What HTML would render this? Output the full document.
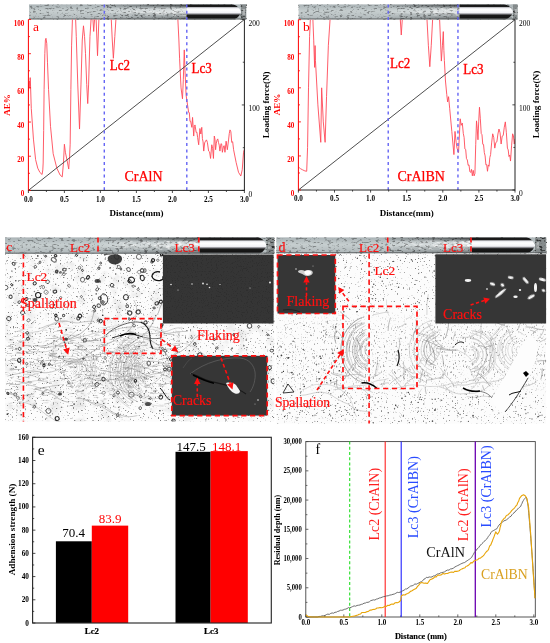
<!DOCTYPE html>
<html><head><meta charset="utf-8"><title>Scratch test figure</title>
<style>html,body{margin:0;padding:0;background:#fff;}svg{display:block;}</style></head>
<body>
<svg width="550" height="643" viewBox="0 0 550 643">
<rect width="550" height="643" fill="#fff"/>
<defs>
<clipPath id="clip_a"><rect x="28" y="19.5" width="217" height="172"/></clipPath>
<clipPath id="clip_b"><rect x="298" y="19.7" width="217" height="172"/></clipPath>
<filter id="speck" x="0" y="0" width="100%" height="100%" color-interpolation-filters="sRGB">
<feTurbulence type="fractalNoise" baseFrequency="0.3 0.6" numOctaves="2" seed="4"/>
<feColorMatrix type="matrix" values="0 0 0 0 0  0 0 0 0 0  0 0 0 0 0  -5 0 0 0 2.3"/>
<feGaussianBlur stdDeviation="0.35"/>
</filter>
<filter id="speck2" x="0" y="0" width="100%" height="100%" color-interpolation-filters="sRGB">
<feTurbulence type="fractalNoise" baseFrequency="0.45" numOctaves="2" seed="11"/>
<feColorMatrix type="matrix" values="0 0 0 0 0  0 0 0 0 0  0 0 0 0 0  -6 0 0 0 2.7"/>
</filter>
<linearGradient id="trackv" x1="0" y1="0" x2="0" y2="1">
<stop offset="0" stop-color="#151515"/><stop offset="0.15" stop-color="#1c1c1c"/><stop offset="0.22" stop-color="#e6e7ec"/>
<stop offset="0.35" stop-color="#ffffff"/><stop offset="0.56" stop-color="#f2f2f6"/><stop offset="0.64" stop-color="#8a8a90"/><stop offset="0.72" stop-color="#1a1a1a"/><stop offset="0.9" stop-color="#141414"/><stop offset="1" stop-color="#555"/>
</linearGradient>
<linearGradient id="partv" x1="0" y1="0" x2="0" y2="1">
<stop offset="0" stop-color="#000" stop-opacity="0.75"/><stop offset="0.14" stop-color="#000" stop-opacity="0.4"/><stop offset="0.3" stop-color="#fff" stop-opacity="0.35"/>
<stop offset="0.55" stop-color="#fff" stop-opacity="0.55"/><stop offset="0.75" stop-color="#000" stop-opacity="0.12"/><stop offset="1" stop-color="#000" stop-opacity="0.45"/>
</linearGradient>
<linearGradient id="fadehg" x1="0" y1="0" x2="1" y2="0">
<stop offset="0" stop-color="#fff" stop-opacity="0.15"/><stop offset="0.5" stop-color="#fff" stop-opacity="0.55"/><stop offset="1" stop-color="#fff" stop-opacity="1"/>
</linearGradient>
<mask id="fadeh" maskContentUnits="objectBoundingBox"><rect width="1" height="1" fill="url(#fadehg)"/></mask>
<filter id="wmottle" x="0" y="0" width="100%" height="100%" color-interpolation-filters="sRGB">
<feTurbulence type="fractalNoise" baseFrequency="0.18 0.45" numOctaves="2" seed="8"/>
<feColorMatrix type="matrix" values="0 0 0 0 1  0 0 0 0 1  0 0 0 0 1  6 0 0 0 -3.1"/>
</filter>
<linearGradient id="grayv" x1="0" y1="0" x2="0" y2="1">
<stop offset="0" stop-color="#aab3b6"/><stop offset="0.45" stop-color="#c6cecf"/><stop offset="1" stop-color="#b0b8ba"/>
</linearGradient>
<g id="strip_a">
<rect x="29" y="4.4" width="217.2" height="15" fill="url(#grayv)"/>
<rect x="29" y="4.4" width="217.2" height="15" fill="#000" filter="url(#speck)" opacity="0.32"/>
<rect x="0" y="0" width="1" height="1" fill="url(#partv)" mask="url(#fadeh)" transform="translate(105,4.4) scale(81.5,15) translate(0,0)"/>
<rect x="105" y="7.4" width="81.5" height="8.25" fill="#fff" filter="url(#wmottle)" opacity="0.45" mask="url(#fadeh)"/>
<rect x="105" y="4.4" width="81.5" height="15" fill="#000" filter="url(#speck)" opacity="0.15"/>
<path d="M186.5,4.4 H232 C237,4.4 240,8.9 241,11.9 C240,14.9 237,19.4 232,19.4 H186.5 Z" fill="url(#trackv)"/>
<rect x="241" y="4.4" width="5.2" height="15" fill="#858b8c"/>
<rect x="241" y="4.4" width="5.2" height="15" fill="#000" filter="url(#speck)" opacity="0.7"/>
<rect x="242.5" y="8.9" width="2.5" height="6" fill="#fff" opacity="0.35" filter="url(#blur05)"/>
<rect x="29" y="18.5" width="217.2" height="0.9" fill="#5a5f60"/>
</g>
<g id="strip_b">
<rect x="298.6" y="4.4" width="218.9" height="15" fill="url(#grayv)"/>
<rect x="298.6" y="4.4" width="218.9" height="15" fill="#000" filter="url(#speck)" opacity="0.32"/>
<rect x="0" y="0" width="1" height="1" fill="url(#partv)" mask="url(#fadeh)" transform="translate(389,4.4) scale(70.5,15) translate(0,0)"/>
<rect x="389" y="7.4" width="70.5" height="8.25" fill="#fff" filter="url(#wmottle)" opacity="0.45" mask="url(#fadeh)"/>
<rect x="389" y="4.4" width="70.5" height="15" fill="#000" filter="url(#speck)" opacity="0.15"/>
<path d="M459.5,4.4 H504 C509,4.4 512,8.9 513,11.9 C512,14.9 509,19.4 504,19.4 H459.5 Z" fill="url(#trackv)"/>
<rect x="513" y="4.4" width="4.5" height="15" fill="#858b8c"/>
<rect x="513" y="4.4" width="4.5" height="15" fill="#000" filter="url(#speck)" opacity="0.7"/>
<rect x="514.5" y="8.9" width="2.5" height="6" fill="#fff" opacity="0.35" filter="url(#blur05)"/>
<rect x="298.6" y="18.5" width="218.9" height="0.9" fill="#5a5f60"/>
</g>
</defs>
<use href="#strip_a"/>
<polyline points="28.4,91.28 28.98,84.44 29.48,81.02 29.84,87.86 30.2,77.61 30.56,86.15 31.28,108.37 33.44,139.13 35.6,159.64 37.76,168.18 39.92,172.46 42.08,174.51 42.8,169.89 43.16,163.06 43.66,130.59 44.1,89.57 44.82,53.68 45.39,40.01 45.97,38.3 46.76,43.43 47.48,62.22 48.56,89.57 50.5,126.31 53.17,153.66 56.84,168.18 60.08,175.02 62.24,176.9 63.46,163.06 64.4,144.26 65.48,152.8 66.78,158.95 68.72,169.04 69.58,156.22 70.16,144.26 70.88,89.57 71.6,45.13 72.46,17.79 75.56,17.79 76.28,36.59 77.79,84.95 79.52,129.05 80.96,84.95 82.26,40.01 83.48,25.82 84.56,36.59 85.5,53.68 86.72,84.44 87.73,103.58 88.59,84.95 89.96,36.59 91.18,17.79 92.84,17.79 93.7,31.46 94.64,17.79 96.08,17.79 97.52,55.73 98.96,17.79 111.2,17.79 112.28,40.01 113.36,58.29 114.8,36.59 116.02,17.79 177.8,17.79 178.88,40.01 179.6,58.81 181.04,87.86 182.48,98.8 183.34,79.31 184.28,49.92 185,70.77 186.08,95.04 186.8,99.99 188.67,112.47 189.32,112.63 189.97,121.35 190.62,121.19 191.84,127.34 192.56,117.43 193.71,136.05 194.36,126.29 195.01,124.95 196.16,132.46 196.88,132.16 197.6,137.42 198.68,144.77 199.9,128.53 200.84,134 201.78,127.34 202.42,138.62 203.07,141.94 203.72,151.09 204.62,142.98 205.52,141.18 206.46,139.87 207.39,142.38 208.62,151.09 209.59,151.84 210.56,158.44 211.78,144.77 212.61,148.31 213.44,158.44 214.3,136.05 214.95,139.09 215.6,149.73 216.32,143.23 217.04,139.98 217.76,138.9 218.48,142.38 219.2,145.12 219.92,151.09 221,143.57 221.68,144.08 222.37,152.29 223.52,146.14 224.24,145.72 224.96,152.29 226.11,141.18 227.34,149.73 228.56,139.98 229.28,133.48 230,129.9 230.86,131.75 231.73,142.38 232.66,141.72 233.6,149.73 236.12,162.37 238.5,172.28 240.8,176.04 242.24,169.72 243.54,152.29 244.4,149.38" fill="none" stroke="#ff4a58" stroke-width="0.9" stroke-linejoin="round" clip-path="url(#clip_a)"/>
<line x1="28.4" y1="190.4" x2="244.4" y2="19.5" stroke="#444" stroke-width="0.95" />
<line x1="104.29" y1="4.5" x2="104.29" y2="190.4" stroke="#6464f4" stroke-width="1.4" stroke-dasharray="3,3.3"/>
<line x1="186.8" y1="4.5" x2="186.8" y2="190.4" stroke="#6464f4" stroke-width="1.4" stroke-dasharray="3,3.3"/>
<line x1="28.4" y1="19.5" x2="28.4" y2="190.8" stroke="#ff0000" stroke-width="1" />
<line x1="28.4" y1="190.4" x2="244.4" y2="190.4" stroke="#222" stroke-width="1" />
<line x1="244.4" y1="19.5" x2="244.4" y2="190.8" stroke="#222" stroke-width="1" />
<line x1="28.4" y1="190.4" x2="31" y2="190.4" stroke="#ff0000" stroke-width="0.8" />
<g transform="translate(24.4,196.4) scale(1,1.1)"><text x="0" y="0" font-size="7.1" fill="#ff0000" font-weight="bold" text-anchor="end" font-family="'Liberation Serif', serif" >0</text></g>
<line x1="28.4" y1="173.31" x2="30" y2="173.31" stroke="#ff0000" stroke-width="0.8" />
<line x1="28.4" y1="156.22" x2="31" y2="156.22" stroke="#ff0000" stroke-width="0.8" />
<g transform="translate(24.4,162.22) scale(1,1.1)"><text x="0" y="0" font-size="7.1" fill="#ff0000" font-weight="bold" text-anchor="end" font-family="'Liberation Serif', serif" >20</text></g>
<line x1="28.4" y1="139.13" x2="30" y2="139.13" stroke="#ff0000" stroke-width="0.8" />
<line x1="28.4" y1="122.04" x2="31" y2="122.04" stroke="#ff0000" stroke-width="0.8" />
<g transform="translate(24.4,128.04) scale(1,1.1)"><text x="0" y="0" font-size="7.1" fill="#ff0000" font-weight="bold" text-anchor="end" font-family="'Liberation Serif', serif" >40</text></g>
<line x1="28.4" y1="104.95" x2="30" y2="104.95" stroke="#ff0000" stroke-width="0.8" />
<line x1="28.4" y1="87.86" x2="31" y2="87.86" stroke="#ff0000" stroke-width="0.8" />
<g transform="translate(24.4,93.86) scale(1,1.1)"><text x="0" y="0" font-size="7.1" fill="#ff0000" font-weight="bold" text-anchor="end" font-family="'Liberation Serif', serif" >60</text></g>
<line x1="28.4" y1="70.77" x2="30" y2="70.77" stroke="#ff0000" stroke-width="0.8" />
<line x1="28.4" y1="53.68" x2="31" y2="53.68" stroke="#ff0000" stroke-width="0.8" />
<g transform="translate(24.4,59.68) scale(1,1.1)"><text x="0" y="0" font-size="7.1" fill="#ff0000" font-weight="bold" text-anchor="end" font-family="'Liberation Serif', serif" >80</text></g>
<line x1="28.4" y1="36.59" x2="30" y2="36.59" stroke="#ff0000" stroke-width="0.8" />
<line x1="28.4" y1="19.5" x2="31" y2="19.5" stroke="#ff0000" stroke-width="0.8" />
<g transform="translate(24.4,25.5) scale(1,1.1)"><text x="0" y="0" font-size="7.1" fill="#ff0000" font-weight="bold" text-anchor="end" font-family="'Liberation Serif', serif" >100</text></g>
<line x1="244.4" y1="190.4" x2="241.8" y2="190.4" stroke="#222" stroke-width="0.8" />
<g transform="translate(248.4,196.5) scale(1,1.1)"><text x="0" y="0" font-size="7.5" fill="#000" font-weight="normal" text-anchor="start" font-family="'Liberation Serif', serif" >0</text></g>
<line x1="244.4" y1="147.68" x2="242.8" y2="147.68" stroke="#222" stroke-width="0.8" />
<line x1="244.4" y1="104.95" x2="241.8" y2="104.95" stroke="#222" stroke-width="0.8" />
<g transform="translate(248.4,111.05) scale(1,1.1)"><text x="0" y="0" font-size="7.5" fill="#000" font-weight="normal" text-anchor="start" font-family="'Liberation Serif', serif" >100</text></g>
<line x1="244.4" y1="62.22" x2="242.8" y2="62.22" stroke="#222" stroke-width="0.8" />
<line x1="244.4" y1="19.5" x2="241.8" y2="19.5" stroke="#222" stroke-width="0.8" />
<g transform="translate(248.4,25.6) scale(1,1.1)"><text x="0" y="0" font-size="7.5" fill="#000" font-weight="normal" text-anchor="start" font-family="'Liberation Serif', serif" >200</text></g>
<line x1="28.4" y1="190.4" x2="28.4" y2="193" stroke="#222" stroke-width="0.8" />
<g transform="translate(28.4,201.6) scale(1,1.12)"><text x="0" y="0" font-size="7.2" fill="#000" font-weight="bold" text-anchor="middle" font-family="'Liberation Serif', serif" >0.0</text></g>
<line x1="46.4" y1="190.4" x2="46.4" y2="192" stroke="#222" stroke-width="0.8" />
<line x1="64.4" y1="190.4" x2="64.4" y2="193" stroke="#222" stroke-width="0.8" />
<g transform="translate(64.4,201.6) scale(1,1.12)"><text x="0" y="0" font-size="7.2" fill="#000" font-weight="bold" text-anchor="middle" font-family="'Liberation Serif', serif" >0.5</text></g>
<line x1="82.4" y1="190.4" x2="82.4" y2="192" stroke="#222" stroke-width="0.8" />
<line x1="100.4" y1="190.4" x2="100.4" y2="193" stroke="#222" stroke-width="0.8" />
<g transform="translate(100.4,201.6) scale(1,1.12)"><text x="0" y="0" font-size="7.2" fill="#000" font-weight="bold" text-anchor="middle" font-family="'Liberation Serif', serif" >1.0</text></g>
<line x1="118.4" y1="190.4" x2="118.4" y2="192" stroke="#222" stroke-width="0.8" />
<line x1="136.4" y1="190.4" x2="136.4" y2="193" stroke="#222" stroke-width="0.8" />
<g transform="translate(136.4,201.6) scale(1,1.12)"><text x="0" y="0" font-size="7.2" fill="#000" font-weight="bold" text-anchor="middle" font-family="'Liberation Serif', serif" >1.5</text></g>
<line x1="154.4" y1="190.4" x2="154.4" y2="192" stroke="#222" stroke-width="0.8" />
<line x1="172.4" y1="190.4" x2="172.4" y2="193" stroke="#222" stroke-width="0.8" />
<g transform="translate(172.4,201.6) scale(1,1.12)"><text x="0" y="0" font-size="7.2" fill="#000" font-weight="bold" text-anchor="middle" font-family="'Liberation Serif', serif" >2.0</text></g>
<line x1="190.4" y1="190.4" x2="190.4" y2="192" stroke="#222" stroke-width="0.8" />
<line x1="208.4" y1="190.4" x2="208.4" y2="193" stroke="#222" stroke-width="0.8" />
<g transform="translate(208.4,201.6) scale(1,1.12)"><text x="0" y="0" font-size="7.2" fill="#000" font-weight="bold" text-anchor="middle" font-family="'Liberation Serif', serif" >2.5</text></g>
<line x1="226.4" y1="190.4" x2="226.4" y2="192" stroke="#222" stroke-width="0.8" />
<line x1="244.4" y1="190.4" x2="244.4" y2="193" stroke="#222" stroke-width="0.8" />
<g transform="translate(244.4,201.6) scale(1,1.12)"><text x="0" y="0" font-size="7.2" fill="#000" font-weight="bold" text-anchor="middle" font-family="'Liberation Serif', serif" >3.0</text></g>
<text x="33" y="31.4" font-size="13.5" fill="#ff0000" font-weight="normal" text-anchor="start" font-family="'Liberation Serif', serif" >a</text>
<g transform="translate(109.8,69.6) scale(1,1.08)"><text x="0" y="0" font-size="13" fill="#ff0000" font-weight="normal" text-anchor="start" font-family="'Liberation Serif', serif" stroke="#ff0000" stroke-width="0.3">Lc2</text></g>
<g transform="translate(191.6,73.2) scale(1,1.08)"><text x="0" y="0" font-size="13" fill="#ff0000" font-weight="normal" text-anchor="start" font-family="'Liberation Serif', serif" stroke="#ff0000" stroke-width="0.3">Lc3</text></g>
<text x="124.4" y="180.7" font-size="14" fill="#ff0000" font-weight="normal" text-anchor="start" font-family="'Liberation Serif', serif" stroke="#ff0000" stroke-width="0.25">CrAlN</text>
<text x="136.4" y="216.3" font-size="9" fill="#000" font-weight="bold" text-anchor="middle" font-family="'Liberation Serif', serif" >Distance(mm)</text>
<use href="#strip_b"/>
<polyline points="298.4,167.01 300.57,168.71 302.73,169.9 304.9,170.93 306.7,171.27 307.57,147.43 308.51,87.82 309.59,36.73 310.39,18 312.84,18 313.71,40.14 314.64,67.38 315.08,45.59 315.44,60.57 315.87,68.07 317.89,104.85 320.78,142.32 321.65,87.82 323.31,121.88 325.11,142.32 326.56,96.33 328.36,45.25 330.17,18 400.2,18 401.28,35.03 402.37,18 426.92,18 428.36,45.25 429.8,66.7 431.25,45.25 432.69,18 439.55,18 441.36,61.08 442.44,45.25 443.31,31.62 443.88,50.35 444.39,60.57 445.47,81.01 446.77,94.63 447.64,101.95 448.58,96.68 449.66,108.26 451.82,131.42 453.92,154.58 455,131.42 456.16,142.32 457.02,148.11 458.54,152.53 460.2,118.81 461.21,125.29 462.29,123.07 463.3,133.46 464.1,137.39 464.89,148.91 465.69,149.49 466.48,158.66 467.32,159.93 468.16,165.33 468.99,164.83 469.83,171.54 470.67,172.46 471.52,169.41 472.37,175.8 473.23,170.37 474.08,175.86 474.93,173.48 475.72,144.31 476.52,120.86 477.24,128.8 477.96,139.76 478.72,121.22 479.48,107.23 480.34,118.8 481.21,133.46 481.99,134.73 482.76,144.28 483.54,144.49 484.31,152.53 485.11,155.9 485.9,164.83 486.7,164.58 487.49,171.27 488.27,164.91 489.04,166.26 489.82,157.58 490.6,154.58 491.64,142.91 492.69,133.8 493.74,137.43 494.78,148.11 495.83,142.5 496.88,141.81 497.92,134.06 498.97,129.03 500.05,132.81 501.14,144.02 502.18,136.15 503.23,135.5 504.28,127.27 505.33,121.88 506.37,132.76 507.42,148.11 508.2,149.86 508.97,156.52 509.75,155.06 510.52,161.05 511.57,145.87 512.62,133.8 513.45,135.96 514.28,144.02 515,138.91" fill="none" stroke="#ff4a58" stroke-width="0.9" stroke-linejoin="round" clip-path="url(#clip_b)"/>
<line x1="298.4" y1="190" x2="515" y2="19.7" stroke="#444" stroke-width="0.95" />
<line x1="388.22" y1="4.5" x2="388.22" y2="190" stroke="#6464f4" stroke-width="1.4" stroke-dasharray="3,3.3"/>
<line x1="457.96" y1="4.5" x2="457.96" y2="190" stroke="#6464f4" stroke-width="1.4" stroke-dasharray="3,3.3"/>
<line x1="298.4" y1="19.7" x2="298.4" y2="190.4" stroke="#ff0000" stroke-width="1" />
<line x1="298.4" y1="190" x2="515" y2="190" stroke="#222" stroke-width="1" />
<line x1="515" y1="19.7" x2="515" y2="190.4" stroke="#222" stroke-width="1" />
<line x1="298.4" y1="190" x2="301" y2="190" stroke="#ff0000" stroke-width="0.8" />
<g transform="translate(294.4,196) scale(1,1.1)"><text x="0" y="0" font-size="7.1" fill="#ff0000" font-weight="bold" text-anchor="end" font-family="'Liberation Serif', serif" >0</text></g>
<line x1="298.4" y1="172.97" x2="300" y2="172.97" stroke="#ff0000" stroke-width="0.8" />
<line x1="298.4" y1="155.94" x2="301" y2="155.94" stroke="#ff0000" stroke-width="0.8" />
<g transform="translate(294.4,161.94) scale(1,1.1)"><text x="0" y="0" font-size="7.1" fill="#ff0000" font-weight="bold" text-anchor="end" font-family="'Liberation Serif', serif" >20</text></g>
<line x1="298.4" y1="138.91" x2="300" y2="138.91" stroke="#ff0000" stroke-width="0.8" />
<line x1="298.4" y1="121.88" x2="301" y2="121.88" stroke="#ff0000" stroke-width="0.8" />
<g transform="translate(294.4,127.88) scale(1,1.1)"><text x="0" y="0" font-size="7.1" fill="#ff0000" font-weight="bold" text-anchor="end" font-family="'Liberation Serif', serif" >40</text></g>
<line x1="298.4" y1="104.85" x2="300" y2="104.85" stroke="#ff0000" stroke-width="0.8" />
<line x1="298.4" y1="87.82" x2="301" y2="87.82" stroke="#ff0000" stroke-width="0.8" />
<g transform="translate(294.4,93.82) scale(1,1.1)"><text x="0" y="0" font-size="7.1" fill="#ff0000" font-weight="bold" text-anchor="end" font-family="'Liberation Serif', serif" >60</text></g>
<line x1="298.4" y1="70.79" x2="300" y2="70.79" stroke="#ff0000" stroke-width="0.8" />
<line x1="298.4" y1="53.76" x2="301" y2="53.76" stroke="#ff0000" stroke-width="0.8" />
<g transform="translate(294.4,59.76) scale(1,1.1)"><text x="0" y="0" font-size="7.1" fill="#ff0000" font-weight="bold" text-anchor="end" font-family="'Liberation Serif', serif" >80</text></g>
<line x1="298.4" y1="36.73" x2="300" y2="36.73" stroke="#ff0000" stroke-width="0.8" />
<line x1="298.4" y1="19.7" x2="301" y2="19.7" stroke="#ff0000" stroke-width="0.8" />
<g transform="translate(294.4,25.7) scale(1,1.1)"><text x="0" y="0" font-size="7.1" fill="#ff0000" font-weight="bold" text-anchor="end" font-family="'Liberation Serif', serif" >100</text></g>
<line x1="515" y1="190" x2="512.4" y2="190" stroke="#222" stroke-width="0.8" />
<g transform="translate(519,196.1) scale(1,1.1)"><text x="0" y="0" font-size="7.5" fill="#000" font-weight="normal" text-anchor="start" font-family="'Liberation Serif', serif" >0</text></g>
<line x1="515" y1="147.43" x2="513.4" y2="147.43" stroke="#222" stroke-width="0.8" />
<line x1="515" y1="104.85" x2="512.4" y2="104.85" stroke="#222" stroke-width="0.8" />
<g transform="translate(519,110.95) scale(1,1.1)"><text x="0" y="0" font-size="7.5" fill="#000" font-weight="normal" text-anchor="start" font-family="'Liberation Serif', serif" >100</text></g>
<line x1="515" y1="62.27" x2="513.4" y2="62.27" stroke="#222" stroke-width="0.8" />
<line x1="515" y1="19.7" x2="512.4" y2="19.7" stroke="#222" stroke-width="0.8" />
<g transform="translate(519,25.8) scale(1,1.1)"><text x="0" y="0" font-size="7.5" fill="#000" font-weight="normal" text-anchor="start" font-family="'Liberation Serif', serif" >200</text></g>
<line x1="298.4" y1="190" x2="298.4" y2="192.6" stroke="#222" stroke-width="0.8" />
<g transform="translate(298.4,201.2) scale(1,1.12)"><text x="0" y="0" font-size="7.2" fill="#000" font-weight="bold" text-anchor="middle" font-family="'Liberation Serif', serif" >0.0</text></g>
<line x1="316.45" y1="190" x2="316.45" y2="191.6" stroke="#222" stroke-width="0.8" />
<line x1="334.5" y1="190" x2="334.5" y2="192.6" stroke="#222" stroke-width="0.8" />
<g transform="translate(334.5,201.2) scale(1,1.12)"><text x="0" y="0" font-size="7.2" fill="#000" font-weight="bold" text-anchor="middle" font-family="'Liberation Serif', serif" >0.5</text></g>
<line x1="352.55" y1="190" x2="352.55" y2="191.6" stroke="#222" stroke-width="0.8" />
<line x1="370.6" y1="190" x2="370.6" y2="192.6" stroke="#222" stroke-width="0.8" />
<g transform="translate(370.6,201.2) scale(1,1.12)"><text x="0" y="0" font-size="7.2" fill="#000" font-weight="bold" text-anchor="middle" font-family="'Liberation Serif', serif" >1.0</text></g>
<line x1="388.65" y1="190" x2="388.65" y2="191.6" stroke="#222" stroke-width="0.8" />
<line x1="406.7" y1="190" x2="406.7" y2="192.6" stroke="#222" stroke-width="0.8" />
<g transform="translate(406.7,201.2) scale(1,1.12)"><text x="0" y="0" font-size="7.2" fill="#000" font-weight="bold" text-anchor="middle" font-family="'Liberation Serif', serif" >1.5</text></g>
<line x1="424.75" y1="190" x2="424.75" y2="191.6" stroke="#222" stroke-width="0.8" />
<line x1="442.8" y1="190" x2="442.8" y2="192.6" stroke="#222" stroke-width="0.8" />
<g transform="translate(442.8,201.2) scale(1,1.12)"><text x="0" y="0" font-size="7.2" fill="#000" font-weight="bold" text-anchor="middle" font-family="'Liberation Serif', serif" >2.0</text></g>
<line x1="460.85" y1="190" x2="460.85" y2="191.6" stroke="#222" stroke-width="0.8" />
<line x1="478.9" y1="190" x2="478.9" y2="192.6" stroke="#222" stroke-width="0.8" />
<g transform="translate(478.9,201.2) scale(1,1.12)"><text x="0" y="0" font-size="7.2" fill="#000" font-weight="bold" text-anchor="middle" font-family="'Liberation Serif', serif" >2.5</text></g>
<line x1="496.95" y1="190" x2="496.95" y2="191.6" stroke="#222" stroke-width="0.8" />
<line x1="515" y1="190" x2="515" y2="192.6" stroke="#222" stroke-width="0.8" />
<g transform="translate(515,201.2) scale(1,1.12)"><text x="0" y="0" font-size="7.2" fill="#000" font-weight="bold" text-anchor="middle" font-family="'Liberation Serif', serif" >3.0</text></g>
<text x="303" y="31.4" font-size="13.5" fill="#ff0000" font-weight="normal" text-anchor="start" font-family="'Liberation Serif', serif" >b</text>
<g transform="translate(390,68) scale(1,1.08)"><text x="0" y="0" font-size="13" fill="#ff0000" font-weight="normal" text-anchor="start" font-family="'Liberation Serif', serif" stroke="#ff0000" stroke-width="0.3">Lc2</text></g>
<g transform="translate(463.3,73.6) scale(1,1.08)"><text x="0" y="0" font-size="13" fill="#ff0000" font-weight="normal" text-anchor="start" font-family="'Liberation Serif', serif" stroke="#ff0000" stroke-width="0.3">Lc3</text></g>
<text x="397.4" y="181.4" font-size="14" fill="#ff0000" font-weight="normal" text-anchor="start" font-family="'Liberation Serif', serif" stroke="#ff0000" stroke-width="0.25">CrAlBN</text>
<text x="406.7" y="216.3" font-size="9" fill="#000" font-weight="bold" text-anchor="middle" font-family="'Liberation Serif', serif" >Distance(mm)</text>
<text x="6.6" y="105" font-size="9" fill="#ff0000" font-weight="bold" text-anchor="middle" font-family="'Liberation Serif', serif" transform="rotate(-90 6.6 105)" dy="3">AE%</text>
<text x="266" y="104.8" font-size="9.1" fill="#000" font-weight="bold" text-anchor="middle" font-family="'Liberation Serif', serif" transform="rotate(-90 266 104.8)" dy="3">Loading force(N)</text>
<text x="277.1" y="104.5" font-size="9" fill="#ff0000" font-weight="bold" text-anchor="middle" font-family="'Liberation Serif', serif" transform="rotate(-90 277.1 104.5)" dy="3">AE%</text>
<text x="535.8" y="104.5" font-size="9.2" fill="#000" font-weight="bold" text-anchor="middle" font-family="'Liberation Serif', serif" transform="rotate(-90 535.8 104.5)" dy="3">Loading force(N)</text>
<defs>
<filter id="speck3" x="0" y="0" width="100%" height="100%" color-interpolation-filters="sRGB">
<feTurbulence type="fractalNoise" baseFrequency="0.25 0.5" numOctaves="2" seed="21"/>
<feColorMatrix type="matrix" values="0 0 0 0 0  0 0 0 0 0  0 0 0 0 0  -5 0 0 0 2.3"/>
<feGaussianBlur stdDeviation="0.35"/>
</filter>
<filter id="speckW" x="0" y="0" width="100%" height="100%" color-interpolation-filters="sRGB">
<feTurbulence type="fractalNoise" baseFrequency="0.6" numOctaves="2" seed="5"/>
<feColorMatrix type="matrix" values="0 0 0 0 0  0 0 0 0 0  0 0 0 0 0  -7 0 0 0 2.45"/>
<feGaussianBlur stdDeviation="0.3"/>
</filter>
<filter id="speckW2" x="0" y="0" width="100%" height="100%" color-interpolation-filters="sRGB">
<feTurbulence type="fractalNoise" baseFrequency="0.65" numOctaves="2" seed="13"/>
<feColorMatrix type="matrix" values="0 0 0 0 0  0 0 0 0 0  0 0 0 0 0  -8 0 0 0 2.75"/>
<feGaussianBlur stdDeviation="0.3"/>
</filter>
<filter id="haze" x="0" y="0" width="100%" height="100%" color-interpolation-filters="sRGB">
<feTurbulence type="fractalNoise" baseFrequency="0.08" numOctaves="3" seed="3"/>
<feColorMatrix type="matrix" values="0 0 0 0 0  0 0 0 0 0  0 0 0 0 0  -3 0 0 0 1.45"/>
</filter>
<filter id="speckD" x="0" y="0" width="100%" height="100%" color-interpolation-filters="sRGB">
<feTurbulence type="fractalNoise" baseFrequency="0.8" numOctaves="2" seed="9"/>
<feColorMatrix type="matrix" values="0 0 0 0 0  0 0 0 0 0  0 0 0 0 0  -6 0 0 0 2.6"/>
</filter>
<filter id="striae" x="0" y="0" width="100%" height="100%" color-interpolation-filters="sRGB">
<feTurbulence type="fractalNoise" baseFrequency="0.12 0.55" numOctaves="3" seed="17"/>
<feColorMatrix type="matrix" values="0 0 0 0 0  0 0 0 0 0  0 0 0 0 0  -7 0 0 0 2.95"/>
<feGaussianBlur stdDeviation="0.25"/>
</filter>
<filter id="hatch" x="0" y="0" width="100%" height="100%" color-interpolation-filters="sRGB">
<feTurbulence type="fractalNoise" baseFrequency="0.9 0.35" numOctaves="2" seed="23"/>
<feColorMatrix type="matrix" values="0 0 0 0 0  0 0 0 0 0  0 0 0 0 0  -8 0 0 0 2.9"/>
<feGaussianBlur stdDeviation="0.2"/>
</filter>
<linearGradient id="bandfade" x1="0" y1="0" x2="0" y2="1">
<stop offset="0" stop-color="#fff" stop-opacity="0"/><stop offset="0.2" stop-color="#fff" stop-opacity="1"/><stop offset="0.8" stop-color="#fff" stop-opacity="1"/><stop offset="1" stop-color="#fff" stop-opacity="0"/>
</linearGradient>
<mask id="bandmask" maskContentUnits="objectBoundingBox"><rect width="1" height="1" fill="url(#bandfade)"/></mask>
<filter id="blur1"><feGaussianBlur stdDeviation="0.8"/></filter>
<filter id="blur05"><feGaussianBlur stdDeviation="0.45"/></filter>
<clipPath id="clip_c"><rect x="5" y="253.6" width="269.3" height="168"/></clipPath>
<clipPath id="clip_d"><rect x="276.3" y="253.2" width="269.9" height="170.3"/></clipPath>
</defs>
<rect x="5" y="253.6" width="269.3" height="168" fill="#fcfcfc"/>
<g clip-path="url(#clip_c)">
<rect x="5" y="253.6" width="269.3" height="168" fill="#000" filter="url(#speckW)" opacity="0.5"/>
<rect x="5" y="253.6" width="269.3" height="168" fill="#888" filter="url(#haze)" opacity="0.08"/>
<rect x="5" y="322" width="175" height="88" fill="#000" filter="url(#striae)" opacity="0.22" mask="url(#bandmask)"/>
<rect x="60" y="345" width="115" height="48" fill="#000" filter="url(#hatch)" opacity="0.3" mask="url(#bandmask)"/>
<path d="M60.05,339.62 C60.92,339.54 63.55,339.4 65.29,339.19 C67.03,338.98 68.81,338.85 70.48,338.34 C72.14,337.84 73.66,336.89 75.26,336.17 C76.85,335.45 78.58,334.94 80.05,334.01 C81.52,333.09 82.75,331.78 84.07,330.63 C85.39,329.47 86.83,328.41 87.95,327.09 C89.07,325.76 90.04,324.24 90.8,322.67 C91.56,321.11 91.96,319.37 92.49,317.7 C93.02,316.03 93.31,314.27 93.95,312.65 C94.6,311.03 95.97,308.76 96.37,307.98" fill="none" stroke="#878787" stroke-width="0.59" stroke-linejoin="round" />
<path d="M112.21,372.89 C113.14,372.65 115.99,372.09 117.8,371.46 C119.61,370.84 121.31,369.87 123.08,369.13 C124.85,368.38 126.75,367.87 128.43,366.97 C130.12,366.06 132.4,364.24 133.19,363.69" fill="none" stroke="#adadad" stroke-width="0.43" stroke-linejoin="round" />
<path d="M25.02,351.75 C25.87,351.73 28.4,351.59 30.09,351.61 C31.78,351.64 33.46,351.87 35.15,351.89 C36.84,351.92 38.53,351.8 40.22,351.79 C41.9,351.78 43.62,352.03 45.28,351.83 C46.94,351.62 48.64,351.18 50.19,350.55 C51.74,349.92 53.2,349 54.59,348.04 C55.97,347.08 57.13,345.8 58.48,344.79 C59.83,343.79 61.31,342.95 62.7,341.99 C64.08,341.02 65.49,340.07 66.79,339 C68.09,337.93 69.25,336.69 70.53,335.58 C71.8,334.47 73.14,333.44 74.43,332.35 C75.72,331.25 77.61,329.57 78.25,329.01" fill="none" stroke="#9e9e9e" stroke-width="0.45" stroke-linejoin="round" />
<path d="M35.56,388.05 C36.56,388 39.58,387.94 41.58,387.74 C43.57,387.54 45.55,387.19 47.54,386.87 C49.52,386.55 51.48,386.11 53.47,385.82 C55.45,385.53 58.46,385.27 59.45,385.16" fill="none" stroke="#818181" stroke-width="0.42" stroke-linejoin="round" />
<path d="M76.08,386.3 C76.97,386.05 79.6,385.2 81.39,384.78 C83.18,384.36 84.99,383.98 86.82,383.8 C88.64,383.62 90.5,383.69 92.34,383.69 C94.18,383.7 96.05,383.58 97.86,383.83 C99.67,384.08 102.31,384.96 103.21,385.19" fill="none" stroke="#a0a0a0" stroke-width="0.47" stroke-linejoin="round" />
<path d="M64.53,366.24 C65.38,365.94 67.99,365.12 69.65,364.39 C71.3,363.66 72.81,362.6 74.46,361.85 C76.11,361.11 77.96,360.76 79.54,359.9 C81.12,359.04 82.4,357.66 83.94,356.7 C85.47,355.74 87.19,355.09 88.74,354.15 C90.29,353.21 91.7,352.05 93.22,351.06 C94.73,350.06 96.25,349.05 97.84,348.18 C99.42,347.31 101.12,346.64 102.74,345.82 C104.36,345.01 105.91,344.04 107.56,343.31 C109.22,342.58 110.92,341.86 112.67,341.44 C114.42,341.02 117.17,340.9 118.07,340.8" fill="none" stroke="#a4a4a4" stroke-width="0.4" stroke-linejoin="round" />
<path d="M83.49,340.94 C84.35,340.99 86.94,341.32 88.65,341.22 C90.36,341.13 92.08,340.78 93.75,340.36 C95.42,339.95 97.04,339.34 98.66,338.74 C100.28,338.15 101.8,337.27 103.45,336.8 C105.1,336.34 107.71,336.11 108.56,335.97" fill="none" stroke="#828282" stroke-width="0.43" stroke-linejoin="round" />
<path d="M73.28,349.39 C74.17,349.41 76.87,349.33 78.65,349.47 C80.43,349.6 82.27,349.71 83.97,350.2 C85.67,350.7 87.27,351.6 88.85,352.43 C90.43,353.27 91.89,354.33 93.46,355.19 C95.03,356.05 97.45,357.2 98.25,357.61" fill="none" stroke="#959595" stroke-width="0.43" stroke-linejoin="round" />
<path d="M34.96,345.86 C35.84,345.9 38.47,346.16 40.23,346.12 C41.98,346.09 43.79,346.05 45.48,345.64 C47.17,345.22 48.76,344.34 50.36,343.63 C51.97,342.92 53.58,342.2 55.14,341.39 C56.7,340.58 58.18,339.62 59.73,338.78 C61.28,337.94 63.64,336.76 64.42,336.35" fill="none" stroke="#888888" stroke-width="0.54" stroke-linejoin="round" />
<path d="M92.63,375.55 C93.52,375.67 96.22,375.88 97.97,376.27 C99.71,376.65 101.47,377.14 103.11,377.86 C104.74,378.58 106.3,379.53 107.76,380.56 C109.22,381.59 110.46,382.93 111.86,384.04 C113.27,385.16 114.71,386.23 116.18,387.25 C117.65,388.28 119.09,389.41 120.69,390.2 C122.28,390.99 124.09,391.33 125.76,392 C127.42,392.66 128.96,393.69 130.67,394.2 C132.37,394.71 134.2,395 135.98,395.05 C137.76,395.1 140.44,394.6 141.33,394.51" fill="none" stroke="#929292" stroke-width="0.49" stroke-linejoin="round" />
<path d="M23.69,374.26 C24.52,374.29 27.07,374.16 28.71,374.45 C30.34,374.73 31.92,375.41 33.5,375.97 C35.07,376.53 36.56,377.4 38.17,377.81 C39.78,378.22 41.49,378.35 43.16,378.4 C44.83,378.45 47.34,378.16 48.17,378.11" fill="none" stroke="#a8a8a8" stroke-width="0.43" stroke-linejoin="round" />
<path d="M47.88,354.75 C48.79,354.86 51.57,354.92 53.3,355.4 C55.04,355.87 56.63,356.88 58.3,357.6 C59.97,358.31 61.66,359 63.34,359.69 C65.02,360.38 66.65,361.28 68.4,361.74 C70.14,362.2 72,362.45 73.81,362.48 C75.61,362.51 77.44,362.19 79.24,361.92 C81.03,361.65 83.7,361.03 84.59,360.85" fill="none" stroke="#999999" stroke-width="0.5" stroke-linejoin="round" />
<path d="M122.65,367.76 C123.49,367.78 126.02,367.75 127.69,367.89 C129.36,368.02 131.08,368.15 132.69,368.59 C134.3,369.02 135.86,369.74 137.35,370.5 C138.85,371.25 140.19,372.32 141.67,373.1 C143.16,373.88 144.77,374.41 146.27,375.17 C147.78,375.92 149.95,377.21 150.68,377.62" fill="none" stroke="#838383" stroke-width="0.54" stroke-linejoin="round" />
<path d="M49.39,356.24 C50.33,356.32 53.18,356.4 55.04,356.72 C56.9,357.03 58.68,357.75 60.53,358.13 C62.38,358.51 64.26,358.85 66.14,358.98 C68.02,359.11 69.93,358.74 71.81,358.89 C73.68,359.03 76.46,359.69 77.39,359.85" fill="none" stroke="#909090" stroke-width="0.56" stroke-linejoin="round" />
<path d="M144.12,384.97 C144.98,384.9 147.64,384.92 149.32,384.54 C151,384.16 152.69,383.51 154.2,382.68 C155.71,381.84 157.05,380.66 158.36,379.52 C159.68,378.38 160.93,377.15 162.07,375.85 C163.22,374.54 164.09,373 165.22,371.68 C166.34,370.35 168.22,368.52 168.82,367.89" fill="none" stroke="#a4a4a4" stroke-width="0.49" stroke-linejoin="round" />
<path d="M164.29,404.08 C165.14,403.91 167.74,403.52 169.4,403.04 C171.06,402.56 172.72,401.95 174.27,401.19 C175.82,400.43 177.33,399.51 178.72,398.48 C180.12,397.45 181.29,396.13 182.63,395.03 C183.97,393.93 185.29,392.75 186.78,391.88 C188.27,391.01 189.92,390.33 191.56,389.81 C193.21,389.29 194.97,389.11 196.67,388.75 C198.37,388.39 200.05,387.92 201.76,387.63 C203.47,387.33 205.2,387.04 206.93,386.98 C208.66,386.92 210.41,387.38 212.13,387.26 C213.85,387.14 215.53,386.51 217.24,386.26 C218.96,386 220.71,385.7 222.43,385.75 C224.15,385.79 226.73,386.38 227.59,386.51" fill="none" stroke="#919191" stroke-width="0.5" stroke-linejoin="round" />
<path d="M35.35,388.76 C36.17,389.07 38.6,390.03 40.25,390.58 C41.91,391.14 43.58,391.64 45.26,392.09 C46.95,392.55 48.74,392.68 50.35,393.3 C51.97,393.92 53.48,394.88 54.94,395.82 C56.41,396.76 57.66,398.04 59.15,398.93 C60.64,399.82 62.25,400.59 63.89,401.15 C65.53,401.71 68.15,402.08 69,402.27" fill="none" stroke="#8b8b8b" stroke-width="0.52" stroke-linejoin="round" />
<path d="M84.11,378.5 C84.95,378.51 87.51,378.31 89.17,378.54 C90.82,378.77 92.39,379.61 94.04,379.89 C95.7,380.17 97.41,380.08 99.09,380.21 C100.77,380.34 102.46,380.76 104.13,380.68 C105.79,380.59 107.42,379.88 109.09,379.7 C110.76,379.53 112.47,379.54 114.15,379.63 C115.83,379.71 117.49,380.23 119.17,380.24 C120.84,380.24 122.51,379.71 124.19,379.64 C125.87,379.57 127.57,379.93 129.25,379.81 C130.92,379.68 133.39,379.03 134.22,378.88" fill="none" stroke="#909090" stroke-width="0.57" stroke-linejoin="round" />
<path d="M40.88,347.39 C41.84,347.38 44.74,347.49 46.65,347.33 C48.56,347.17 50.46,346.78 52.36,346.44 C54.25,346.1 56.19,345.87 58.01,345.27 C59.83,344.68 61.45,343.46 63.27,342.89 C65.1,342.33 67.08,342.29 68.96,341.87 C70.83,341.44 73.6,340.6 74.53,340.35" fill="none" stroke="#b2b2b2" stroke-width="0.53" stroke-linejoin="round" />
<path d="M143.56,367.79 C144.4,367.68 146.98,367.52 148.63,367.12 C150.28,366.73 151.84,365.98 153.45,365.42 C155.06,364.86 156.63,364.12 158.28,363.75 C159.93,363.38 161.66,363.23 163.36,363.19 C165.06,363.14 166.77,363.32 168.47,363.47 C170.16,363.63 171.88,363.75 173.54,364.09 C175.21,364.44 176.78,365.23 178.45,365.54 C180.11,365.85 181.85,365.99 183.54,365.93 C185.24,365.88 186.91,365.4 188.61,365.23 C190.3,365.06 192.04,365.19 193.71,364.89 C195.38,364.58 197.07,364.1 198.6,363.4 C200.14,362.71 202.22,361.15 202.94,360.7" fill="none" stroke="#bababa" stroke-width="0.51" stroke-linejoin="round" />
<path d="M87.02,387.79 C87.88,387.53 90.54,386.99 92.14,386.25 C93.75,385.52 95.29,384.51 96.66,383.38 C98.02,382.26 99.14,380.83 100.35,379.52 C101.57,378.22 102.95,377.02 103.94,375.55 C104.92,374.09 105.31,372.23 106.27,370.74 C107.22,369.25 108.73,368.11 109.66,366.61 C110.59,365.11 111.22,363.4 111.87,361.74 C112.52,360.08 112.77,358.24 113.56,356.67 C114.34,355.09 115.54,353.7 116.6,352.27 C117.66,350.84 118.94,349.56 119.91,348.07 C120.88,346.59 121.69,344.97 122.42,343.35 C123.15,341.73 123.97,339.17 124.28,338.34" fill="none" stroke="#b9b9b9" stroke-width="0.51" stroke-linejoin="round" />
<path d="M86.27,400.5 C87.12,400.81 89.66,401.9 91.42,402.41 C93.17,402.92 95.01,403.15 96.79,403.56 C98.58,403.98 100.43,404.23 102.12,404.91 C103.81,405.58 105.42,406.55 106.91,407.61 C108.4,408.66 109.56,410.18 111.05,411.22 C112.55,412.26 114.19,413.16 115.88,413.85 C117.56,414.53 119.4,414.87 121.17,415.33 C122.94,415.79 124.71,416.42 126.51,416.62 C128.32,416.82 130.19,416.69 132.01,416.52 C133.83,416.34 136.52,415.72 137.42,415.56" fill="none" stroke="#818181" stroke-width="0.44" stroke-linejoin="round" />
<path d="M56.47,337.42 C57.35,337.59 59.96,338.17 61.72,338.44 C63.49,338.71 65.26,338.97 67.04,339.03 C68.82,339.1 70.63,339.09 72.39,338.84 C74.14,338.58 75.84,337.95 77.56,337.49 C79.29,337.02 80.97,336.4 82.71,336.04 C84.46,335.69 86.31,335.8 88.02,335.37 C89.74,334.94 91.3,333.88 93.01,333.44 C94.73,332.99 96.59,333.12 98.31,332.7 C100.03,332.28 101.65,331.42 103.35,330.91 C105.06,330.4 106.86,330.21 108.55,329.64 C110.23,329.08 112.64,327.88 113.46,327.53" fill="none" stroke="#afafaf" stroke-width="0.6" stroke-linejoin="round" />
<path d="M73.65,360.44 C74.53,360.28 77.21,359.88 78.97,359.48 C80.72,359.07 82.44,358.52 84.17,358.01 C85.89,357.5 87.58,356.84 89.33,356.41 C91.08,355.98 92.89,355.83 94.65,355.45 C96.41,355.07 98.14,354.56 99.89,354.13 C101.64,353.69 103.42,353.38 105.14,352.86 C106.86,352.33 109.36,351.27 110.2,350.95" fill="none" stroke="#808080" stroke-width="0.42" stroke-linejoin="round" />
<path d="M161.15,345.6 C162.01,345.39 164.58,344.55 166.32,344.35 C168.07,344.15 169.88,344.54 171.64,344.39 C173.4,344.23 175.11,343.6 176.87,343.41 C178.63,343.22 180.42,343.14 182.19,343.25 C183.95,343.37 185.73,343.64 187.43,344.1 C189.14,344.57 190.78,345.3 192.39,346.03 C194.01,346.76 195.68,347.46 197.12,348.47 C198.56,349.48 199.69,350.91 201.03,352.07 C202.37,353.24 203.78,354.31 205.14,355.45 C206.5,356.59 207.83,357.75 209.17,358.91 C210.51,360.07 211.84,361.25 213.18,362.41 C214.51,363.58 216.52,365.32 217.19,365.9" fill="none" stroke="#a1a1a1" stroke-width="0.42" stroke-linejoin="round" />
<path d="M14.78,380.99 C15.63,381.13 18.19,381.47 19.87,381.82 C21.56,382.16 23.26,382.49 24.88,383.05 C26.5,383.6 27.96,384.66 29.59,385.16 C31.22,385.66 33.02,385.57 34.67,386.04 C36.31,386.52 37.8,387.55 39.45,387.99 C41.1,388.42 42.9,388.24 44.56,388.63 C46.23,389.03 47.79,389.82 49.42,390.37 C51.05,390.93 53.51,391.71 54.32,391.97" fill="none" stroke="#a3a3a3" stroke-width="0.6" stroke-linejoin="round" />
<path d="M76.02,398.49 C76.87,398.5 79.46,398.32 81.13,398.57 C82.8,398.82 84.5,399.29 86.04,399.98 C87.58,400.66 88.87,401.89 90.37,402.69 C91.86,403.49 93.43,404.23 95.03,404.76 C96.64,405.3 98.43,405.32 100.01,405.91 C101.6,406.5 103.06,407.44 104.53,408.3 C106,409.15 107.42,410.1 108.85,411.02 C110.28,411.94 111.63,413.02 113.12,413.83 C114.61,414.63 116.24,415.2 117.81,415.84 C119.39,416.49 121.78,417.39 122.57,417.7" fill="none" stroke="#8e8e8e" stroke-width="0.45" stroke-linejoin="round" />
<path d="M141.63,404.58 C142.53,404.47 145.25,403.91 147.05,403.96 C148.85,404.02 150.64,404.59 152.43,404.91 C154.22,405.24 156,405.72 157.8,405.91 C159.61,406.1 162.35,406.05 163.26,406.08" fill="none" stroke="#b1b1b1" stroke-width="0.42" stroke-linejoin="round" />
<path d="M144.22,361.28 C145.15,361.29 147.95,361.33 149.81,361.37 C151.67,361.4 153.55,361.34 155.4,361.48 C157.26,361.62 159.17,361.72 160.95,362.22 C162.72,362.73 164.32,363.83 166.05,364.51 C167.78,365.2 169.66,365.55 171.34,366.32 C173.03,367.09 174.63,368.1 176.18,369.13 C177.73,370.16 179.19,371.33 180.63,372.52 C182.06,373.71 184.09,375.64 184.78,376.26" fill="none" stroke="#ababab" stroke-width="0.6" stroke-linejoin="round" />
<path d="M7.42,376.16 C8.28,375.91 10.82,375.08 12.54,374.67 C14.27,374.26 16.05,374.08 17.79,373.69 C19.52,373.3 21.22,372.79 22.95,372.34 C24.67,371.9 26.36,371.21 28.11,371.01 C29.86,370.82 31.67,371.07 33.44,371.17 C35.21,371.28 37,371.39 38.75,371.65 C40.51,371.91 42.21,372.62 43.97,372.74 C45.73,372.86 47.55,372.66 49.29,372.38 C51.04,372.09 52.77,371.59 54.45,371.03 C56.13,370.46 57.87,369.88 59.37,368.97 C60.88,368.07 62.16,366.76 63.48,365.57 C64.8,364.38 66.65,362.46 67.29,361.84" fill="none" stroke="#a2a2a2" stroke-width="0.59" stroke-linejoin="round" />
<path d="M98,346.82 C98.87,346.71 101.55,346.61 103.21,346.13 C104.87,345.65 106.42,344.72 107.98,343.94 C109.54,343.15 111.06,342.26 112.59,341.41 C114.11,340.55 115.63,339.68 117.15,338.81 C118.67,337.95 120.29,337.21 121.72,336.22 C123.15,335.23 124.41,333.98 125.75,332.86 C127.1,331.74 128.64,330.79 129.8,329.5 C130.95,328.21 131.83,326.64 132.68,325.12 C133.54,323.59 134.38,322.01 134.92,320.36 C135.46,318.71 135.65,316.94 135.93,315.21 C136.22,313.48 136.64,311.74 136.63,310 C136.62,308.27 136.38,306.47 135.89,304.8 C135.4,303.14 134.07,300.82 133.71,300.02" fill="none" stroke="#9e9e9e" stroke-width="0.53" stroke-linejoin="round" />
<path d="M19.36,401.74 C20.22,401.87 22.84,402.12 24.52,402.53 C26.21,402.94 27.84,403.59 29.47,404.19 C31.11,404.79 32.77,405.36 34.32,406.14 C35.88,406.91 37.37,407.83 38.8,408.82 C40.23,409.81 41.52,410.99 42.89,412.07 C44.25,413.15 45.55,414.32 46.98,415.31 C48.41,416.3 50,417.05 51.46,417.99 C52.92,418.94 54.23,420.15 55.74,420.99 C57.26,421.82 59.03,422.18 60.56,423.01 C62.08,423.83 63.51,424.86 64.89,425.92 C66.26,426.98 67.51,428.22 68.81,429.37 C70.11,430.52 72.06,432.27 72.7,432.85" fill="none" stroke="#aeaeae" stroke-width="0.55" stroke-linejoin="round" />
<path d="M143.08,338.73 C143.92,338.9 146.47,339.26 148.1,339.76 C149.74,340.25 151.35,340.89 152.86,341.68 C154.37,342.47 155.75,343.52 157.15,344.5 C158.56,345.47 160.05,346.37 161.3,347.53 C162.54,348.68 163.59,350.08 164.62,351.44 C165.65,352.8 166.62,354.22 167.49,355.69 C168.36,357.16 168.95,358.8 169.85,360.25 C170.76,361.69 171.73,363.16 172.92,364.36 C174.11,365.56 176.33,366.95 177.01,367.46" fill="none" stroke="#898989" stroke-width="0.53" stroke-linejoin="round" />
<path d="M168.12,357 C168.94,356.66 171.38,355.61 173.03,354.94 C174.67,354.28 176.38,353.76 177.97,352.98 C179.56,352.21 181.1,351.29 182.56,350.29 C184.02,349.29 185.35,348.1 186.72,346.97 C188.1,345.85 189.61,344.85 190.8,343.55 C191.99,342.26 192.67,340.5 193.87,339.2 C195.06,337.91 196.47,336.75 197.95,335.79 C199.42,334.83 201.92,333.83 202.72,333.43" fill="none" stroke="#838383" stroke-width="0.53" stroke-linejoin="round" />
<path d="M16.23,384.73 C17.11,384.51 19.72,383.74 21.5,383.43 C23.28,383.11 25.14,383.2 26.91,382.86 C28.68,382.51 30.36,381.72 32.13,381.34 C33.9,380.97 35.72,380.59 37.51,380.59 C39.31,380.6 41.1,381.13 42.89,381.39 C44.68,381.65 47.37,382.04 48.27,382.17" fill="none" stroke="#a8a8a8" stroke-width="0.42" stroke-linejoin="round" />
<path d="M159.78,350.12 C160.7,349.99 163.45,349.52 165.3,349.29 C167.15,349.07 169.02,349.05 170.86,348.8 C172.7,348.54 174.51,348.01 176.35,347.74 C178.19,347.47 180.98,347.28 181.9,347.19" fill="none" stroke="#9e9e9e" stroke-width="0.52" stroke-linejoin="round" />
<path d="M27.68,365.15 C28.6,365.03 31.38,364.83 33.18,364.45 C34.97,364.06 36.71,363.37 38.47,362.83 C40.24,362.29 41.97,361.62 43.76,361.18 C45.55,360.74 47.42,360.64 49.21,360.2 C50.99,359.76 52.73,359.11 54.49,358.54 C56.24,357.96 57.95,357.21 59.73,356.76 C61.51,356.31 63.36,355.88 65.19,355.85 C67.01,355.81 69.76,356.45 70.68,356.57" fill="none" stroke="#bebebe" stroke-width="0.44" stroke-linejoin="round" />
<path d="M171.28,400.09 C172.14,400.25 174.78,400.49 176.41,401.04 C178.05,401.58 179.52,402.61 181.08,403.37 C182.65,404.12 184.2,404.94 185.82,405.56 C187.44,406.17 189.98,406.81 190.82,407.07" fill="none" stroke="#929292" stroke-width="0.58" stroke-linejoin="round" />
<path d="M163.19,333.75 C164.21,333.66 167.27,333.49 169.3,333.23 C171.32,332.98 173.32,332.49 175.34,332.21 C177.36,331.93 179.4,331.7 181.44,331.56 C183.47,331.43 186.54,331.43 187.56,331.4" fill="none" stroke="#9b9b9b" stroke-width="0.58" stroke-linejoin="round" />
<path d="M124.57,345.82 C125.43,345.56 128.14,345.03 129.75,344.28 C131.37,343.52 132.76,342.29 134.26,341.29 C135.75,340.29 137.26,339.3 138.74,338.27 C140.23,337.25 141.74,336.26 143.14,335.13 C144.54,334 145.95,332.83 147.14,331.48 C148.32,330.14 149.29,328.59 150.26,327.07 C151.23,325.55 152.15,323.99 152.96,322.38 C153.77,320.77 154.24,318.99 155.12,317.43 C156,315.86 157.44,314.6 158.24,313.01 C159.04,311.42 159.24,309.54 159.93,307.87 C160.61,306.21 161.4,304.56 162.36,303.05 C163.33,301.54 165.16,299.52 165.72,298.81" fill="none" stroke="#878787" stroke-width="0.59" stroke-linejoin="round" />
<path d="M38.28,328.9 C39.1,328.63 41.57,327.87 43.19,327.27 C44.81,326.67 46.34,325.79 47.99,325.32 C49.65,324.85 51.46,324.97 53.11,324.47 C54.75,323.98 56.2,322.86 57.84,322.37 C59.48,321.88 61.24,321.68 62.95,321.53 C64.67,321.38 66.42,321.31 68.13,321.48 C69.84,321.64 71.5,322.29 73.21,322.52 C74.92,322.76 76.67,323 78.38,322.89 C80.09,322.78 81.75,322.13 83.46,321.87 C85.16,321.62 86.89,321.46 88.61,321.35 C90.34,321.25 92.93,321.27 93.79,321.25" fill="none" stroke="#8b8b8b" stroke-width="0.45" stroke-linejoin="round" />
<path d="M50.17,367.34 C51.13,367.58 54.07,368.08 55.9,368.77 C57.73,369.45 59.5,370.4 61.15,371.46 C62.8,372.51 64.3,373.81 65.8,375.08 C67.31,376.34 68.89,377.57 70.16,379.05 C71.43,380.54 72.87,383.16 73.41,383.98" fill="none" stroke="#bebebe" stroke-width="0.51" stroke-linejoin="round" />
<path d="M127.33,331.81 C128.18,331.93 130.74,332.21 132.42,332.53 C134.11,332.84 135.75,333.41 137.44,333.68 C139.13,333.96 140.86,334.25 142.56,334.19 C144.26,334.12 145.93,333.38 147.63,333.3 C149.33,333.23 151.06,333.78 152.76,333.73 C154.47,333.69 156.16,333.27 157.86,333.02 C159.56,332.76 161.26,332.56 162.94,332.21 C164.62,331.87 166.3,331.46 167.93,330.94 C169.56,330.41 171.09,329.57 172.72,329.07 C174.36,328.56 176.05,328.05 177.74,327.9 C179.43,327.76 182.02,328.15 182.88,328.2" fill="none" stroke="#999999" stroke-width="0.48" stroke-linejoin="round" />
<path d="M45.57,365.21 C46.46,365.2 49.17,365.41 50.92,365.18 C52.67,364.94 54.36,364.26 56.08,363.8 C57.8,363.34 59.5,362.72 61.25,362.43 C63,362.13 64.8,362.14 66.58,362.04 C68.36,361.94 70.14,361.91 71.92,361.81 C73.69,361.71 75.48,361.65 77.25,361.43 C79.01,361.22 80.75,360.69 82.51,360.52 C84.28,360.36 86.08,360.51 87.86,360.44 C89.64,360.38 91.41,360.21 93.19,360.13 C94.97,360.05 97.64,359.99 98.53,359.96" fill="none" stroke="#979797" stroke-width="0.42" stroke-linejoin="round" />
<path d="M63.13,335.01 C64.02,335 66.7,334.75 68.46,334.93 C70.21,335.1 71.96,335.56 73.66,336.07 C75.36,336.58 76.96,337.38 78.63,337.98 C80.31,338.57 82,339.12 83.7,339.62 C85.4,340.12 87.13,340.53 88.84,341 C90.56,341.47 93.11,342.21 93.97,342.45" fill="none" stroke="#a8a8a8" stroke-width="0.45" stroke-linejoin="round" />
<path d="M132.86,366.36 C133.76,366.43 136.46,366.62 138.25,366.78 C140.05,366.94 141.88,366.97 143.64,367.3 C145.41,367.63 147.19,368.09 148.86,368.75 C150.53,369.4 151.98,370.62 153.66,371.24 C155.34,371.87 157.25,371.88 158.93,372.5 C160.61,373.12 162.11,374.2 163.74,374.97 C165.38,375.73 167.1,376.31 168.72,377.09 C170.35,377.87 171.89,378.83 173.49,379.65 C175.1,380.47 177.55,381.61 178.37,382" fill="none" stroke="#9f9f9f" stroke-width="0.57" stroke-linejoin="round" />
<path d="M153.39,329.68 C154.25,329.93 156.84,330.72 158.57,331.21 C160.3,331.71 162.06,332.13 163.78,332.66 C165.5,333.19 167.15,334.07 168.9,334.38 C170.65,334.69 173.4,334.49 174.3,334.51" fill="none" stroke="#aaaaaa" stroke-width="0.59" stroke-linejoin="round" />
<path d="M162.79,368.65 C163.68,368.79 166.35,369.36 168.15,369.5 C169.94,369.63 171.78,369.65 173.57,369.45 C175.36,369.25 177.09,368.42 178.87,368.29 C180.66,368.15 182.49,368.74 184.28,368.64 C186.08,368.55 187.84,367.86 189.63,367.74 C191.43,367.61 193.26,367.72 195.06,367.88 C196.86,368.04 198.68,368.23 200.42,368.68 C202.17,369.13 204.66,370.25 205.51,370.57" fill="none" stroke="#b2b2b2" stroke-width="0.42" stroke-linejoin="round" />
<path d="M137.07,328.11 C137.91,327.88 140.43,327.09 142.15,326.75 C143.86,326.41 145.62,326.05 147.36,326.06 C149.09,326.07 150.84,326.5 152.56,326.82 C154.28,327.14 155.98,327.58 157.69,327.98 C159.39,328.38 161.94,329.01 162.79,329.22" fill="none" stroke="#afafaf" stroke-width="0.54" stroke-linejoin="round" />
<path d="M24.06,333.42 C24.92,333.38 27.5,333.4 29.19,333.17 C30.88,332.95 32.53,332.4 34.21,332.09 C35.89,331.78 37.67,331.81 39.29,331.31 C40.91,330.81 42.43,329.92 43.92,329.09 C45.42,328.26 46.82,327.27 48.26,326.34 C49.69,325.41 51,324.23 52.53,323.49 C54.05,322.75 55.77,322.36 57.41,321.9 C59.06,321.45 60.73,320.94 62.42,320.75 C64.11,320.56 66.7,320.77 67.55,320.77" fill="none" stroke="#b4b4b4" stroke-width="0.51" stroke-linejoin="round" />
<path d="M97.99,330.25 C98.81,330.06 101.33,329.63 102.93,329.09 C104.53,328.56 105.97,327.55 107.57,327.05 C109.18,326.56 110.89,326.36 112.56,326.12 C114.24,325.89 115.98,326.01 117.61,325.64 C119.25,325.27 120.85,324.62 122.39,323.92 C123.92,323.22 125.36,322.3 126.81,321.44 C128.27,320.58 129.73,319.71 131.13,318.77 C132.53,317.82 134.53,316.27 135.22,315.77" fill="none" stroke="#b7b7b7" stroke-width="0.41" stroke-linejoin="round" />
<path d="M62.47,360.38 C63.37,360.48 66.08,360.64 67.85,360.95 C69.62,361.27 71.35,361.84 73.1,362.29 C74.84,362.74 76.57,363.35 78.34,363.64 C80.11,363.93 81.99,363.66 83.74,364.05 C85.48,364.43 87.09,365.41 88.81,365.94 C90.53,366.47 92.37,366.65 94.06,367.25 C95.75,367.85 97.28,368.91 98.97,369.54 C100.65,370.16 102.41,370.66 104.17,371 C105.94,371.35 107.79,371.25 109.56,371.59 C111.32,371.92 113.91,372.76 114.78,373" fill="none" stroke="#9d9d9d" stroke-width="0.42" stroke-linejoin="round" />
<path d="M111.01,374.98 C111.89,375.19 114.48,376.08 116.26,376.28 C118.03,376.47 119.86,376.14 121.66,376.15 C123.46,376.16 125.29,376.04 127.05,376.33 C128.82,376.61 130.47,377.58 132.24,377.86 C134,378.13 135.87,378.18 137.64,377.96 C139.41,377.74 141.1,376.96 142.85,376.54 C144.6,376.11 146.38,375.83 148.13,375.41 C149.88,375 151.59,374.38 153.35,374.03 C155.12,373.68 156.96,373.71 158.71,373.31 C160.45,372.9 162.13,372.19 163.83,371.59 C165.53,370.99 167.18,370.23 168.9,369.72 C170.62,369.21 173.28,368.71 174.16,368.51" fill="none" stroke="#a0a0a0" stroke-width="0.55" stroke-linejoin="round" />
<path d="M148.12,377.41 A5.73,5.73 0 0 1 148.41,366.5" fill="none" stroke="#bbbbbb" stroke-width="0.45"/>
<path d="M146.96,379.77 A8.35,8.35 0 0 1 147.18,364.14" fill="none" stroke="#c1c1c1" stroke-width="0.45"/>
<path d="M146.08,381.85 A10.6,10.6 0 0 1 144.81,362.76" fill="none" stroke="#8c8c8c" stroke-width="0.45"/>
<path d="M146.26,383.95 A12.53,12.53 0 0 1 144.71,360.65" fill="none" stroke="#939393" stroke-width="0.45"/>
<path d="M142.38,385.72 A15.7,15.7 0 0 1 143.2,357.85" fill="none" stroke="#bdbdbd" stroke-width="0.45"/>
<path d="M140.71,388.01 A18.51,18.51 0 0 1 142.24,355.19" fill="none" stroke="#8f8f8f" stroke-width="0.45"/>
<path d="M143.13,391.56 A20.73,20.73 0 0 1 141.93,352.91" fill="none" stroke="#a8a8a8" stroke-width="0.45"/>
<path d="M141.55,392.65 A22.31,22.31 0 0 1 143.55,350.64" fill="none" stroke="#8d8d8d" stroke-width="0.45"/>
<path d="M141.2,395.84 A25.41,25.41 0 0 1 140.7,348.35" fill="none" stroke="#a5a5a5" stroke-width="0.45"/>
<path d="M142.33,397.75 A26.87,26.87 0 0 1 136.1,349.01" fill="none" stroke="#8f8f8f" stroke-width="0.45"/>
<path d="M135.72,397.94 A29.61,29.61 0 0 1 141.45,343.65" fill="none" stroke="#a1a1a1" stroke-width="0.45"/>
<path d="M138.07,401.89 A32.18,32.18 0 0 1 141.22,341.04" fill="none" stroke="#8e8e8e" stroke-width="0.45"/>
<path d="M133.67,402.3 A34.42,34.42 0 0 1 134.49,341.27" fill="none" stroke="#9d9d9d" stroke-width="0.45"/>
<path d="M132.46,404.44 A36.88,36.88 0 0 1 136.19,337.81" fill="none" stroke="#bfbfbf" stroke-width="0.45"/>
<path d="M128.78,405.69 A39.81,39.81 0 0 1 129.02,338.16" fill="none" stroke="#9a9a9a" stroke-width="0.45"/>
<path d="M130.39,408.43 A41.37,41.37 0 0 1 133.03,334.27" fill="none" stroke="#bdbdbd" stroke-width="0.45"/>
<path d="M113.41,361.39 A4.82,4.82 0 0 1 113.84,370.45" fill="none" stroke="#b5b5b5" stroke-width="0.45"/>
<path d="M114.5,359.55 A6.91,6.91 0 0 1 115.42,372" fill="none" stroke="#c5c5c5" stroke-width="0.45"/>
<path d="M116.02,357.19 A9.69,9.69 0 0 1 116.43,374.61" fill="none" stroke="#a5a5a5" stroke-width="0.45"/>
<path d="M115.81,354.38 A12.22,12.22 0 0 1 116.9,377.2" fill="none" stroke="#c8c8c8" stroke-width="0.45"/>
<path d="M117.54,351.9 A15.15,15.15 0 0 1 117.95,379.94" fill="none" stroke="#a0a0a0" stroke-width="0.45"/>
<path d="M116.07,349.4 A17.1,17.1 0 0 1 120.36,380.91" fill="none" stroke="#b9b9b9" stroke-width="0.45"/>
<path d="M117.33,346.65 A20.07,20.07 0 0 1 119.68,384.54" fill="none" stroke="#9c9c9c" stroke-width="0.45"/>
<path d="M118.89,343.76 A23.28,23.28 0 0 1 123.07,386.48" fill="none" stroke="#9c9c9c" stroke-width="0.45"/>
<path d="M124.3,344.38 A24.87,24.87 0 0 1 117.65,390.22" fill="none" stroke="#a1a1a1" stroke-width="0.45"/>
<path d="M121.18,340.53 A27.07,27.07 0 0 1 120.89,391.57" fill="none" stroke="#c1c1c1" stroke-width="0.45"/>
<path d="M123.04,338.56 A29.58,29.58 0 0 1 120.42,394.35" fill="none" stroke="#c6c6c6" stroke-width="0.45"/>
<path d="M71.6,363.91 A4.39,4.39 0 0 1 71.43,372.15" fill="none" stroke="#c4c4c4" stroke-width="0.45"/>
<path d="M71.42,360.89 A7.25,7.25 0 0 1 72.44,374.83" fill="none" stroke="#bcbcbc" stroke-width="0.45"/>
<path d="M71.9,358.34 A9.85,9.85 0 0 1 73.6,377.16" fill="none" stroke="#c5c5c5" stroke-width="0.45"/>
<path d="M71.73,355.75 A12.38,12.38 0 0 1 74.19,379.65" fill="none" stroke="#afafaf" stroke-width="0.45"/>
<path d="M72.93,352.77 A15.51,15.51 0 0 1 72.75,383.27" fill="none" stroke="#c9c9c9" stroke-width="0.45"/>
<path d="M72.38,350.09 A18.07,18.07 0 0 1 77.36,384.5" fill="none" stroke="#aeaeae" stroke-width="0.45"/>
<path d="M78.2,348.35 A21.29,21.29 0 0 1 78.46,387.54" fill="none" stroke="#b2b2b2" stroke-width="0.45"/>
<path d="M73.11,345.26 A22.95,22.95 0 0 1 75.47,390.29" fill="none" stroke="#c5c5c5" stroke-width="0.45"/>
<path d="M73.64,342.75 A25.51,25.51 0 0 1 76.73,392.61" fill="none" stroke="#ababab" stroke-width="0.45"/>
<ellipse cx="125.95" cy="297.27" rx="2.69" ry="2.57" fill="none" stroke="#212121" stroke-width="0.95" transform="rotate(89 125.95 297.27)"/>
<ellipse cx="63.61" cy="315.54" rx="1.19" ry="1.18" fill="none" stroke="#606060" stroke-width="1.06" transform="rotate(2 63.61 315.54)"/>
<ellipse cx="105.13" cy="357.93" rx="1.47" ry="1.07" fill="none" stroke="#515151" stroke-width="0.65" transform="rotate(101 105.13 357.93)"/>
<ellipse cx="148.81" cy="363.31" rx="2.04" ry="1.68" fill="none" stroke="#696969" stroke-width="1.08" transform="rotate(79 148.81 363.31)"/>
<ellipse cx="116.51" cy="256.66" rx="2.66" ry="2.07" fill="none" stroke="#666666" stroke-width="0.96" transform="rotate(52 116.51 256.66)"/>
<ellipse cx="258.68" cy="326.54" rx="1" ry="1.06" fill="none" stroke="#5d5d5d" stroke-width="0.83" transform="rotate(41 258.68 326.54)"/>
<ellipse cx="40" cy="262.28" rx="1.23" ry="0.9" fill="none" stroke="#464646" stroke-width="0.91" transform="rotate(94 40 262.28)"/>
<ellipse cx="98.7" cy="280.78" rx="1.34" ry="1.1" fill="none" stroke="#2d2d2d" stroke-width="1.02" transform="rotate(11 98.7 280.78)"/>
<ellipse cx="267.71" cy="334.7" rx="1.02" ry="0.75" fill="none" stroke="#454545" stroke-width="0.96" transform="rotate(176 267.71 334.7)"/>
<ellipse cx="113.93" cy="395.79" rx="1.15" ry="1.24" fill="none" stroke="#474747" stroke-width="0.68" transform="rotate(91 113.93 395.79)"/>
<ellipse cx="38.14" cy="295.11" rx="2.57" ry="2.7" fill="none" stroke="#191919" stroke-width="1.02" transform="rotate(172 38.14 295.11)"/>
<ellipse cx="15.27" cy="394.42" rx="1.53" ry="1.55" fill="none" stroke="#646464" stroke-width="0.92" transform="rotate(78 15.27 394.42)"/>
<ellipse cx="161.9" cy="325.12" rx="1.4" ry="0.98" fill="none" stroke="#161616" stroke-width="1.09" transform="rotate(119 161.9 325.12)"/>
<ellipse cx="68.35" cy="381.88" rx="1.11" ry="0.95" fill="none" stroke="#505050" stroke-width="0.63" transform="rotate(91 68.35 381.88)"/>
<ellipse cx="120.96" cy="269.01" rx="0.95" ry="0.71" fill="none" stroke="#656565" stroke-width="1.06" transform="rotate(80 120.96 269.01)"/>
<ellipse cx="214.42" cy="339.53" rx="1.33" ry="0.95" fill="none" stroke="#252525" stroke-width="0.63" transform="rotate(157 214.42 339.53)"/>
<ellipse cx="57.17" cy="418.53" rx="2.03" ry="1.98" fill="none" stroke="#292929" stroke-width="0.96" transform="rotate(56 57.17 418.53)"/>
<ellipse cx="22.64" cy="312.55" rx="1.93" ry="2.05" fill="none" stroke="#373737" stroke-width="0.83" transform="rotate(65 22.64 312.55)"/>
<ellipse cx="140.25" cy="408.14" rx="1.48" ry="1.26" fill="none" stroke="#3c3c3c" stroke-width="0.7" transform="rotate(103 140.25 408.14)"/>
<ellipse cx="48.42" cy="410.92" rx="2.46" ry="2.5" fill="none" stroke="#292929" stroke-width="0.73" transform="rotate(135 48.42 410.92)"/>
<ellipse cx="18.08" cy="397.79" rx="1.5" ry="1.58" fill="none" stroke="#6c6c6c" stroke-width="0.65" transform="rotate(137 18.08 397.79)"/>
<ellipse cx="271.74" cy="350.6" rx="1.73" ry="1.37" fill="none" stroke="#4c4c4c" stroke-width="0.91" transform="rotate(12 271.74 350.6)"/>
<ellipse cx="84.82" cy="340.31" rx="1.61" ry="1.73" fill="none" stroke="#5e5e5e" stroke-width="1.05" transform="rotate(0 84.82 340.31)"/>
<ellipse cx="83.36" cy="358.7" rx="0.95" ry="0.76" fill="none" stroke="#525252" stroke-width="0.93" transform="rotate(5 83.36 358.7)"/>
<ellipse cx="19.65" cy="348.88" rx="1.51" ry="1.41" fill="none" stroke="#484848" stroke-width="0.89" transform="rotate(52 19.65 348.88)"/>
<ellipse cx="103.63" cy="392.78" rx="1.82" ry="1.38" fill="none" stroke="#6e6e6e" stroke-width="0.65" transform="rotate(163 103.63 392.78)"/>
<ellipse cx="43.97" cy="365.4" rx="1.52" ry="1.1" fill="none" stroke="#151515" stroke-width="1.01" transform="rotate(89 43.97 365.4)"/>
<ellipse cx="165.16" cy="350.78" rx="1.47" ry="1.56" fill="none" stroke="#292929" stroke-width="0.62" transform="rotate(136 165.16 350.78)"/>
<ellipse cx="11.79" cy="284.79" rx="1.27" ry="0.89" fill="none" stroke="#212121" stroke-width="0.88" transform="rotate(50 11.79 284.79)"/>
<ellipse cx="43.31" cy="287.12" rx="1.64" ry="1.26" fill="none" stroke="#626262" stroke-width="0.75" transform="rotate(76 43.31 287.12)"/>
<ellipse cx="173.57" cy="420.6" rx="1.52" ry="1.58" fill="none" stroke="#444444" stroke-width="0.97" transform="rotate(119 173.57 420.6)"/>
<ellipse cx="26.67" cy="363.73" rx="1.3" ry="1.03" fill="none" stroke="#353535" stroke-width="0.62" transform="rotate(85 26.67 363.73)"/>
<ellipse cx="19.15" cy="360.43" rx="1.95" ry="1.6" fill="none" stroke="#353535" stroke-width="1.06" transform="rotate(55 19.15 360.43)"/>
<ellipse cx="28" cy="338.85" rx="1.29" ry="1.39" fill="none" stroke="#2d2d2d" stroke-width="0.97" transform="rotate(83 28 338.85)"/>
<ellipse cx="56.69" cy="318.9" rx="1.88" ry="2.05" fill="none" stroke="#6c6c6c" stroke-width="1.02" transform="rotate(137 56.69 318.9)"/>
<ellipse cx="131.43" cy="394.67" rx="2.5" ry="2.71" fill="none" stroke="#4b4b4b" stroke-width="0.72" transform="rotate(78 131.43 394.67)"/>
<ellipse cx="162.63" cy="348.55" rx="1.03" ry="1.1" fill="none" stroke="#636363" stroke-width="0.77" transform="rotate(36 162.63 348.55)"/>
<ellipse cx="42.27" cy="361.72" rx="0.95" ry="0.96" fill="none" stroke="#5f5f5f" stroke-width="0.7" transform="rotate(136 42.27 361.72)"/>
<ellipse cx="60.4" cy="272.41" rx="0.98" ry="0.72" fill="none" stroke="#656565" stroke-width="0.98" transform="rotate(161 60.4 272.41)"/>
<ellipse cx="82.39" cy="270.38" rx="1.13" ry="0.92" fill="none" stroke="#2e2e2e" stroke-width="0.77" transform="rotate(66 82.39 270.38)"/>
<ellipse cx="10.63" cy="296.73" rx="1.55" ry="1.65" fill="none" stroke="#434343" stroke-width="0.98" transform="rotate(154 10.63 296.73)"/>
<ellipse cx="140.66" cy="396.63" rx="1.37" ry="1.25" fill="none" stroke="#4b4b4b" stroke-width="0.65" transform="rotate(120 140.66 396.63)"/>
<ellipse cx="194.76" cy="343.96" rx="1.4" ry="1.3" fill="none" stroke="#1f1f1f" stroke-width="0.74" transform="rotate(111 194.76 343.96)"/>
<ellipse cx="5.35" cy="287.54" rx="2.65" ry="2.23" fill="none" stroke="#141414" stroke-width="0.65" transform="rotate(177 5.35 287.54)"/>
<ellipse cx="138.19" cy="311.93" rx="1.99" ry="2.04" fill="none" stroke="#383838" stroke-width="1.07" transform="rotate(59 138.19 311.93)"/>
<ellipse cx="139.2" cy="272.07" rx="1.81" ry="1.67" fill="none" stroke="#6d6d6d" stroke-width="0.65" transform="rotate(83 139.2 272.07)"/>
<ellipse cx="100.77" cy="321.01" rx="1.81" ry="1.57" fill="none" stroke="#1f1f1f" stroke-width="0.92" transform="rotate(95 100.77 321.01)"/>
<ellipse cx="60.51" cy="297.82" rx="1.34" ry="1.06" fill="none" stroke="#646464" stroke-width="0.83" transform="rotate(136 60.51 297.82)"/>
<ellipse cx="164.99" cy="369.39" rx="1.57" ry="1.2" fill="none" stroke="#565656" stroke-width="1.02" transform="rotate(169 164.99 369.39)"/>
<ellipse cx="154.12" cy="307.92" rx="1.2" ry="0.9" fill="none" stroke="#313131" stroke-width="0.83" transform="rotate(178 154.12 307.92)"/>
<ellipse cx="69.08" cy="285.78" rx="1.59" ry="1.21" fill="none" stroke="#636363" stroke-width="0.68" transform="rotate(63 69.08 285.78)"/>
<ellipse cx="199.75" cy="354.89" rx="2" ry="2.18" fill="none" stroke="#353535" stroke-width="0.96" transform="rotate(26 199.75 354.89)"/>
<ellipse cx="49.33" cy="364.13" rx="1.07" ry="1.06" fill="none" stroke="#3a3a3a" stroke-width="0.82" transform="rotate(50 49.33 364.13)"/>
<ellipse cx="34.43" cy="406.72" rx="1.55" ry="1.1" fill="none" stroke="#4f4f4f" stroke-width="0.8" transform="rotate(111 34.43 406.72)"/>
<ellipse cx="191.74" cy="337.68" rx="1.06" ry="1.06" fill="none" stroke="#616161" stroke-width="0.6" transform="rotate(62 191.74 337.68)"/>
<ellipse cx="249.53" cy="325.84" rx="2.22" ry="2.31" fill="none" stroke="#494949" stroke-width="0.93" transform="rotate(167 249.53 325.84)"/>
<ellipse cx="127.24" cy="306.19" rx="1.38" ry="1.36" fill="none" stroke="#474747" stroke-width="0.91" transform="rotate(64 127.24 306.19)"/>
<ellipse cx="233.75" cy="334.7" rx="0.95" ry="0.92" fill="none" stroke="#565656" stroke-width="1.07" transform="rotate(46 233.75 334.7)"/>
<ellipse cx="7.86" cy="393.35" rx="1.19" ry="0.91" fill="none" stroke="#2f2f2f" stroke-width="0.99" transform="rotate(51 7.86 393.35)"/>
<ellipse cx="144.83" cy="270.58" rx="1.72" ry="1.22" fill="none" stroke="#555555" stroke-width="1" transform="rotate(94 144.83 270.58)"/>
<ellipse cx="145.49" cy="322.54" rx="1.69" ry="1.53" fill="none" stroke="#464646" stroke-width="1.07" transform="rotate(157 145.49 322.54)"/>
<ellipse cx="100.73" cy="263.11" rx="0.92" ry="0.98" fill="none" stroke="#494949" stroke-width="0.91" transform="rotate(172 100.73 263.11)"/>
<ellipse cx="99.83" cy="298.15" rx="1.42" ry="1.54" fill="none" stroke="#575757" stroke-width="1.1" transform="rotate(100 99.83 298.15)"/>
<ellipse cx="129.45" cy="281.24" rx="1.82" ry="1.61" fill="none" stroke="#2c2c2c" stroke-width="0.88" transform="rotate(57 129.45 281.24)"/>
<ellipse cx="273.26" cy="381.26" rx="2.39" ry="2.02" fill="none" stroke="#505050" stroke-width="1.03" transform="rotate(68 273.26 381.26)"/>
<ellipse cx="269.69" cy="367.64" rx="2.01" ry="1.69" fill="none" stroke="#373737" stroke-width="0.93" transform="rotate(82 269.69 367.64)"/>
<ellipse cx="134.14" cy="325.59" rx="1.32" ry="1.37" fill="none" stroke="#3a3a3a" stroke-width="0.63" transform="rotate(144 134.14 325.59)"/>
<ellipse cx="42.81" cy="393.26" rx="0.91" ry="0.88" fill="none" stroke="#1d1d1d" stroke-width="0.73" transform="rotate(25 42.81 393.26)"/>
<ellipse cx="160.79" cy="397.1" rx="1.8" ry="1.91" fill="none" stroke="#2e2e2e" stroke-width="1" transform="rotate(42 160.79 397.1)"/>
<ellipse cx="169.14" cy="369.19" rx="1.94" ry="1.97" fill="none" stroke="#5a5a5a" stroke-width="1.02" transform="rotate(50 169.14 369.19)"/>
<ellipse cx="138.16" cy="289.4" rx="1.08" ry="1.14" fill="none" stroke="#696969" stroke-width="0.88" transform="rotate(67 138.16 289.4)"/>
<ellipse cx="117.85" cy="392.55" rx="1.46" ry="1.43" fill="none" stroke="#262626" stroke-width="0.72" transform="rotate(42 117.85 392.55)"/>
<ellipse cx="150.3" cy="398.56" rx="0.92" ry="0.9" fill="none" stroke="#4f4f4f" stroke-width="0.85" transform="rotate(75 150.3 398.56)"/>
<ellipse cx="117.79" cy="414.98" rx="1.63" ry="1.16" fill="none" stroke="#171717" stroke-width="0.62" transform="rotate(84 117.79 414.98)"/>
<ellipse cx="135.39" cy="380.8" rx="1.38" ry="1.15" fill="none" stroke="#242424" stroke-width="1.03" transform="rotate(93 135.39 380.8)"/>
<ellipse cx="96.92" cy="384.39" rx="2.17" ry="1.9" fill="none" stroke="#383838" stroke-width="0.81" transform="rotate(141 96.92 384.39)"/>
<ellipse cx="19.2" cy="302.18" rx="1.28" ry="1.35" fill="none" stroke="#363636" stroke-width="0.77" transform="rotate(52 19.2 302.18)"/>
<ellipse cx="94.11" cy="306.87" rx="1.63" ry="1.4" fill="none" stroke="#191919" stroke-width="0.88" transform="rotate(103 94.11 306.87)"/>
<ellipse cx="151.88" cy="261.95" rx="1.12" ry="1.06" fill="none" stroke="#505050" stroke-width="0.93" transform="rotate(128 151.88 261.95)"/>
<ellipse cx="171.08" cy="358.9" rx="1.68" ry="1.2" fill="none" stroke="#2f2f2f" stroke-width="0.92" transform="rotate(160 171.08 358.9)"/>
<ellipse cx="53.82" cy="259.81" rx="2.68" ry="1.89" fill="none" stroke="#676767" stroke-width="1.04" transform="rotate(35 53.82 259.81)"/>
<ellipse cx="216.82" cy="348.03" rx="1.39" ry="0.98" fill="none" stroke="#3c3c3c" stroke-width="0.88" transform="rotate(148 216.82 348.03)"/>
<ellipse cx="157.83" cy="260.22" rx="1.17" ry="1.15" fill="none" stroke="#5d5d5d" stroke-width="0.8" transform="rotate(17 157.83 260.22)"/>
<ellipse cx="8.81" cy="318.64" rx="2.26" ry="2.01" fill="none" stroke="#272727" stroke-width="0.81" transform="rotate(26 8.81 318.64)"/>
<ellipse cx="27.33" cy="332.93" rx="1.39" ry="1.35" fill="none" stroke="#151515" stroke-width="0.66" transform="rotate(22 27.33 332.93)"/>
<ellipse cx="63.77" cy="273.99" rx="1.55" ry="1.54" fill="none" stroke="#4d4d4d" stroke-width="0.69" transform="rotate(12 63.77 273.99)"/>
<ellipse cx="103.53" cy="379.14" rx="1.77" ry="1.69" fill="none" stroke="#393939" stroke-width="0.95" transform="rotate(117 103.53 379.14)"/>
<ellipse cx="13.61" cy="263.77" rx="1.61" ry="1.33" fill="none" stroke="#454545" stroke-width="0.96" transform="rotate(42 13.61 263.77)"/>
<ellipse cx="156.8" cy="303.38" rx="1.87" ry="1.58" fill="none" stroke="#2c2c2c" stroke-width="1.02" transform="rotate(161 156.8 303.38)"/>
<ellipse cx="133.3" cy="286.22" rx="1.24" ry="1.04" fill="none" stroke="#666666" stroke-width="0.84" transform="rotate(159 133.3 286.22)"/>
<ellipse cx="160.83" cy="301.7" rx="1.55" ry="1.6" fill="none" stroke="#1f1f1f" stroke-width="1" transform="rotate(79 160.83 301.7)"/>
<ellipse cx="98.55" cy="320.38" rx="1.34" ry="1.37" fill="none" stroke="#3b3b3b" stroke-width="0.84" transform="rotate(0 98.55 320.38)"/>
<ellipse cx="56.44" cy="271.93" rx="1.28" ry="1.05" fill="none" stroke="#232323" stroke-width="0.77" transform="rotate(146 56.44 271.93)"/>
<ellipse cx="28.52" cy="320.32" rx="1.7" ry="1.43" fill="none" stroke="#5d5d5d" stroke-width="0.74" transform="rotate(141 28.52 320.32)"/>
<ellipse cx="82.56" cy="279.71" rx="2.42" ry="1.99" fill="none" stroke="#3b3b3b" stroke-width="0.73" transform="rotate(101 82.56 279.71)"/>
<ellipse cx="79.45" cy="267.73" rx="1.46" ry="1.29" fill="none" stroke="#4f4f4f" stroke-width="0.74" transform="rotate(90 79.45 267.73)"/>
<ellipse cx="128.55" cy="269.53" rx="2.04" ry="1.69" fill="none" stroke="#606060" stroke-width="0.95" transform="rotate(51 128.55 269.53)"/>
<ellipse cx="35.26" cy="266.75" rx="1.33" ry="1.23" fill="none" stroke="#4c4c4c" stroke-width="0.88" transform="rotate(132 35.26 266.75)"/>
<ellipse cx="142.11" cy="270.45" rx="1.78" ry="1.7" fill="none" stroke="#4d4d4d" stroke-width="1.09" transform="rotate(39 142.11 270.45)"/>
<ellipse cx="55.53" cy="255.68" rx="1.08" ry="1.19" fill="none" stroke="#383838" stroke-width="1.13" transform="rotate(124 55.53 255.68)"/>
<ellipse cx="98.87" cy="268.21" rx="1.09" ry="1.09" fill="none" stroke="#575757" stroke-width="1.11" transform="rotate(33 98.87 268.21)"/>
<ellipse cx="45.64" cy="256.19" rx="1.08" ry="0.77" fill="none" stroke="#242424" stroke-width="0.88" transform="rotate(180 45.64 256.19)"/>
<ellipse cx="78.32" cy="318.39" rx="1.54" ry="1.64" fill="none" stroke="#505050" stroke-width="1.05" transform="rotate(23 78.32 318.39)"/>
<ellipse cx="46.15" cy="292.21" rx="2.15" ry="1.94" fill="none" stroke="#737373" stroke-width="0.79" transform="rotate(40 46.15 292.21)"/>
<ellipse cx="64.35" cy="269.68" rx="1.85" ry="1.34" fill="none" stroke="#4b4b4b" stroke-width="0.98" transform="rotate(7 64.35 269.68)"/>
<ellipse cx="138.95" cy="256.82" rx="2.42" ry="2.43" fill="none" stroke="#707070" stroke-width="0.94" transform="rotate(25 138.95 256.82)"/>
<ellipse cx="28.17" cy="305.24" rx="1.27" ry="1.11" fill="none" stroke="#696969" stroke-width="1.03" transform="rotate(120 28.17 305.24)"/>
<ellipse cx="56.83" cy="271.18" rx="1.15" ry="1.18" fill="none" stroke="#3c3c3c" stroke-width="1.16" transform="rotate(3 56.83 271.18)"/>
<ellipse cx="79.86" cy="316.02" rx="1.75" ry="1.88" fill="none" stroke="#272727" stroke-width="1.13" transform="rotate(35 79.86 316.02)"/>
<ellipse cx="129.53" cy="319.12" rx="1.02" ry="0.9" fill="none" stroke="#272727" stroke-width="0.87" transform="rotate(59 129.53 319.12)"/>
<ellipse cx="81.41" cy="296.57" rx="1.05" ry="0.97" fill="none" stroke="#575757" stroke-width="0.77" transform="rotate(38 81.41 296.57)"/>
<ellipse cx="47.62" cy="281.77" rx="1.76" ry="1.79" fill="none" stroke="#484848" stroke-width="0.83" transform="rotate(27 47.62 281.77)"/>
<ellipse cx="55.89" cy="315.38" rx="1.21" ry="1.15" fill="none" stroke="#252525" stroke-width="1.09" transform="rotate(54 55.89 315.38)"/>
<ellipse cx="94.59" cy="310.73" rx="1.21" ry="1.06" fill="none" stroke="#4c4c4c" stroke-width="0.83" transform="rotate(61 94.59 310.73)"/>
<ellipse cx="153.01" cy="260.27" rx="1.52" ry="1.57" fill="none" stroke="#252525" stroke-width="1.19" transform="rotate(36 153.01 260.27)"/>
<ellipse cx="161.58" cy="254.7" rx="1.13" ry="1.14" fill="none" stroke="#1e1e1e" stroke-width="1.17" transform="rotate(73 161.58 254.7)"/>
<ellipse cx="34.73" cy="283.37" rx="1.51" ry="1.57" fill="none" stroke="#2f2f2f" stroke-width="0.96" transform="rotate(58 34.73 283.37)"/>
<ellipse cx="118.86" cy="267.06" rx="1.55" ry="1.55" fill="none" stroke="#5d5d5d" stroke-width="0.79" transform="rotate(35 118.86 267.06)"/>
<ellipse cx="102.99" cy="302.01" rx="1.18" ry="1.15" fill="none" stroke="#262626" stroke-width="0.96" transform="rotate(14 102.99 302.01)"/>
<ellipse cx="87.95" cy="277.38" rx="1.85" ry="1.31" fill="none" stroke="#292929" stroke-width="1.16" transform="rotate(122 87.95 277.38)"/>
<ellipse cx="26.33" cy="299.12" rx="1.89" ry="1.44" fill="none" stroke="#222222" stroke-width="0.89" transform="rotate(152 26.33 299.12)"/>
<ellipse cx="142.29" cy="277.96" rx="2.68" ry="2" fill="none" stroke="#272727" stroke-width="1.06" transform="rotate(82 142.29 277.96)"/>
<ellipse cx="129.66" cy="312.98" rx="2.04" ry="2.14" fill="none" stroke="#434343" stroke-width="1.18" transform="rotate(126 129.66 312.98)"/>
<ellipse cx="76.43" cy="255.35" rx="1.22" ry="0.96" fill="none" stroke="#292929" stroke-width="0.79" transform="rotate(26 76.43 255.35)"/>
<ellipse cx="54.91" cy="291.59" rx="1.83" ry="1.48" fill="none" stroke="#363636" stroke-width="1.12" transform="rotate(163 54.91 291.59)"/>
<ellipse cx="97.24" cy="289.37" rx="1.78" ry="1.28" fill="none" stroke="#343434" stroke-width="0.76" transform="rotate(126 97.24 289.37)"/>
<ellipse cx="98.74" cy="305.69" rx="1.8" ry="1.68" fill="none" stroke="#636363" stroke-width="1.13" transform="rotate(37 98.74 305.69)"/>
<ellipse cx="112" cy="285.2" rx="1.71" ry="1.84" fill="none" stroke="#202020" stroke-width="0.89" transform="rotate(107 112 285.2)"/>
<circle cx="165.78" cy="354.87" r="0.57" fill="#2c2c2c"/>
<circle cx="96.17" cy="293.98" r="0.74" fill="#525252"/>
<circle cx="232.03" cy="348.42" r="0.8" fill="#515151"/>
<circle cx="144.33" cy="414.52" r="0.49" fill="#555555"/>
<circle cx="118.68" cy="359.89" r="0.41" fill="#565656"/>
<circle cx="55.49" cy="308.09" r="0.63" fill="#414141"/>
<circle cx="10.61" cy="277.02" r="0.78" fill="#5a5a5a"/>
<circle cx="151.03" cy="408.9" r="0.41" fill="#777777"/>
<circle cx="37.77" cy="255.9" r="0.87" fill="#464646"/>
<circle cx="82.43" cy="304.91" r="0.44" fill="#7a7a7a"/>
<circle cx="21.25" cy="414.73" r="0.85" fill="#696969"/>
<circle cx="27.75" cy="352.76" r="0.59" fill="#3a3a3a"/>
<circle cx="142.78" cy="402.31" r="0.67" fill="#5c5c5c"/>
<circle cx="78.82" cy="377.24" r="0.65" fill="#868686"/>
<circle cx="158.55" cy="362.86" r="0.65" fill="#414141"/>
<circle cx="103.78" cy="403.42" r="0.69" fill="#4e4e4e"/>
<circle cx="131.29" cy="305.76" r="0.53" fill="#474747"/>
<circle cx="55.84" cy="345.31" r="0.57" fill="#727272"/>
<circle cx="92.65" cy="298.95" r="0.51" fill="#434343"/>
<circle cx="22.99" cy="399.97" r="0.71" fill="#606060"/>
<circle cx="144.23" cy="393.77" r="0.75" fill="#555555"/>
<circle cx="34.42" cy="291.43" r="0.76" fill="#7e7e7e"/>
<circle cx="46.61" cy="310.22" r="0.43" fill="#555555"/>
<circle cx="59.53" cy="356.21" r="0.8" fill="#4b4b4b"/>
<circle cx="144.44" cy="377.71" r="0.86" fill="#878787"/>
<circle cx="32.83" cy="322.55" r="0.67" fill="#6e6e6e"/>
<circle cx="139.08" cy="415.34" r="0.43" fill="#717171"/>
<circle cx="82.58" cy="312.84" r="0.56" fill="#555555"/>
<circle cx="154.56" cy="318.2" r="0.35" fill="#515151"/>
<circle cx="205.84" cy="419.87" r="0.59" fill="#585858"/>
<circle cx="54.61" cy="304.68" r="0.59" fill="#3a3a3a"/>
<circle cx="106.53" cy="292.57" r="0.53" fill="#525252"/>
<circle cx="119.84" cy="406.58" r="0.36" fill="#292929"/>
<circle cx="74.09" cy="404.11" r="0.86" fill="#4e4e4e"/>
<circle cx="213.3" cy="344.07" r="0.63" fill="#5f5f5f"/>
<circle cx="144.3" cy="368.72" r="0.61" fill="#595959"/>
<circle cx="15.96" cy="367.21" r="0.87" fill="#616161"/>
<circle cx="187.18" cy="341.84" r="0.58" fill="#343434"/>
<circle cx="139.89" cy="362.55" r="0.43" fill="#717171"/>
<circle cx="55.69" cy="324.37" r="0.59" fill="#5b5b5b"/>
<circle cx="173.21" cy="420.95" r="0.73" fill="#535353"/>
<circle cx="102.68" cy="315.2" r="0.8" fill="#313131"/>
<circle cx="143.04" cy="272.17" r="0.73" fill="#4d4d4d"/>
<circle cx="225.98" cy="419.96" r="0.7" fill="#5d5d5d"/>
<circle cx="146.13" cy="390.72" r="0.63" fill="#424242"/>
<circle cx="55.66" cy="284.24" r="0.66" fill="#787878"/>
<circle cx="33.71" cy="349.34" r="0.7" fill="#787878"/>
<circle cx="16.4" cy="322.72" r="0.35" fill="#8c8c8c"/>
<circle cx="196.37" cy="346.49" r="0.57" fill="#4e4e4e"/>
<circle cx="31.53" cy="256.19" r="0.46" fill="#2b2b2b"/>
<circle cx="139.07" cy="346.55" r="0.83" fill="#4a4a4a"/>
<circle cx="246.18" cy="340.01" r="0.67" fill="#3a3a3a"/>
<circle cx="115.71" cy="274.01" r="0.64" fill="#3c3c3c"/>
<circle cx="142.21" cy="258.48" r="0.44" fill="#313131"/>
<circle cx="145.71" cy="391.89" r="0.59" fill="#767676"/>
<circle cx="189.35" cy="350.85" r="0.74" fill="#3a3a3a"/>
<circle cx="100.29" cy="282.06" r="0.7" fill="#4a4a4a"/>
<circle cx="21.97" cy="285.8" r="0.56" fill="#777777"/>
<circle cx="19.73" cy="403.21" r="0.77" fill="#727272"/>
<circle cx="16.83" cy="262.77" r="0.49" fill="#464646"/>
<circle cx="16.84" cy="409.98" r="0.52" fill="#3e3e3e"/>
<circle cx="86.78" cy="354.83" r="0.89" fill="#676767"/>
<circle cx="23.18" cy="367.38" r="0.75" fill="#7e7e7e"/>
<circle cx="64.62" cy="305.54" r="0.62" fill="#838383"/>
<circle cx="51.71" cy="313.81" r="0.35" fill="#3f3f3f"/>
<circle cx="102.74" cy="309.88" r="0.53" fill="#595959"/>
<circle cx="118.72" cy="406.98" r="0.48" fill="#6e6e6e"/>
<circle cx="56.49" cy="301.24" r="0.59" fill="#464646"/>
<circle cx="80.17" cy="257.85" r="0.48" fill="#3b3b3b"/>
<circle cx="39.97" cy="286.58" r="0.81" fill="#6d6d6d"/>
<circle cx="39.42" cy="328.08" r="0.44" fill="#464646"/>
<circle cx="100.04" cy="374.97" r="0.7" fill="#585858"/>
<circle cx="161.39" cy="303.54" r="0.63" fill="#646464"/>
<circle cx="66.2" cy="329.65" r="0.87" fill="#383838"/>
<circle cx="273.74" cy="353.72" r="0.67" fill="#606060"/>
<circle cx="104.1" cy="294.97" r="0.63" fill="#757575"/>
<circle cx="38.8" cy="379.71" r="0.63" fill="#7e7e7e"/>
<circle cx="151.12" cy="299.03" r="0.77" fill="#8a8a8a"/>
<circle cx="12.73" cy="374.26" r="0.52" fill="#3a3a3a"/>
<circle cx="110.01" cy="268.05" r="0.78" fill="#3e3e3e"/>
<circle cx="67.36" cy="285.24" r="0.39" fill="#353535"/>
<circle cx="82.71" cy="390.83" r="0.51" fill="#5b5b5b"/>
<circle cx="113.63" cy="406.3" r="0.7" fill="#8b8b8b"/>
<circle cx="103.72" cy="387.9" r="0.54" fill="#808080"/>
<circle cx="116.11" cy="364.32" r="0.6" fill="#818181"/>
<circle cx="274.28" cy="320.89" r="0.4" fill="#787878"/>
<circle cx="83.49" cy="299.11" r="0.75" fill="#757575"/>
<circle cx="15.77" cy="280.82" r="0.77" fill="#414141"/>
<circle cx="47.06" cy="377.64" r="0.52" fill="#6e6e6e"/>
<circle cx="231.07" cy="349.39" r="0.64" fill="#838383"/>
<circle cx="159.92" cy="410.79" r="0.81" fill="#363636"/>
<circle cx="16.57" cy="397.1" r="0.73" fill="#757575"/>
<circle cx="267.33" cy="368.02" r="0.79" fill="#2c2c2c"/>
<circle cx="61.59" cy="407.23" r="0.85" fill="#878787"/>
<circle cx="117.36" cy="378.58" r="0.69" fill="#878787"/>
<circle cx="64.46" cy="342.19" r="0.87" fill="#545454"/>
<circle cx="119.18" cy="409.88" r="0.63" fill="#808080"/>
<circle cx="173.57" cy="339.05" r="0.73" fill="#7e7e7e"/>
<circle cx="120.35" cy="339.6" r="0.42" fill="#8b8b8b"/>
<circle cx="75.34" cy="345.4" r="0.7" fill="#8b8b8b"/>
<circle cx="151.48" cy="295.55" r="0.44" fill="#2f2f2f"/>
<circle cx="98.51" cy="269.15" r="0.52" fill="#797979"/>
<circle cx="41.77" cy="372.37" r="0.62" fill="#7d7d7d"/>
<circle cx="40.92" cy="372.5" r="0.66" fill="#737373"/>
<circle cx="94.83" cy="390.59" r="0.58" fill="#6e6e6e"/>
<circle cx="46.69" cy="418.12" r="0.57" fill="#8a8a8a"/>
<circle cx="60.56" cy="369.54" r="0.55" fill="#292929"/>
<circle cx="60.59" cy="263.74" r="0.52" fill="#4b4b4b"/>
<circle cx="34.78" cy="305.5" r="0.44" fill="#363636"/>
<circle cx="124.86" cy="349.22" r="0.44" fill="#4d4d4d"/>
<circle cx="24.34" cy="255.42" r="0.62" fill="#888888"/>
<circle cx="136.51" cy="385.29" r="0.35" fill="#515151"/>
<circle cx="71.24" cy="276.89" r="0.36" fill="#2b2b2b"/>
<circle cx="111.45" cy="277.98" r="0.45" fill="#575757"/>
<circle cx="54.7" cy="392.25" r="0.48" fill="#505050"/>
<circle cx="41.72" cy="408.11" r="0.48" fill="#484848"/>
<circle cx="16.11" cy="348.83" r="0.86" fill="#787878"/>
<circle cx="274.27" cy="321.34" r="0.87" fill="#2e2e2e"/>
<circle cx="138.14" cy="337.52" r="0.9" fill="#3c3c3c"/>
<circle cx="167.29" cy="358.85" r="0.73" fill="#3a3a3a"/>
<circle cx="49.07" cy="328.06" r="0.4" fill="#5b5b5b"/>
<circle cx="15.76" cy="327.44" r="0.47" fill="#404040"/>
<circle cx="105.31" cy="258.98" r="0.82" fill="#767676"/>
<circle cx="216.92" cy="325.07" r="0.39" fill="#4c4c4c"/>
<circle cx="19.89" cy="373.01" r="0.38" fill="#535353"/>
<circle cx="7.37" cy="414.21" r="0.85" fill="#3e3e3e"/>
<circle cx="49.29" cy="303.28" r="0.79" fill="#606060"/>
<circle cx="186.85" cy="348.94" r="0.4" fill="#646464"/>
<circle cx="92.17" cy="330.96" r="0.85" fill="#6c6c6c"/>
<circle cx="238.06" cy="417.29" r="0.69" fill="#757575"/>
<circle cx="84.99" cy="349.55" r="0.61" fill="#575757"/>
<circle cx="97.48" cy="402.3" r="0.82" fill="#2b2b2b"/>
<circle cx="64.91" cy="377.87" r="0.4" fill="#808080"/>
<circle cx="161.4" cy="323.55" r="0.48" fill="#6b6b6b"/>
<circle cx="123.86" cy="297.46" r="0.45" fill="#454545"/>
<circle cx="244.68" cy="345.68" r="0.47" fill="#363636"/>
<circle cx="55.5" cy="366.2" r="0.62" fill="#828282"/>
<circle cx="154.2" cy="291.66" r="0.73" fill="#717171"/>
<circle cx="157.66" cy="396.66" r="0.39" fill="#7e7e7e"/>
<circle cx="123.36" cy="398.66" r="0.63" fill="#6e6e6e"/>
<path d="M108,257 C110,254.5 115,254 119,255 C122,256 123,259 121,261.5 C119,264 115,265 112,264 C109,263 107,260 108,257 Z" fill="#2a2a2a" opacity="0.9" filter="url(#blur05)"/>
<path d="M104,255 C108,253 112,254 116,254" fill="none" stroke="#555" stroke-width="1.5" filter="url(#blur05)"/>
<path d="M160,272 C156,271 152,273 152,276 C152,279 156,281 160,280.5 C163,280 164,278 162.5,276.5" fill="none" stroke="#111" stroke-width="1.3"/>
<path d="M129,278 C131,276.5 134,277 134.5,279.5 C135,282 132,283.5 130,282.5 C128.5,281.5 128.3,279.5 129,278 Z" fill="none" stroke="#222" stroke-width="1.1"/>
<path d="M101,300 C99,296 103,292 106,295 C109,298 108,304 104,305 C101,305 100,302 101,300 Z" fill="none" stroke="#333" stroke-width="1"/>
<ellipse cx="66" cy="339" rx="2" ry="1.5" fill="#333" opacity="0.85" filter="url(#blur05)"/>
<ellipse cx="97" cy="281" rx="2.5" ry="2" fill="#333" opacity="0.85" filter="url(#blur05)"/>
<ellipse cx="35" cy="300" rx="2.5" ry="2" fill="#333" opacity="0.85" filter="url(#blur05)"/>
<ellipse cx="60" cy="394" rx="2" ry="1.6" fill="#333" opacity="0.85" filter="url(#blur05)"/>
<ellipse cx="148" cy="404" rx="3" ry="2" fill="#333" opacity="0.85" filter="url(#blur05)"/>
<path d="M106,335 C110,331 116,327 122,325 C130,322 137,321 142,323" fill="none" stroke="#444" stroke-width="0.8"/>
<path d="M112,338 C118,336 124,334 130,334 C135,334 139,336 143,337" fill="none" stroke="#222" stroke-width="1.0"/>
<path d="M120,336 C125,333.5 131,333 136,334.5" fill="none" stroke="#000" stroke-width="1.5"/>
<path d="M141,322 C147,325 150,331 150,337 C150,342 151,346 153,349" fill="none" stroke="#1a1a1a" stroke-width="1.1"/>
<path d="M110,332 C116,329 124,327 132,327" fill="none" stroke="#999" stroke-width="0.5"/>
<path d="M143,337 C150,339 156,339 161,338" fill="none" stroke="#555" stroke-width="0.7"/>
<path d="M150,347 C153,349 157,350 160,349" fill="none" stroke="#666" stroke-width="0.6"/>
<path d="M160,388 C164,392 166,398 170,400" fill="none" stroke="#111" stroke-width="1"/>
</g>
<rect x="162.9" y="254.5" width="110.7" height="69" fill="#353535"/>
<rect x="162.9" y="254.5" width="110.7" height="69" fill="#000" filter="url(#speckD)" opacity="0.12"/>
<circle cx="171" cy="284.5" r="0.8" fill="#e8e8e8" filter="url(#blur05)"/>
<circle cx="192" cy="284" r="0.7" fill="#e8e8e8" filter="url(#blur05)"/>
<circle cx="203" cy="283.5" r="0.9" fill="#e8e8e8" filter="url(#blur05)"/>
<circle cx="207" cy="284.3" r="0.8" fill="#e8e8e8" filter="url(#blur05)"/>
<circle cx="209.5" cy="287.5" r="0.8" fill="#e8e8e8" filter="url(#blur05)"/>
<circle cx="220" cy="284.5" r="0.6" fill="#e8e8e8" filter="url(#blur05)"/>
<circle cx="270" cy="282.5" r="1.0" fill="#e8e8e8" filter="url(#blur05)"/>
<circle cx="178" cy="290" r="0.5" fill="#e8e8e8" filter="url(#blur05)"/>
<circle cx="250" cy="288" r="0.5" fill="#e8e8e8" filter="url(#blur05)"/>
<rect x="171.8" y="355.8" width="95.4" height="59.8" fill="#363636"/>
<path d="M190,374 C205,362 225,357 240,358 C250,359 254,366 255,372 C256,380 253,388 250,392" fill="none" stroke="#5e5e5e" stroke-width="0.8"/>
<path d="M183,368 C186,364 188,360 192,358" fill="none" stroke="#555" stroke-width="0.6"/>
<path d="M191,373.5 C196,375 200,377 205,379.5 C212,382 220,383.5 228,385.5 C236,388 242,391 246,394" fill="none" stroke="#1a1a1a" stroke-width="1.1"/>
<path d="M193,375 C199,378 206,381.5 214,383.2" fill="none" stroke="#000" stroke-width="1.5"/>
<path d="M226,383 C230,382 234,383 236,385 L240,391 C240,393 238,394.5 235,393.5 C231,392 228,388 226,383 Z" fill="#f4f4f4" filter="url(#blur05)"/>
<circle cx="258" cy="400" r="0.8" fill="#ddd"/><circle cx="255" cy="404" r="0.5" fill="#bbb"/>
<rect x="171.8" y="355.8" width="95.4" height="59.8" fill="none" stroke="#ff1010" stroke-width="1.7" stroke-dasharray="5.2,3.6"/>
<rect x="104.3" y="318.6" width="56.7" height="34.7" fill="none" stroke="#ff1010" stroke-width="1.7" stroke-dasharray="5.2,3.6"/>
<line x1="23.4" y1="253.6" x2="23.4" y2="421.6" stroke="#ff1010" stroke-width="1.6" stroke-dasharray="5.2,3.6"/>
<line x1="59" y1="322.9" x2="66.39" y2="348.46" stroke="#ff1010" stroke-width="1.6" stroke-dasharray="4.2,3"/><path d="M68.2,354.7 L63.13,349.4 L69.66,347.51 Z" fill="#ff1010"/>
<line x1="161.6" y1="339.3" x2="173.04" y2="348.05" stroke="#ff1010" stroke-width="1.6" stroke-dasharray="4.2,3"/><path d="M178.2,352 L170.97,350.75 L175.1,345.35 Z" fill="#ff1010"/>
<line x1="221" y1="358" x2="230.27" y2="383.39" stroke="#ff1010" stroke-width="1.6" stroke-dasharray="3.8,2.6"/><path d="M232.5,389.5 L227.08,384.56 L233.46,382.23 Z" fill="#ff1010"/>
<line x1="197.3" y1="397" x2="197.3" y2="383.9" stroke="#ff1010" stroke-width="1.6" stroke-dasharray="3.2,2.4"/><path d="M197.3,377.4 L200.5,383.9 L194.1,383.9 Z" fill="#ff1010"/>
<g>
<rect x="5" y="237.4" width="269.3" height="16.2" fill="url(#grayv)"/>
<rect x="5" y="237.4" width="269.3" height="16.2" fill="#000" filter="url(#speck3)" opacity="0.32"/>
<rect x="0" y="0" width="1" height="1" fill="url(#partv)" mask="url(#fadeh)" transform="translate(99,237.4) scale(100.5,16.2) translate(0,0)"/>
<rect x="99" y="240.64" width="100.5" height="8.91" fill="#fff" filter="url(#wmottle)" opacity="0.8" mask="url(#fadeh)"/>
<rect x="99" y="237.4" width="100.5" height="16.2" fill="#000" filter="url(#speck3)" opacity="0.15"/>
<path d="M199.5,237.4 H257.5 C262.5,237.4 265.5,242.26 266.5,245.5 C265.5,248.74 262.5,253.6 257.5,253.6 H199.5 Z" fill="url(#trackv)"/>
<rect x="266.5" y="237.4" width="7.8" height="16.2" fill="#858b8c"/>
<rect x="266.5" y="237.4" width="7.8" height="16.2" fill="#000" filter="url(#speck3)" opacity="0.7"/>
<rect x="268" y="242.26" width="2.5" height="6.48" fill="#fff" opacity="0.35" filter="url(#blur05)"/>
<rect x="5" y="252.7" width="269.3" height="0.9" fill="#5a5f60"/>
</g>
<line x1="98" y1="237.4" x2="98" y2="253.6" stroke="#ff1010" stroke-width="1.6" stroke-dasharray="5.2,3.6"/>
<line x1="198.8" y1="237.4" x2="198.8" y2="253.6" stroke="#ff1010" stroke-width="1.6" stroke-dasharray="5.2,3.6"/>
<text x="6.2" y="251.4" font-size="13.5" fill="#ff1010" font-weight="normal" text-anchor="start" font-family="'Liberation Serif', serif" stroke="#ff1010" stroke-width="0.2">c</text>
<text x="70" y="251.5" font-size="13" fill="#ff1010" font-weight="normal" text-anchor="start" font-family="'Liberation Serif', serif" stroke="#ff1010" stroke-width="0.2">Lc2</text>
<text x="174.6" y="251.5" font-size="13" fill="#ff1010" font-weight="normal" text-anchor="start" font-family="'Liberation Serif', serif" stroke="#ff1010" stroke-width="0.2">Lc3</text>
<text x="26.5" y="280.6" font-size="13.4" fill="#ff1010" font-weight="normal" text-anchor="start" font-family="'Liberation Serif', serif" stroke="#ff1010" stroke-width="0.2">Lc2</text>
<text x="20" y="307.8" font-size="14" fill="#ff1010" font-weight="normal" text-anchor="start" font-family="'Liberation Serif', serif" stroke="#ff1010" stroke-width="0.2">Spallation</text>
<text x="197" y="339.5" font-size="14" fill="#ff1010" font-weight="normal" text-anchor="start" font-family="'Liberation Serif', serif" stroke="#ff1010" stroke-width="0.2">Flaking</text>
<text x="172.7" y="404.8" font-size="14" fill="#ff1010" font-weight="normal" text-anchor="start" font-family="'Liberation Serif', serif" stroke="#ff1010" stroke-width="0.2">Cracks</text>
<rect x="276.3" y="253.2" width="269.9" height="170.3" fill="#fcfcfc"/>
<g clip-path="url(#clip_d)">
<rect x="276.3" y="253.2" width="269.9" height="58.8" fill="#000" filter="url(#speckW2)" opacity="0.5"/>
<rect x="276.3" y="392" width="269.9" height="31.5" fill="#000" filter="url(#speckW2)" opacity="0.45"/>
<rect x="276.3" y="312" width="269.9" height="80" fill="#000" filter="url(#speckW2)" opacity="0.12"/>
<circle cx="415.34" cy="280.25" r="0.5" fill="#7f7f7f"/>
<circle cx="428.26" cy="298.77" r="0.49" fill="#393939"/>
<circle cx="400.37" cy="260.29" r="0.51" fill="#393939"/>
<circle cx="368.44" cy="298.1" r="0.31" fill="#7f7f7f"/>
<circle cx="345.29" cy="267.27" r="0.67" fill="#696969"/>
<circle cx="345.02" cy="264.56" r="0.31" fill="#616161"/>
<circle cx="343.85" cy="311.84" r="0.77" fill="#4a4a4a"/>
<circle cx="382.25" cy="281.17" r="0.65" fill="#3c3c3c"/>
<circle cx="397.37" cy="266.68" r="0.56" fill="#767676"/>
<circle cx="373.72" cy="284.26" r="0.75" fill="#4f4f4f"/>
<circle cx="435.33" cy="255.77" r="0.71" fill="#3d3d3d"/>
<circle cx="402.72" cy="308.32" r="0.3" fill="#505050"/>
<circle cx="432.62" cy="272.83" r="0.42" fill="#2a2a2a"/>
<circle cx="372.61" cy="286.92" r="0.78" fill="#727272"/>
<circle cx="427.61" cy="298.53" r="0.69" fill="#414141"/>
<circle cx="374.25" cy="269.76" r="0.74" fill="#464646"/>
<circle cx="358.35" cy="298.08" r="0.55" fill="#565656"/>
<circle cx="424.94" cy="277.07" r="0.65" fill="#2f2f2f"/>
<circle cx="383.2" cy="298.61" r="0.59" fill="#3d3d3d"/>
<circle cx="344.35" cy="286.83" r="0.77" fill="#7c7c7c"/>
<circle cx="368.19" cy="307.37" r="0.76" fill="#727272"/>
<circle cx="434.17" cy="271.09" r="0.79" fill="#555555"/>
<circle cx="372.65" cy="298.74" r="0.66" fill="#5e5e5e"/>
<circle cx="362.47" cy="263.5" r="0.57" fill="#484848"/>
<circle cx="340.24" cy="254.38" r="0.5" fill="#2e2e2e"/>
<circle cx="421.22" cy="304.68" r="0.46" fill="#797979"/>
<circle cx="407.56" cy="289.06" r="0.39" fill="#535353"/>
<circle cx="384.14" cy="308.49" r="0.31" fill="#292929"/>
<circle cx="361.83" cy="291.66" r="0.33" fill="#505050"/>
<circle cx="365.14" cy="258.69" r="0.41" fill="#3b3b3b"/>
<circle cx="419.21" cy="302.63" r="0.71" fill="#555555"/>
<circle cx="390.53" cy="284.87" r="0.73" fill="#737373"/>
<circle cx="431.49" cy="266.72" r="0.43" fill="#777777"/>
<circle cx="398.61" cy="269.56" r="0.56" fill="#6a6a6a"/>
<circle cx="350.23" cy="268.07" r="0.54" fill="#6f6f6f"/>
<circle cx="374.14" cy="311.38" r="0.5" fill="#454545"/>
<circle cx="422.93" cy="265.25" r="0.43" fill="#3f3f3f"/>
<circle cx="418.94" cy="273.83" r="0.42" fill="#828282"/>
<circle cx="363.7" cy="306.33" r="0.63" fill="#353535"/>
<circle cx="370.95" cy="266.61" r="0.5" fill="#585858"/>
<circle cx="344.3" cy="268.62" r="0.42" fill="#5f5f5f"/>
<circle cx="371.93" cy="272.37" r="0.62" fill="#5e5e5e"/>
<circle cx="356.85" cy="311.67" r="0.79" fill="#434343"/>
<circle cx="357.29" cy="258.4" r="0.54" fill="#282828"/>
<circle cx="398.58" cy="287.26" r="0.73" fill="#424242"/>
<circle cx="393.65" cy="261.42" r="0.64" fill="#4e4e4e"/>
<circle cx="358" cy="282.75" r="0.35" fill="#555555"/>
<circle cx="338.82" cy="278.51" r="0.66" fill="#353535"/>
<circle cx="418.11" cy="253.35" r="0.64" fill="#444444"/>
<circle cx="411.45" cy="259.81" r="0.72" fill="#555555"/>
<circle cx="364.21" cy="255.63" r="0.57" fill="#626262"/>
<circle cx="424.42" cy="293.79" r="0.5" fill="#4a4a4a"/>
<circle cx="362.2" cy="277.85" r="0.49" fill="#3b3b3b"/>
<circle cx="380.32" cy="277.31" r="0.75" fill="#3a3a3a"/>
<circle cx="411.53" cy="311.33" r="0.61" fill="#808080"/>
<circle cx="378.04" cy="267.36" r="0.63" fill="#414141"/>
<circle cx="385.83" cy="286.04" r="0.62" fill="#7f7f7f"/>
<circle cx="424.46" cy="401.94" r="0.3" fill="#7b7b7b"/>
<circle cx="477.7" cy="418.88" r="0.47" fill="#737373"/>
<circle cx="423.71" cy="403.97" r="0.7" fill="#828282"/>
<circle cx="510.96" cy="403.19" r="0.5" fill="#3a3a3a"/>
<circle cx="418.34" cy="411.3" r="0.71" fill="#888888"/>
<circle cx="295.73" cy="417.12" r="0.41" fill="#878787"/>
<circle cx="441.62" cy="400.35" r="0.73" fill="#6e6e6e"/>
<circle cx="370.17" cy="410.57" r="0.41" fill="#7b7b7b"/>
<circle cx="314.65" cy="421.21" r="0.48" fill="#757575"/>
<circle cx="331.59" cy="397.33" r="0.42" fill="#606060"/>
<circle cx="322.82" cy="417.89" r="0.39" fill="#6c6c6c"/>
<circle cx="531.99" cy="418.96" r="0.73" fill="#858585"/>
<circle cx="287.98" cy="404.01" r="0.36" fill="#686868"/>
<circle cx="317.82" cy="399.92" r="0.48" fill="#3f3f3f"/>
<circle cx="455.24" cy="408.46" r="0.53" fill="#585858"/>
<circle cx="300.05" cy="404.46" r="0.65" fill="#6b6b6b"/>
<circle cx="397.57" cy="407.07" r="0.68" fill="#484848"/>
<circle cx="316.75" cy="413.43" r="0.54" fill="#606060"/>
<circle cx="454.51" cy="411.62" r="0.47" fill="#747474"/>
<circle cx="379.17" cy="392.56" r="0.3" fill="#4b4b4b"/>
<circle cx="346.38" cy="410.6" r="0.66" fill="#595959"/>
<circle cx="350.41" cy="402.21" r="0.43" fill="#505050"/>
<circle cx="394.53" cy="408.54" r="0.73" fill="#717171"/>
<circle cx="330.73" cy="405.33" r="0.61" fill="#575757"/>
<circle cx="376.6" cy="393.38" r="0.49" fill="#6a6a6a"/>
<circle cx="287.57" cy="415.72" r="0.52" fill="#666666"/>
<circle cx="440.25" cy="400.09" r="0.49" fill="#505050"/>
<circle cx="432.49" cy="421.13" r="0.79" fill="#4a4a4a"/>
<circle cx="506.18" cy="410.28" r="0.63" fill="#3a3a3a"/>
<circle cx="365.22" cy="394.23" r="0.49" fill="#6b6b6b"/>
<circle cx="418.22" cy="407.64" r="0.68" fill="#848484"/>
<circle cx="283.21" cy="410.67" r="0.77" fill="#6d6d6d"/>
<circle cx="465.49" cy="405.74" r="0.39" fill="#6e6e6e"/>
<circle cx="293.87" cy="404.52" r="0.56" fill="#434343"/>
<circle cx="498.88" cy="413.12" r="0.5" fill="#4b4b4b"/>
<circle cx="287.25" cy="413.42" r="0.47" fill="#787878"/>
<circle cx="380.88" cy="406.49" r="0.41" fill="#3d3d3d"/>
<circle cx="297.12" cy="417.75" r="0.55" fill="#3f3f3f"/>
<circle cx="505.22" cy="398.79" r="0.33" fill="#6c6c6c"/>
<circle cx="460.1" cy="414.4" r="0.73" fill="#6f6f6f"/>
<circle cx="424.85" cy="415.56" r="0.37" fill="#7c7c7c"/>
<circle cx="386.14" cy="393.58" r="0.37" fill="#828282"/>
<circle cx="366.54" cy="408.32" r="0.39" fill="#323232"/>
<circle cx="421.75" cy="408.38" r="0.46" fill="#3d3d3d"/>
<circle cx="345.13" cy="419.05" r="0.5" fill="#797979"/>
<circle cx="515.38" cy="413.45" r="0.45" fill="#595959"/>
<circle cx="510.24" cy="417.26" r="0.43" fill="#777777"/>
<circle cx="330.82" cy="393.64" r="0.63" fill="#767676"/>
<circle cx="527.97" cy="412.67" r="0.59" fill="#8c8c8c"/>
<circle cx="375.01" cy="417.25" r="0.53" fill="#4b4b4b"/>
<circle cx="467.1" cy="412.91" r="0.3" fill="#5a5a5a"/>
<circle cx="294.56" cy="421.97" r="0.32" fill="#5b5b5b"/>
<circle cx="335.59" cy="405.83" r="0.66" fill="#4b4b4b"/>
<circle cx="492.88" cy="410.65" r="0.5" fill="#6c6c6c"/>
<circle cx="472.74" cy="398.42" r="0.33" fill="#4c4c4c"/>
<circle cx="393.36" cy="412.14" r="0.37" fill="#383838"/>
<circle cx="513.79" cy="417.65" r="0.39" fill="#717171"/>
<circle cx="525.26" cy="409.67" r="0.55" fill="#474747"/>
<circle cx="458.17" cy="413.26" r="0.7" fill="#575757"/>
<circle cx="420.55" cy="397.01" r="0.56" fill="#4c4c4c"/>
<circle cx="401.98" cy="398.35" r="0.78" fill="#3d3d3d"/>
<circle cx="388.23" cy="412.75" r="0.65" fill="#525252"/>
<circle cx="395.71" cy="405.37" r="0.76" fill="#393939"/>
<circle cx="312.3" cy="397.04" r="0.45" fill="#6b6b6b"/>
<circle cx="339.1" cy="410.33" r="0.65" fill="#5a5a5a"/>
<circle cx="470.45" cy="401.75" r="0.46" fill="#535353"/>
<circle cx="503.37" cy="396.78" r="0.79" fill="#878787"/>
<circle cx="381.97" cy="393.04" r="0.38" fill="#626262"/>
<circle cx="354.86" cy="412.63" r="0.35" fill="#8a8a8a"/>
<circle cx="401.66" cy="414.94" r="0.47" fill="#696969"/>
<circle cx="384.63" cy="393.22" r="0.36" fill="#5f5f5f"/>
<circle cx="525.5" cy="423.38" r="0.56" fill="#757575"/>
<circle cx="354.78" cy="402.96" r="0.74" fill="#717171"/>
<circle cx="522.71" cy="398.32" r="0.73" fill="#555555"/>
<circle cx="437.64" cy="409.03" r="0.4" fill="#3d3d3d"/>
<circle cx="403.28" cy="416.18" r="0.59" fill="#4f4f4f"/>
<circle cx="357.23" cy="410.27" r="0.78" fill="#3e3e3e"/>
<circle cx="369.23" cy="421.75" r="0.45" fill="#868686"/>
<circle cx="322.72" cy="403.03" r="0.42" fill="#6f6f6f"/>
<circle cx="476.66" cy="397.63" r="0.7" fill="#585858"/>
<circle cx="471.62" cy="406.33" r="0.36" fill="#787878"/>
<circle cx="319.85" cy="404.39" r="0.32" fill="#363636"/>
<circle cx="414.86" cy="395.06" r="0.65" fill="#848484"/>
<circle cx="388.4" cy="418.37" r="0.49" fill="#3b3b3b"/>
<circle cx="455.28" cy="397.16" r="0.63" fill="#474747"/>
<circle cx="300.6" cy="392.16" r="0.74" fill="#848484"/>
<circle cx="405.92" cy="396.69" r="0.35" fill="#3e3e3e"/>
<circle cx="340.73" cy="396.82" r="0.57" fill="#545454"/>
<circle cx="308.04" cy="406.74" r="0.58" fill="#464646"/>
<circle cx="287.65" cy="400.07" r="0.44" fill="#4b4b4b"/>
<circle cx="426.17" cy="423.12" r="0.66" fill="#505050"/>
<circle cx="420.64" cy="399.55" r="0.31" fill="#3e3e3e"/>
<circle cx="530.9" cy="407.38" r="0.59" fill="#8b8b8b"/>
<circle cx="462.25" cy="399.22" r="0.38" fill="#474747"/>
<circle cx="347.6" cy="392.97" r="0.61" fill="#646464"/>
<circle cx="305.88" cy="409.95" r="0.34" fill="#414141"/>
<circle cx="432.44" cy="399.37" r="0.69" fill="#7e7e7e"/>
<circle cx="414.74" cy="417.8" r="0.34" fill="#515151"/>
<circle cx="367.34" cy="395.09" r="0.61" fill="#4d4d4d"/>
<circle cx="463.03" cy="417.66" r="0.34" fill="#5d5d5d"/>
<circle cx="481.2" cy="410.64" r="0.31" fill="#494949"/>
<circle cx="530.09" cy="404.98" r="0.32" fill="#666666"/>
<circle cx="489.15" cy="396.66" r="0.64" fill="#737373"/>
<circle cx="317.12" cy="402.85" r="0.4" fill="#434343"/>
<circle cx="525.93" cy="413.61" r="0.79" fill="#8c8c8c"/>
<circle cx="545.47" cy="416.94" r="0.32" fill="#6f6f6f"/>
<circle cx="418.15" cy="402.4" r="0.68" fill="#3a3a3a"/>
<circle cx="448.06" cy="398.27" r="0.33" fill="#828282"/>
<circle cx="374.98" cy="404.96" r="0.66" fill="#858585"/>
<circle cx="370.55" cy="397.11" r="0.64" fill="#717171"/>
<circle cx="477.53" cy="396.25" r="0.77" fill="#8a8a8a"/>
<circle cx="520.5" cy="415.47" r="0.6" fill="#898989"/>
<circle cx="393.79" cy="417.99" r="0.45" fill="#737373"/>
<circle cx="535.66" cy="408.75" r="0.36" fill="#828282"/>
<circle cx="537.69" cy="416.81" r="0.68" fill="#525252"/>
<circle cx="505.03" cy="399.56" r="0.53" fill="#7d7d7d"/>
<circle cx="340.17" cy="407.52" r="0.74" fill="#898989"/>
<circle cx="289.85" cy="412.9" r="0.7" fill="#646464"/>
<circle cx="460.6" cy="421.66" r="0.5" fill="#626262"/>
<circle cx="299.81" cy="412.55" r="0.63" fill="#5d5d5d"/>
<circle cx="520.33" cy="405.44" r="0.3" fill="#595959"/>
<circle cx="408.3" cy="392.52" r="0.74" fill="#404040"/>
<circle cx="404.61" cy="404.94" r="0.53" fill="#585858"/>
<circle cx="366.83" cy="398.73" r="0.5" fill="#5f5f5f"/>
<circle cx="402.06" cy="393.03" r="0.34" fill="#5c5c5c"/>
<circle cx="349.45" cy="414.09" r="0.5" fill="#6a6a6a"/>
<circle cx="421.55" cy="399.61" r="0.64" fill="#4d4d4d"/>
<circle cx="287.51" cy="417.92" r="0.49" fill="#494949"/>
<circle cx="366.09" cy="396.75" r="0.41" fill="#474747"/>
<circle cx="516.47" cy="411.22" r="0.45" fill="#646464"/>
<circle cx="362.26" cy="419.6" r="0.39" fill="#7f7f7f"/>
<circle cx="500.49" cy="397.11" r="0.3" fill="#757575"/>
<circle cx="506.66" cy="395.27" r="0.53" fill="#515151"/>
<circle cx="494.76" cy="399.9" r="0.64" fill="#5f5f5f"/>
<circle cx="542.02" cy="415.14" r="0.63" fill="#737373"/>
<circle cx="312.75" cy="415.73" r="0.63" fill="#525252"/>
<circle cx="296.79" cy="411.66" r="0.43" fill="#6a6a6a"/>
<circle cx="356.15" cy="401.62" r="0.62" fill="#8c8c8c"/>
<circle cx="377.75" cy="408.45" r="0.33" fill="#888888"/>
<circle cx="452.98" cy="407.54" r="0.79" fill="#8a8a8a"/>
<circle cx="291.68" cy="418.3" r="0.36" fill="#898989"/>
<circle cx="378.1" cy="401.8" r="0.75" fill="#737373"/>
<circle cx="473.02" cy="415.62" r="0.77" fill="#363636"/>
<circle cx="406.52" cy="392.22" r="0.37" fill="#545454"/>
<circle cx="434.88" cy="410.17" r="0.8" fill="#373737"/>
<circle cx="323.15" cy="410.57" r="0.61" fill="#555555"/>
<circle cx="341.55" cy="416.35" r="0.51" fill="#353535"/>
<circle cx="540.3" cy="412.44" r="0.62" fill="#888888"/>
<circle cx="409.36" cy="422.7" r="0.65" fill="#606060"/>
<circle cx="351.19" cy="397.1" r="0.55" fill="#7b7b7b"/>
<circle cx="289.34" cy="408.77" r="0.4" fill="#434343"/>
<circle cx="494.23" cy="393.94" r="0.67" fill="#595959"/>
<circle cx="322.37" cy="401.83" r="0.59" fill="#383838"/>
<circle cx="538.5" cy="416.48" r="0.78" fill="#606060"/>
<circle cx="326.81" cy="401.75" r="0.4" fill="#6e6e6e"/>
<circle cx="362.91" cy="405.81" r="0.64" fill="#3f3f3f"/>
<circle cx="373.95" cy="402.07" r="0.43" fill="#6e6e6e"/>
<circle cx="331.35" cy="420.63" r="0.55" fill="#6b6b6b"/>
<circle cx="386.49" cy="397.04" r="0.32" fill="#5a5a5a"/>
<circle cx="351.58" cy="408.87" r="0.58" fill="#868686"/>
<circle cx="457.3" cy="415.71" r="0.5" fill="#555555"/>
<circle cx="469.9" cy="404.46" r="0.73" fill="#565656"/>
<circle cx="308.98" cy="406.16" r="0.32" fill="#333333"/>
<circle cx="499.41" cy="409.84" r="0.6" fill="#5f5f5f"/>
<circle cx="373.41" cy="422.89" r="0.74" fill="#3a3a3a"/>
<circle cx="302.32" cy="410.99" r="0.72" fill="#666666"/>
<circle cx="468.41" cy="421.3" r="0.62" fill="#474747"/>
<circle cx="537.37" cy="411.97" r="0.36" fill="#8a8a8a"/>
<circle cx="385.29" cy="418.51" r="0.5" fill="#5d5d5d"/>
<circle cx="411.2" cy="402.61" r="0.66" fill="#494949"/>
<circle cx="315.01" cy="415.17" r="0.63" fill="#666666"/>
<circle cx="519.62" cy="396.21" r="0.64" fill="#5d5d5d"/>
<circle cx="525.84" cy="394.1" r="0.73" fill="#323232"/>
<circle cx="456.54" cy="410.2" r="0.41" fill="#656565"/>
<circle cx="472.99" cy="416.73" r="0.69" fill="#888888"/>
<circle cx="502.58" cy="396.76" r="0.72" fill="#878787"/>
<circle cx="340.73" cy="395.94" r="0.75" fill="#565656"/>
<circle cx="476.84" cy="417.86" r="0.49" fill="#858585"/>
<circle cx="353.89" cy="412.39" r="0.49" fill="#8c8c8c"/>
<circle cx="518.2" cy="414.43" r="0.6" fill="#7f7f7f"/>
<circle cx="413.7" cy="411.14" r="0.45" fill="#4e4e4e"/>
<circle cx="373.39" cy="409.92" r="0.48" fill="#3c3c3c"/>
<circle cx="465.08" cy="394.27" r="0.41" fill="#5b5b5b"/>
<circle cx="399.84" cy="416.07" r="0.44" fill="#6b6b6b"/>
<circle cx="292.25" cy="406.04" r="0.6" fill="#797979"/>
<circle cx="285.01" cy="408.94" r="0.36" fill="#6d6d6d"/>
<circle cx="336.88" cy="411.83" r="0.78" fill="#5d5d5d"/>
<circle cx="419.53" cy="399.25" r="0.7" fill="#797979"/>
<circle cx="332.7" cy="418.44" r="0.57" fill="#7b7b7b"/>
<circle cx="284.53" cy="416.51" r="0.71" fill="#353535"/>
<circle cx="348.65" cy="403.79" r="0.44" fill="#828282"/>
<circle cx="300.46" cy="395.54" r="0.56" fill="#636363"/>
<circle cx="435.2" cy="399.13" r="0.7" fill="#393939"/>
<circle cx="535.77" cy="402.38" r="0.34" fill="#525252"/>
<circle cx="405.28" cy="396.21" r="0.78" fill="#6c6c6c"/>
<circle cx="513.92" cy="411.46" r="0.47" fill="#4a4a4a"/>
<circle cx="327.56" cy="404.69" r="0.68" fill="#565656"/>
<circle cx="296.93" cy="420.27" r="0.52" fill="#343434"/>
<circle cx="329.66" cy="414.17" r="0.69" fill="#4b4b4b"/>
<circle cx="330.6" cy="415.8" r="0.67" fill="#575757"/>
<rect x="276" y="312" width="270" height="82" fill="#000" filter="url(#hatch)" opacity="0.32" mask="url(#bandmask)"/>
<path d="M368.89,356.99 A7.08,7.78 0 0 1 370.28,342.45" fill="none" stroke="#a6a6a6" stroke-width="0.45"/>
<path d="M370.08,357.22 A6.84,7.52 0 0 1 369.74,342.9" fill="none" stroke="#adadad" stroke-width="0.45"/>
<path d="M367.81,361.04 A10.87,11.96 0 0 1 369.07,338.48" fill="none" stroke="#888888" stroke-width="0.45"/>
<path d="M367.64,362.46 A12.14,13.35 0 0 1 368.5,337.22" fill="none" stroke="#8c8c8c" stroke-width="0.45"/>
<path d="M367.94,366.09 A15.18,16.7 0 0 1 365.41,334.96" fill="none" stroke="#838383" stroke-width="0.45"/>
<path d="M367.05,367.27 A16.46,18.11 0 0 1 364.79,333.73" fill="none" stroke="#a5a5a5" stroke-width="0.45"/>
<path d="M368.27,369.25 A17.89,19.68 0 0 1 364.54,332.11" fill="none" stroke="#818181" stroke-width="0.45"/>
<path d="M363.54,369.54 A19.67,21.64 0 0 1 365.88,329.43" fill="none" stroke="#7d7d7d" stroke-width="0.45"/>
<path d="M362.68,373.11 A22.99,25.29 0 0 1 364.78,325.99" fill="none" stroke="#acacac" stroke-width="0.45"/>
<path d="M361.42,375.09 A25.14,27.66 0 0 1 364.48,323.61" fill="none" stroke="#888888" stroke-width="0.45"/>
<path d="M365.76,377.79 A26.02,28.62 0 0 1 362.18,323.49" fill="none" stroke="#797979" stroke-width="0.45"/>
<path d="M365.18,381.06 A29.05,31.96 0 0 1 361.25,320.31" fill="none" stroke="#acacac" stroke-width="0.45"/>
<path d="M362.49,382.63 A31.15,34.27 0 0 1 364.51,316.74" fill="none" stroke="#909090" stroke-width="0.45"/>
<path d="M358.49,380.92 A31.19,34.3 0 0 1 361.85,317.56" fill="none" stroke="#808080" stroke-width="0.45"/>
<path d="M439.08,353.72 A3.83,3.83 0 0 1 438.92,346.33" fill="none" stroke="#a4a4a4" stroke-width="0.45"/>
<path d="M437.39,355.8 A6.37,6.37 0 0 1 438.92,343.73" fill="none" stroke="#919191" stroke-width="0.45"/>
<path d="M438.11,359.73 A9.91,9.91 0 0 1 438.07,340.28" fill="none" stroke="#aeaeae" stroke-width="0.45"/>
<path d="M434.29,362.23 A13.49,13.49 0 0 1 435.24,337.38" fill="none" stroke="#afafaf" stroke-width="0.45"/>
<path d="M434.92,365.09 A15.92,15.92 0 0 1 435.74,334.65" fill="none" stroke="#999999" stroke-width="0.45"/>
<path d="M436.11,365.85 A16.32,16.32 0 0 1 434.31,334.71" fill="none" stroke="#929292" stroke-width="0.45"/>
<path d="M431.85,367.2 A19.04,19.04 0 0 1 436.61,331.27" fill="none" stroke="#a8a8a8" stroke-width="0.45"/>
<path d="M432.22,371 A22.4,22.4 0 0 1 433.99,328.42" fill="none" stroke="#b9b9b9" stroke-width="0.45"/>
<path d="M429.69,373.86 A25.99,25.99 0 0 1 432.53,325.1" fill="none" stroke="#bababa" stroke-width="0.45"/>
<path d="M431.68,375.08 A26.43,26.43 0 0 1 431.13,325.1" fill="none" stroke="#b7b7b7" stroke-width="0.45"/>
<path d="M425.85,377.43 A30.87,30.87 0 0 1 432.44,320.07" fill="none" stroke="#aaaaaa" stroke-width="0.45"/>
<path d="M470.88,349.61 A5.46,5.46 0 0 1 471.5,360.25" fill="none" stroke="#ababab" stroke-width="0.45"/>
<path d="M470.31,347.14 A7.86,7.86 0 0 1 471.94,362.62" fill="none" stroke="#9a9a9a" stroke-width="0.45"/>
<path d="M471.72,346.1 A9.06,9.06 0 0 1 470.88,364.02" fill="none" stroke="#9a9a9a" stroke-width="0.45"/>
<path d="M473.18,342.19 A13.2,13.2 0 0 1 474.02,367.57" fill="none" stroke="#929292" stroke-width="0.45"/>
<path d="M471.33,338.57 A16.48,16.48 0 0 1 475.19,370.64" fill="none" stroke="#a9a9a9" stroke-width="0.45"/>
<path d="M471.58,338.03 A17.04,17.04 0 0 1 470.71,372.03" fill="none" stroke="#9a9a9a" stroke-width="0.45"/>
<path d="M470.73,333.6 A21.41,21.41 0 0 1 473.28,376.16" fill="none" stroke="#b0b0b0" stroke-width="0.45"/>
<path d="M472.43,330.74 A24.38,24.38 0 0 1 476.62,378.47" fill="none" stroke="#8d8d8d" stroke-width="0.45"/>
<path d="M477.86,330.27 A25.95,25.95 0 0 1 472.41,380.84" fill="none" stroke="#b9b9b9" stroke-width="0.45"/>
<path d="M519.51,354 A4.03,4.03 0 0 1 518.79,346.15" fill="none" stroke="#bdbdbd" stroke-width="0.45"/>
<path d="M519.1,358.1 A8.15,8.15 0 0 1 518.17,342.05" fill="none" stroke="#aeaeae" stroke-width="0.45"/>
<path d="M519.02,362.21 A12.25,12.25 0 0 1 517.48,338.01" fill="none" stroke="#b9b9b9" stroke-width="0.45"/>
<path d="M518.46,364.65 A14.73,14.73 0 0 1 515.73,335.9" fill="none" stroke="#bdbdbd" stroke-width="0.45"/>
<path d="M514.44,366.83 A17.73,17.73 0 0 1 512.46,333.95" fill="none" stroke="#999999" stroke-width="0.45"/>
<path d="M514.52,370.29 A21.01,21.01 0 0 1 513.29,330.09" fill="none" stroke="#c0c0c0" stroke-width="0.45"/>
<path d="M513.27,371.54 A22.57,22.57 0 0 1 510.08,329.73" fill="none" stroke="#b6b6b6" stroke-width="0.45"/>
<path d="M514.06,376.98 A27.62,27.62 0 0 1 508.59,324.84" fill="none" stroke="#bfbfbf" stroke-width="0.45"/>
<path d="M511.53,379.37 A30.57,30.57 0 0 1 514.91,319.86" fill="none" stroke="#bdbdbd" stroke-width="0.45"/>
<path d="M541.03,356.6 C540.33,355.93 538.07,354.05 536.82,352.58 C535.58,351.1 534.09,348.57 533.55,347.77" fill="none" stroke="#7a7a7a" stroke-width="0.42" stroke-linejoin="round" />
<path d="M397.4,352.54 C397.7,351.75 398.8,349.43 399.19,347.8 C399.59,346.17 399.79,344.43 399.75,342.76 C399.7,341.08 399.06,338.58 398.92,337.75" fill="none" stroke="#898989" stroke-width="0.5" stroke-linejoin="round" />
<path d="M431.14,345.78 C431.48,346.58 432.62,348.97 433.18,350.62 C433.75,352.28 434.24,353.98 434.54,355.7 C434.83,357.42 434.9,360.07 434.97,360.94" fill="none" stroke="#707070" stroke-width="0.57" stroke-linejoin="round" />
<path d="M478.66,380.3 C478.07,381.2 476.52,384.08 475.12,385.68 C473.73,387.29 471.1,389.24 470.29,389.95" fill="none" stroke="#a6a6a6" stroke-width="0.45" stroke-linejoin="round" />
<path d="M363.3,375.44 C362.23,375.28 359.02,374.59 356.86,374.49 C354.7,374.39 352.49,374.51 350.36,374.85 C348.22,375.19 345.11,376.24 344.06,376.51" fill="none" stroke="#aaaaaa" stroke-width="0.55" stroke-linejoin="round" />
<path d="M493.82,335.39 C494.38,334.77 496.17,333.01 497.19,331.7 C498.21,330.39 499.47,328.21 499.92,327.51" fill="none" stroke="#9b9b9b" stroke-width="0.58" stroke-linejoin="round" />
<path d="M404.36,374.09 C403.48,374.63 400.88,376.24 399.12,377.29 C397.37,378.34 395.45,379.16 393.83,380.38 C392.21,381.61 390.14,383.92 389.41,384.63" fill="none" stroke="#969696" stroke-width="0.49" stroke-linejoin="round" />
<path d="M406.1,319.01 C406.7,318.73 408.6,318.05 409.7,317.34 C410.81,316.64 412.24,315.21 412.74,314.78" fill="none" stroke="#b2b2b2" stroke-width="0.45" stroke-linejoin="round" />
<path d="M444.47,374.56 C445.13,375.16 447.2,376.9 448.41,378.2 C449.62,379.51 450.81,380.9 451.75,382.41 C452.68,383.92 453.65,386.46 454.03,387.27" fill="none" stroke="#8f8f8f" stroke-width="0.49" stroke-linejoin="round" />
<path d="M359.97,387.92 C360.73,388.34 363.17,389.44 364.56,390.48 C365.95,391.52 366.98,393.02 368.31,394.16 C369.63,395.31 371.8,396.81 372.5,397.33" fill="none" stroke="#a0a0a0" stroke-width="0.45" stroke-linejoin="round" />
<path d="M389.25,316.16 C388.91,315.28 387.61,312.7 387.16,310.87 C386.72,309.05 386.71,307.1 386.61,305.21 C386.51,303.32 386.55,300.47 386.54,299.53" fill="none" stroke="#b9b9b9" stroke-width="0.43" stroke-linejoin="round" />
<path d="M349.65,319.3 C348.84,318.67 346.41,316.8 344.81,315.53 C343.22,314.25 340.85,312.3 340.06,311.66" fill="none" stroke="#777777" stroke-width="0.47" stroke-linejoin="round" />
<path d="M365.01,322.8 C363.86,322.94 360.38,323.19 358.11,323.62 C355.84,324.05 352.5,325.08 351.38,325.37" fill="none" stroke="#a7a7a7" stroke-width="0.44" stroke-linejoin="round" />
<path d="M356.12,337.65 C356.55,338.6 357.99,341.4 358.73,343.35 C359.46,345.3 360.23,348.36 360.53,349.36" fill="none" stroke="#7a7a7a" stroke-width="0.57" stroke-linejoin="round" />
<path d="M432.19,339.17 C432.86,338.78 434.99,337.77 436.22,336.84 C437.45,335.92 439.03,334.18 439.59,333.64" fill="none" stroke="#888888" stroke-width="0.56" stroke-linejoin="round" />
<path d="M476.52,335.66 C476.47,335.15 476.4,333.59 476.19,332.6 C475.97,331.6 475.4,330.16 475.24,329.67" fill="none" stroke="#b9b9b9" stroke-width="0.46" stroke-linejoin="round" />
<path d="M390.5,317.56 C390.22,318.67 389.2,321.95 388.79,324.2 C388.39,326.44 388.2,329.87 388.08,331.01" fill="none" stroke="#797979" stroke-width="0.51" stroke-linejoin="round" />
<path d="M338.13,380.5 C337.49,380.73 335.62,381.51 334.33,381.89 C333.04,382.27 331.05,382.62 330.39,382.77" fill="none" stroke="#7f7f7f" stroke-width="0.47" stroke-linejoin="round" />
<path d="M490.54,342.9 C490.78,343.58 491.67,345.59 491.97,346.99 C492.27,348.39 492.3,350.58 492.36,351.3" fill="none" stroke="#838383" stroke-width="0.46" stroke-linejoin="round" />
<path d="M415.34,373.65 C414.96,372.95 413.87,370.81 413.06,369.44 C412.26,368.06 410.93,366.06 410.5,365.39" fill="none" stroke="#9c9c9c" stroke-width="0.45" stroke-linejoin="round" />
<path d="M523.4,334.51 C522.97,334.23 521.72,333.35 520.85,332.82 C519.97,332.29 518.62,331.58 518.17,331.33" fill="none" stroke="#929292" stroke-width="0.41" stroke-linejoin="round" />
<path d="M427.49,323.04 C428.03,324.01 429.43,327.08 430.71,328.89 C431.99,330.69 434.43,333.03 435.18,333.85" fill="none" stroke="#ababab" stroke-width="0.58" stroke-linejoin="round" />
<path d="M347.81,328.88 C348.56,328.47 350.85,327.3 352.3,326.4 C353.75,325.51 355.83,323.99 356.53,323.5" fill="none" stroke="#757575" stroke-width="0.41" stroke-linejoin="round" />
<path d="M381.93,372.05 C381.23,372.5 379.2,374.01 377.71,374.74 C376.23,375.48 374.5,375.73 373.02,376.48 C371.55,377.23 369.55,378.79 368.86,379.25" fill="none" stroke="#a5a5a5" stroke-width="0.5" stroke-linejoin="round" />
<path d="M517.44,330.57 C517.66,330 518.34,328.29 518.77,327.15 C519.2,326.01 519.81,324.28 520.01,323.7" fill="none" stroke="#7e7e7e" stroke-width="0.41" stroke-linejoin="round" />
<path d="M430.59,338.79 C431.05,339.41 432.32,341.39 433.37,342.5 C434.43,343.62 436.34,344.99 436.93,345.49" fill="none" stroke="#aaaaaa" stroke-width="0.5" stroke-linejoin="round" />
<path d="M372.97,314.85 C373.87,314.67 376.56,314.16 378.35,313.79 C380.14,313.42 381.91,312.89 383.71,312.63 C385.52,312.38 388.27,312.32 389.18,312.26" fill="none" stroke="#b2b2b2" stroke-width="0.53" stroke-linejoin="round" />
<path d="M364.39,342.43 C363.72,343.19 361.47,345.33 360.36,347.01 C359.25,348.69 358.17,351.59 357.73,352.51" fill="none" stroke="#9d9d9d" stroke-width="0.53" stroke-linejoin="round" />
<path d="M472.32,368.58 C472.84,368.52 474.39,368.34 475.42,368.2 C476.46,368.05 478,367.8 478.51,367.72" fill="none" stroke="#727272" stroke-width="0.46" stroke-linejoin="round" />
<path d="M540.82,379.46 C541.03,378.58 541.91,375.97 542.1,374.18 C542.29,372.39 542,369.65 541.97,368.75" fill="none" stroke="#717171" stroke-width="0.54" stroke-linejoin="round" />
<path d="M337.66,387.97 C338.46,387.87 340.87,387.32 342.48,387.32 C344.09,387.32 346.5,387.86 347.3,387.97" fill="none" stroke="#acacac" stroke-width="0.53" stroke-linejoin="round" />
<path d="M379.79,384.67 C380.51,384.45 382.66,383.66 384.13,383.34 C385.6,383.02 387.88,382.86 388.63,382.77" fill="none" stroke="#909090" stroke-width="0.45" stroke-linejoin="round" />
<path d="M537.82,339.1 C538.49,338.3 540.75,336.07 541.84,334.31 C542.93,332.56 543.94,329.54 544.36,328.58" fill="none" stroke="#9d9d9d" stroke-width="0.55" stroke-linejoin="round" />
<path d="M385.31,379.28 C385.02,379.93 384.13,381.85 383.56,383.14 C382.98,384.43 382.15,386.38 381.87,387.03" fill="none" stroke="#b4b4b4" stroke-width="0.54" stroke-linejoin="round" />
<path d="M364.05,332.75 C363.47,333.07 361.65,333.9 360.57,334.65 C359.49,335.4 358.08,336.82 357.58,337.25" fill="none" stroke="#b0b0b0" stroke-width="0.43" stroke-linejoin="round" />
<path d="M402.78,372.76 C403.32,372.27 404.85,370.71 406.01,369.86 C407.17,369.01 409.12,368 409.74,367.63" fill="none" stroke="#a2a2a2" stroke-width="0.45" stroke-linejoin="round" />
<path d="M455.31,331.39 C455.15,332.07 454.76,334.15 454.36,335.49 C453.97,336.83 453.15,338.78 452.91,339.44" fill="none" stroke="#7a7a7a" stroke-width="0.41" stroke-linejoin="round" />
<path d="M338.69,336.59 C337.81,336.61 335.15,336.64 333.38,336.72 C331.62,336.81 328.97,337.04 328.09,337.11" fill="none" stroke="#b1b1b1" stroke-width="0.48" stroke-linejoin="round" />
<path d="M398.36,365.72 C399.21,366.17 401.76,367.51 403.46,368.4 C405.16,369.29 406.87,370.17 408.57,371.08 C410.26,371.98 412.78,373.38 413.62,373.84" fill="none" stroke="#9d9d9d" stroke-width="0.58" stroke-linejoin="round" />
<path d="M538.06,329.03 C537.58,329.39 536.05,330.37 535.16,331.17 C534.26,331.97 533.12,333.38 532.71,333.82" fill="none" stroke="#8e8e8e" stroke-width="0.53" stroke-linejoin="round" />
<path d="M421.94,388.59 C421.5,389.31 419.98,391.38 419.31,392.91 C418.64,394.44 418.14,396.96 417.91,397.78" fill="none" stroke="#aaaaaa" stroke-width="0.44" stroke-linejoin="round" />
<path d="M404.23,385.77 C404.97,384.96 406.97,382.3 408.63,380.91 C410.29,379.51 413.26,377.99 414.18,377.41" fill="none" stroke="#858585" stroke-width="0.49" stroke-linejoin="round" />
<path d="M403.42,389.76 C402.84,389.06 401.09,387 399.95,385.6 C398.82,384.2 397.75,382.73 396.59,381.35 C395.43,379.97 394.32,378.52 392.99,377.32 C391.65,376.12 389.32,374.69 388.59,374.16" fill="none" stroke="#8b8b8b" stroke-width="0.47" stroke-linejoin="round" />
<path d="M484.43,343.65 C485.43,343.05 488.37,341.18 490.4,340.08 C492.44,338.97 495.61,337.53 496.65,337.02" fill="none" stroke="#909090" stroke-width="0.42" stroke-linejoin="round" />
<path d="M442.59,383 C443.14,383.68 444.79,385.75 445.92,387.1 C447.04,388.45 448.15,389.84 449.36,391.11 C450.57,392.39 452.55,394.15 453.18,394.76" fill="none" stroke="#b3b3b3" stroke-width="0.47" stroke-linejoin="round" />
<path d="M483.64,348.1 C484.31,347.82 486.31,346.88 487.69,346.38 C489.06,345.87 491.2,345.3 491.9,345.09" fill="none" stroke="#828282" stroke-width="0.48" stroke-linejoin="round" />
<path d="M359.72,363.09 C360.6,363.21 363.24,363.7 365.01,363.8 C366.78,363.91 369.45,363.73 370.34,363.71" fill="none" stroke="#b9b9b9" stroke-width="0.59" stroke-linejoin="round" />
<path d="M376.42,373.76 C376.64,372.89 377.26,370.25 377.75,368.52 C378.25,366.79 379.13,364.23 379.41,363.37" fill="none" stroke="#b9b9b9" stroke-width="0.41" stroke-linejoin="round" />
<path d="M421.99,357.73 C421.74,358.21 420.86,359.59 420.49,360.6 C420.12,361.6 419.87,363.22 419.74,363.74" fill="none" stroke="#8d8d8d" stroke-width="0.4" stroke-linejoin="round" />
<path d="M485.04,391 C484.76,390.56 483.79,389.28 483.37,388.33 C482.94,387.38 482.64,385.8 482.5,385.3" fill="none" stroke="#818181" stroke-width="0.49" stroke-linejoin="round" />
<path d="M350.48,341.22 C350.31,342.09 349.72,344.7 349.48,346.46 C349.23,348.22 349.08,350.88 349,351.77" fill="none" stroke="#787878" stroke-width="0.45" stroke-linejoin="round" />
<path d="M346.04,389.94 C345.65,390.49 344.5,392.16 343.72,393.26 C342.95,394.37 341.79,396.03 341.4,396.59" fill="none" stroke="#808080" stroke-width="0.44" stroke-linejoin="round" />
<path d="M531.01,357.71 C530.76,357.2 530.04,355.65 529.5,354.65 C528.96,353.65 528.07,352.2 527.78,351.71" fill="none" stroke="#707070" stroke-width="0.45" stroke-linejoin="round" />
<path d="M354.88,359.72 C354.95,360.48 355.31,362.73 355.33,364.23 C355.35,365.74 355.05,368 354.99,368.75" fill="none" stroke="#8b8b8b" stroke-width="0.52" stroke-linejoin="round" />
<path d="M426.88,315.03 C426.9,314.15 426.95,311.54 426.95,309.79 C426.95,308.05 426.77,306.29 426.88,304.56 C426.99,302.82 427.36,301.1 427.6,299.37 C427.84,297.64 428.2,295.05 428.32,294.19" fill="none" stroke="#b0b0b0" stroke-width="0.51" stroke-linejoin="round" />
<path d="M487.84,331.24 C488.33,331.97 489.87,334.16 490.8,335.66 C491.74,337.17 493.01,339.52 493.45,340.29" fill="none" stroke="#858585" stroke-width="0.44" stroke-linejoin="round" />
<path d="M400.65,365.68 C400.09,365.04 398.31,363.2 397.3,361.85 C396.3,360.49 395.07,358.24 394.62,357.52" fill="none" stroke="#959595" stroke-width="0.48" stroke-linejoin="round" />
<path d="M445.33,337.9 C445.64,336.92 446.66,334.02 447.16,332.05 C447.67,330.07 448.13,328.06 448.37,326.03 C448.61,324.01 448.57,320.93 448.61,319.91" fill="none" stroke="#848484" stroke-width="0.59" stroke-linejoin="round" />
<path d="M441.93,354.66 C442.14,355.62 442.92,358.49 443.18,360.43 C443.43,362.38 443.41,365.35 443.45,366.33" fill="none" stroke="#7b7b7b" stroke-width="0.53" stroke-linejoin="round" />
<path d="M466.61,348.11 C466.42,348.67 465.85,350.34 465.5,351.46 C465.15,352.59 464.66,354.29 464.49,354.85" fill="none" stroke="#ababab" stroke-width="0.59" stroke-linejoin="round" />
<path d="M423.28,369 C422.92,370.16 421.72,373.61 421.14,375.96 C420.56,378.31 420.01,381.92 419.79,383.11" fill="none" stroke="#747474" stroke-width="0.42" stroke-linejoin="round" />
<path d="M431.16,363.67 C430.42,363.21 428.07,361.98 426.73,360.88 C425.39,359.79 423.72,357.74 423.12,357.11" fill="none" stroke="#7e7e7e" stroke-width="0.41" stroke-linejoin="round" />
<path d="M473.76,380.49 C474.28,379.73 476,377.53 476.86,375.92 C477.72,374.3 478.13,372.45 478.92,370.79 C479.7,369.13 481.13,366.76 481.57,365.95" fill="none" stroke="#747474" stroke-width="0.41" stroke-linejoin="round" />
<path d="M446.84,368.61 C446.42,369.44 445.13,371.88 444.35,373.55 C443.57,375.22 442.51,377.77 442.15,378.62" fill="none" stroke="#8c8c8c" stroke-width="0.43" stroke-linejoin="round" />
<path d="M406.32,323.62 C405.58,323.97 403.29,324.93 401.87,325.75 C400.44,326.56 398.45,328.04 397.76,328.5" fill="none" stroke="#9f9f9f" stroke-width="0.49" stroke-linejoin="round" />
<path d="M536.8,361.12 C537.68,361.04 540.32,360.69 542.09,360.66 C543.86,360.63 546.51,360.9 547.39,360.95" fill="none" stroke="#7e7e7e" stroke-width="0.55" stroke-linejoin="round" />
<path d="M443.21,377.5 C442.26,377.62 439.41,377.85 437.54,378.19 C435.67,378.52 433.86,379.19 431.98,379.5 C430.11,379.8 427.25,379.94 426.3,380.03" fill="none" stroke="#999999" stroke-width="0.54" stroke-linejoin="round" />
<path d="M335.02,332.07 C334.96,333.03 334.52,335.92 334.66,337.81 C334.8,339.71 335.67,342.5 335.87,343.43" fill="none" stroke="#727272" stroke-width="0.59" stroke-linejoin="round" />
<path d="M404.01,380.18 C404.05,379.12 404.26,375.94 404.26,373.82 C404.26,371.7 404.2,369.57 404.03,367.46 C403.86,365.34 403.38,362.19 403.24,361.14" fill="none" stroke="#9e9e9e" stroke-width="0.46" stroke-linejoin="round" />
<path d="M477.59,372.99 C478.39,373.62 480.93,375.35 482.41,376.75 C483.88,378.14 485.15,379.75 486.42,381.34 C487.69,382.93 489.43,385.45 490.03,386.27" fill="none" stroke="#747474" stroke-width="0.6" stroke-linejoin="round" />
<path d="M488.62,372.88 C488.76,371.83 489.26,368.7 489.47,366.6 C489.68,364.5 489.52,362.35 489.87,360.27 C490.21,358.2 491.26,355.18 491.54,354.16" fill="none" stroke="#7f7f7f" stroke-width="0.45" stroke-linejoin="round" />
<path d="M485.5,366.33 C485.13,366.77 483.99,368.06 483.31,368.99 C482.64,369.91 481.75,371.38 481.43,371.86" fill="none" stroke="#7f7f7f" stroke-width="0.57" stroke-linejoin="round" />
<path d="M536.43,382.1 C535.32,382.6 532.04,384.32 529.72,385.08 C527.41,385.83 523.74,386.36 522.54,386.62" fill="none" stroke="#a8a8a8" stroke-width="0.59" stroke-linejoin="round" />
<path d="M434.22,350.02 C433.6,350.81 431.7,353.13 430.55,354.76 C429.39,356.39 428.14,358 427.29,359.79 C426.44,361.58 425.75,364.54 425.44,365.49" fill="none" stroke="#7d7d7d" stroke-width="0.47" stroke-linejoin="round" />
<path d="M340.48,376.13 C339.7,375.96 337.32,375.54 335.78,375.08 C334.25,374.62 332.03,373.65 331.28,373.36" fill="none" stroke="#878787" stroke-width="0.57" stroke-linejoin="round" />
<path d="M470.06,338.27 C470.94,337.56 473.47,335.22 475.39,334.02 C477.3,332.83 480.52,331.6 481.55,331.12" fill="none" stroke="#b7b7b7" stroke-width="0.49" stroke-linejoin="round" />
<path d="M400.73,382.17 C400.12,381.59 398.14,379.98 397.03,378.72 C395.93,377.46 395.06,375.98 394.08,374.61 C393.11,373.24 391.66,371.16 391.18,370.47" fill="none" stroke="#ababab" stroke-width="0.49" stroke-linejoin="round" />
<path d="M337.49,388.55 C337.32,387.76 336.61,385.43 336.48,383.84 C336.35,382.25 336.66,379.83 336.7,379.03" fill="none" stroke="#7d7d7d" stroke-width="0.53" stroke-linejoin="round" />
<path d="M454.93,350 C454.09,350.03 451.54,350.36 449.89,350.17 C448.24,349.97 446.68,349.13 445.03,348.84 C443.39,348.56 440.85,348.52 440.01,348.46" fill="none" stroke="#939393" stroke-width="0.56" stroke-linejoin="round" />
<path d="M501.45,341.82 C501.35,342.61 500.91,344.97 500.84,346.56 C500.77,348.14 501,350.53 501.03,351.33" fill="none" stroke="#a5a5a5" stroke-width="0.43" stroke-linejoin="round" />
<path d="M422.95,339.53 C423.79,339.86 426.33,340.88 428.02,341.55 C429.72,342.22 431.48,342.76 433.11,343.55 C434.75,344.34 436.17,345.63 437.84,346.3 C439.51,346.96 442.27,347.35 443.16,347.56" fill="none" stroke="#808080" stroke-width="0.52" stroke-linejoin="round" />
<path d="M414.76,378.87 C414.15,378.28 412.26,376.56 411.09,375.32 C409.93,374.09 408.71,372.86 407.76,371.46 C406.81,370.07 406.34,368.34 405.39,366.95 C404.43,365.56 402.59,363.74 402.03,363.1" fill="none" stroke="#b6b6b6" stroke-width="0.47" stroke-linejoin="round" />
<path d="M529.96,330.18 C530.47,330.31 532.06,330.59 533.05,330.98 C534.03,331.36 535.38,332.24 535.85,332.49" fill="none" stroke="#898989" stroke-width="0.5" stroke-linejoin="round" />
<path d="M531.78,357.68 C532.16,358.26 533.27,360.01 534.04,361.16 C534.82,362.3 536.06,363.97 536.46,364.53" fill="none" stroke="#8f8f8f" stroke-width="0.52" stroke-linejoin="round" />
<path d="M525.58,326.9 C526.61,326.98 529.72,327.03 531.74,327.39 C533.76,327.74 535.67,328.65 537.69,329.04 C539.7,329.43 542.8,329.61 543.82,329.73" fill="none" stroke="#848484" stroke-width="0.58" stroke-linejoin="round" />
<path d="M377.62,359.67 C377.52,360.64 377.35,363.57 377.03,365.48 C376.71,367.4 376.02,369.26 375.71,371.18 C375.4,373.1 375.26,376.03 375.17,377" fill="none" stroke="#a4a4a4" stroke-width="0.59" stroke-linejoin="round" />
<path d="M346.09,387.64 C345.05,387.3 341.87,386.45 339.88,385.59 C337.88,384.73 335.09,382.99 334.13,382.48" fill="none" stroke="#a3a3a3" stroke-width="0.43" stroke-linejoin="round" />
<path d="M432.05,363.82 C432.65,363.13 434.56,361.14 435.65,359.67 C436.74,358.2 437.75,356.65 438.57,355.02 C439.4,353.4 440.11,351.68 440.61,349.93 C441.11,348.18 441.42,345.42 441.58,344.52" fill="none" stroke="#a2a2a2" stroke-width="0.47" stroke-linejoin="round" />
<path d="M426.99,338.18 C427.76,337.71 430.03,336.26 431.58,335.36 C433.13,334.46 434.85,333.81 436.31,332.78 C437.77,331.76 439.67,329.81 440.35,329.22" fill="none" stroke="#939393" stroke-width="0.44" stroke-linejoin="round" />
<path d="M436.22,348.31 C437.1,348.47 439.75,348.97 441.52,349.28 C443.29,349.59 445.06,350.03 446.84,350.16 C448.63,350.3 450.44,350.05 452.23,350.07 C454.03,350.09 456.72,350.25 457.62,350.28" fill="none" stroke="#808080" stroke-width="0.5" stroke-linejoin="round" />
<path d="M415.91,319.43 C416.04,320.05 416.53,321.89 416.73,323.14 C416.93,324.39 417.03,326.3 417.09,326.93" fill="none" stroke="#a0a0a0" stroke-width="0.53" stroke-linejoin="round" />
<path d="M433.18,379.1 C432.08,378.54 428.8,376.85 426.6,375.75 C424.39,374.65 421.07,373.04 419.97,372.5" fill="none" stroke="#afafaf" stroke-width="0.53" stroke-linejoin="round" />
<path d="M426.27,337.26 C426.78,338.39 428.62,341.69 429.31,344.05 C430,346.4 430.24,350.17 430.43,351.4" fill="none" stroke="#808080" stroke-width="0.53" stroke-linejoin="round" />
<path d="M478.03,345.11 C478.93,345.36 481.69,345.96 483.43,346.63 C485.17,347.29 487.63,348.68 488.47,349.1" fill="none" stroke="#828282" stroke-width="0.51" stroke-linejoin="round" />
<path d="M419.93,328.23 C419.36,328.54 417.52,329.33 416.48,330.1 C415.44,330.87 414.16,332.4 413.7,332.86" fill="none" stroke="#979797" stroke-width="0.56" stroke-linejoin="round" />
<path d="M428.01,335.43 C426.84,335.19 423.26,334.7 420.97,334.04 C418.69,333.38 415.4,331.89 414.29,331.46" fill="none" stroke="#979797" stroke-width="0.53" stroke-linejoin="round" />
<path d="M435.63,339.94 C436.3,340.71 438.21,343.1 439.66,344.52 C441.11,345.94 443.53,347.81 444.31,348.47" fill="none" stroke="#9d9d9d" stroke-width="0.56" stroke-linejoin="round" />
<path d="M349.18,377.21 C348.34,376.91 345.86,375.88 344.15,375.37 C342.45,374.87 340.67,374.58 338.93,374.19 C337.19,373.79 334.58,373.21 333.71,373.02" fill="none" stroke="#9e9e9e" stroke-width="0.4" stroke-linejoin="round" />
<path d="M504.98,325.46 C504.2,325.25 501.83,324.75 500.31,324.23 C498.79,323.72 496.6,322.68 495.86,322.37" fill="none" stroke="#7b7b7b" stroke-width="0.59" stroke-linejoin="round" />
<path d="M451.24,385.91 C450.71,386.23 449.05,387.11 448.06,387.84 C447.07,388.58 445.75,389.91 445.29,390.32" fill="none" stroke="#adadad" stroke-width="0.57" stroke-linejoin="round" />
<path d="M416.4,321.27 C416.33,322.37 416.44,325.76 416,327.91 C415.56,330.06 414.2,332.02 413.75,334.17 C413.3,336.32 413.37,339.71 413.29,340.81" fill="none" stroke="#757575" stroke-width="0.43" stroke-linejoin="round" />
<path d="M343.23,339.57 C342.77,338.74 341.57,336.11 340.46,334.58 C339.36,333.05 338.01,331.65 336.61,330.38 C335.21,329.11 332.81,327.52 332.06,326.94" fill="none" stroke="#9b9b9b" stroke-width="0.53" stroke-linejoin="round" />
<path d="M539.58,342.13 C540.38,341.72 542.86,340.6 544.4,339.67 C545.94,338.73 547.43,337.68 548.81,336.52 C550.19,335.36 551.22,333.78 552.66,332.71 C554.09,331.65 556.63,330.57 557.42,330.14" fill="none" stroke="#848484" stroke-width="0.43" stroke-linejoin="round" />
<path d="M467.09,365.11 C467.68,366.03 469.62,368.71 470.63,370.64 C471.65,372.56 472.76,375.67 473.19,376.68" fill="none" stroke="#b4b4b4" stroke-width="0.56" stroke-linejoin="round" />
<path d="M456.47,349.22 C457.19,349.65 459.34,350.96 460.81,351.76 C462.28,352.56 463.93,353.08 465.3,354.02 C466.67,354.95 467.93,356.13 469.04,357.37 C470.15,358.61 471.48,360.78 471.97,361.46" fill="none" stroke="#b5b5b5" stroke-width="0.5" stroke-linejoin="round" />
<path d="M439.82,367.69 C440.25,368.25 441.72,369.83 442.44,371.04 C443.16,372.25 443.85,374.29 444.14,374.94" fill="none" stroke="#afafaf" stroke-width="0.59" stroke-linejoin="round" />
<path d="M513.18,342.23 C512.78,341.36 511.5,338.77 510.79,336.99 C510.07,335.21 509.63,333.32 508.91,331.54 C508.2,329.76 506.91,327.18 506.51,326.31" fill="none" stroke="#ababab" stroke-width="0.59" stroke-linejoin="round" />
<path d="M531.01,361.99 C531.58,361.26 533.13,358.93 534.43,357.64 C535.73,356.35 538.07,354.81 538.79,354.24" fill="none" stroke="#6e6e6e" stroke-width="0.6" stroke-linejoin="round" />
<path d="M480.17,338.83 C480.33,337.83 481.03,334.86 481.15,332.87 C481.28,330.87 480.77,328.83 480.9,326.83 C481.04,324.83 481.77,321.87 481.94,320.88" fill="none" stroke="#acacac" stroke-width="0.59" stroke-linejoin="round" />
<path d="M438.82,378.63 C439.25,378.27 440.56,377.21 441.41,376.47 C442.25,375.73 443.47,374.56 443.88,374.18" fill="none" stroke="#939393" stroke-width="0.52" stroke-linejoin="round" />
<path d="M425.16,386.8 C425.21,387.42 425.3,389.27 425.49,390.48 C425.69,391.7 426.18,393.49 426.32,394.09" fill="none" stroke="#7c7c7c" stroke-width="0.52" stroke-linejoin="round" />
<path d="M426.86,382.84 C425.95,382.32 423.24,380.69 421.37,379.73 C419.5,378.76 417.63,377.67 415.64,377.06 C413.65,376.45 410.44,376.23 409.4,376.07" fill="none" stroke="#949494" stroke-width="0.44" stroke-linejoin="round" />
<path d="M473.06,335.68 C472.1,335.94 469.27,337.04 467.32,337.28 C465.37,337.52 462.35,337.15 461.35,337.12" fill="none" stroke="#a4a4a4" stroke-width="0.55" stroke-linejoin="round" />
<path d="M481.15,364.5 C481.77,365.11 483.7,366.88 484.87,368.17 C486.04,369.45 487.62,371.54 488.17,372.22" fill="none" stroke="#aaaaaa" stroke-width="0.59" stroke-linejoin="round" />
<path d="M344.78,379.22 C345.15,378.24 346.06,375.17 347.02,373.3 C347.97,371.44 349.21,369.69 350.49,368.02 C351.77,366.34 353.98,364.06 354.68,363.27" fill="none" stroke="#7e7e7e" stroke-width="0.47" stroke-linejoin="round" />
<circle cx="330.63" cy="380.63" r="0.8" fill="#3f3f3f"/>
<circle cx="279.1" cy="350.23" r="0.39" fill="#292929"/>
<circle cx="326.84" cy="382.68" r="0.61" fill="#393939"/>
<circle cx="306.55" cy="369.5" r="0.54" fill="#434343"/>
<circle cx="335.77" cy="326.82" r="0.7" fill="#2f2f2f"/>
<circle cx="324.74" cy="363.61" r="0.49" fill="#5e5e5e"/>
<circle cx="287.35" cy="384.51" r="0.61" fill="#3a3a3a"/>
<circle cx="326.51" cy="332.01" r="0.47" fill="#252525"/>
<circle cx="334.11" cy="361.03" r="0.7" fill="#262626"/>
<circle cx="310.58" cy="380.39" r="0.47" fill="#565656"/>
<circle cx="303.23" cy="349.57" r="0.73" fill="#464646"/>
<circle cx="323.92" cy="330.56" r="0.61" fill="#595959"/>
<circle cx="310.39" cy="327.67" r="0.44" fill="#3f3f3f"/>
<circle cx="320.08" cy="356.33" r="0.84" fill="#515151"/>
<circle cx="334.64" cy="383.91" r="0.62" fill="#5a5a5a"/>
<circle cx="293.87" cy="341.41" r="0.62" fill="#646464"/>
<circle cx="338.37" cy="338.28" r="0.84" fill="#494949"/>
<circle cx="300.16" cy="388.78" r="0.62" fill="#2f2f2f"/>
<circle cx="294.8" cy="338.42" r="0.65" fill="#676767"/>
<circle cx="296.77" cy="314.29" r="0.6" fill="#383838"/>
<circle cx="337.28" cy="348.42" r="0.66" fill="#4d4d4d"/>
<circle cx="336.74" cy="366.84" r="0.61" fill="#4c4c4c"/>
<circle cx="335.56" cy="327.82" r="0.72" fill="#737373"/>
<circle cx="299.7" cy="360.39" r="0.51" fill="#444444"/>
<circle cx="321.72" cy="368.74" r="0.39" fill="#696969"/>
<circle cx="277.62" cy="356.25" r="0.63" fill="#383838"/>
<circle cx="318.74" cy="372.26" r="0.72" fill="#3c3c3c"/>
<circle cx="320.11" cy="386.13" r="0.72" fill="#363636"/>
<circle cx="280.1" cy="346.12" r="0.52" fill="#414141"/>
<circle cx="303.19" cy="384.2" r="0.64" fill="#696969"/>
<circle cx="288.39" cy="357.85" r="0.85" fill="#343434"/>
<circle cx="291.12" cy="328.85" r="0.5" fill="#2d2d2d"/>
<circle cx="332.47" cy="353.24" r="0.72" fill="#474747"/>
<circle cx="301.2" cy="391.41" r="0.39" fill="#212121"/>
<circle cx="329.32" cy="390.5" r="0.81" fill="#2c2c2c"/>
<circle cx="333.22" cy="353.15" r="0.55" fill="#545454"/>
<circle cx="318.69" cy="388.28" r="0.9" fill="#242424"/>
<circle cx="316.27" cy="364.27" r="0.55" fill="#323232"/>
<circle cx="300.02" cy="322.67" r="0.49" fill="#4d4d4d"/>
<circle cx="285.92" cy="324.65" r="0.41" fill="#313131"/>
<circle cx="327.2" cy="321.98" r="0.63" fill="#454545"/>
<circle cx="313.19" cy="356.84" r="0.6" fill="#525252"/>
<circle cx="324.25" cy="370.2" r="0.58" fill="#3c3c3c"/>
<circle cx="291.92" cy="372.55" r="0.84" fill="#3c3c3c"/>
<circle cx="299.52" cy="373.89" r="0.67" fill="#5b5b5b"/>
<circle cx="304.05" cy="350.11" r="0.47" fill="#232323"/>
<circle cx="319.21" cy="378.78" r="0.89" fill="#575757"/>
<circle cx="292.05" cy="315.01" r="0.46" fill="#353535"/>
<circle cx="293.37" cy="373.92" r="0.54" fill="#292929"/>
<circle cx="281.97" cy="372.36" r="0.63" fill="#272727"/>
<circle cx="336.01" cy="331.55" r="0.44" fill="#313131"/>
<circle cx="304.21" cy="386.52" r="0.74" fill="#2b2b2b"/>
<circle cx="304.02" cy="325.28" r="0.62" fill="#232323"/>
<circle cx="339.36" cy="370.79" r="0.8" fill="#323232"/>
<circle cx="326.78" cy="334.79" r="0.53" fill="#232323"/>
<circle cx="283.45" cy="371.4" r="0.63" fill="#363636"/>
<circle cx="287.59" cy="365.57" r="0.49" fill="#555555"/>
<circle cx="305.59" cy="331.21" r="0.35" fill="#595959"/>
<circle cx="291.03" cy="343.87" r="0.57" fill="#373737"/>
<circle cx="310.78" cy="335.01" r="0.53" fill="#4c4c4c"/>
<circle cx="293.77" cy="365.65" r="0.37" fill="#3a3a3a"/>
<circle cx="303.24" cy="379.57" r="0.44" fill="#262626"/>
<circle cx="281.44" cy="355.44" r="0.86" fill="#3f3f3f"/>
<circle cx="283.29" cy="352.18" r="0.49" fill="#5c5c5c"/>
<circle cx="283.25" cy="385.99" r="0.79" fill="#666666"/>
<circle cx="295.39" cy="386.71" r="0.42" fill="#5a5a5a"/>
<circle cx="281.23" cy="346.99" r="0.73" fill="#727272"/>
<circle cx="320.94" cy="358.25" r="0.78" fill="#232323"/>
<path d="M453.05,385.97 C453.87,385.79 456.29,385.02 457.94,384.88 C459.59,384.74 461.27,385.17 462.94,385.13 C464.6,385.1 466.29,385 467.92,384.69 C469.55,384.38 471.09,383.58 472.72,383.27 C474.35,382.96 476.05,383.02 477.71,382.82 C479.37,382.63 481,382.18 482.66,382.1 C484.32,382.02 486,382.44 487.66,382.36 C489.32,382.27 490.97,381.88 492.61,381.6 C494.25,381.32 495.93,381.13 497.53,380.66 C499.12,380.19 500.71,379.58 502.17,378.8 C503.63,378.02 504.91,376.89 506.3,375.96 C507.69,375.04 509.12,374.18 510.5,373.24 C511.88,372.3 513.3,371.41 514.58,370.34 C515.85,369.28 516.84,367.84 518.15,366.84 C519.47,365.83 520.99,365.07 522.47,364.3 C523.94,363.52 526.25,362.54 527,362.18" fill="none" stroke="#9c9c9c" stroke-width="0.47" stroke-linejoin="round" />
<path d="M301.81,389.95 C302.62,389.63 305.1,388.74 306.7,388.03 C308.3,387.32 309.77,386.28 311.4,385.69 C313.04,385.09 314.79,384.61 316.51,384.45 C318.24,384.3 320.01,384.76 321.76,384.77 C323.51,384.78 325.27,384.39 327.01,384.52 C328.74,384.65 330.48,385.06 332.16,385.55 C333.84,386.04 335.52,386.64 337.06,387.45 C338.61,388.25 340,389.35 341.44,390.36 C342.87,391.37 344.42,392.28 345.65,393.5 C346.88,394.72 347.83,396.25 348.82,397.69 C349.82,399.13 350.9,400.56 351.62,402.14 C352.34,403.72 352.67,405.48 353.14,407.17 C353.61,408.86 353.87,410.62 354.46,412.26 C355.05,413.9 356.31,416.23 356.68,417.02" fill="none" stroke="#adadad" stroke-width="0.42" stroke-linejoin="round" />
<path d="M438.95,386.64 C439.78,386.91 442.31,387.64 443.95,388.22 C445.6,388.81 447.24,389.44 448.83,390.16 C450.42,390.88 451.88,391.93 453.5,392.55 C455.13,393.16 456.87,393.66 458.59,393.85 C460.31,394.03 462.09,393.76 463.83,393.66 C465.58,393.56 467.32,393.33 469.07,393.25 C470.81,393.16 472.6,393.41 474.32,393.14 C476.03,392.87 477.7,392.23 479.34,391.63 C480.98,391.02 482.64,390.38 484.14,389.5 C485.64,388.61 486.89,387.33 488.33,386.34 C489.76,385.34 492.01,383.98 492.75,383.51" fill="none" stroke="#a8a8a8" stroke-width="0.48" stroke-linejoin="round" />
<path d="M391.9,388.24 C392.74,388.18 395.29,388.1 396.96,387.87 C398.63,387.64 400.29,387.25 401.93,386.87 C403.58,386.48 405.19,385.9 406.84,385.58 C408.5,385.25 410.19,384.97 411.87,384.91 C413.56,384.85 415.25,385.12 416.94,385.21 C418.63,385.3 420.33,385.25 422.01,385.45 C423.68,385.65 425.32,386.23 427,386.4 C428.67,386.57 430.38,386.47 432.07,386.47 C433.76,386.48 435.46,386.5 437.14,386.4 C438.83,386.31 440.53,386.17 442.2,385.9 C443.86,385.64 445.52,385.25 447.15,384.82 C448.79,384.39 450.36,383.7 452,383.32 C453.65,382.95 455.34,382.71 457.02,382.58 C458.71,382.45 460.42,382.71 462.1,382.55 C463.78,382.39 465.46,382.06 467.09,381.63 C468.72,381.19 470.24,380.35 471.87,379.93 C473.5,379.5 476.04,379.21 476.87,379.06" fill="none" stroke="#b5b5b5" stroke-width="0.47" stroke-linejoin="round" />
<path d="M333.3,389.76 C334.15,389.69 336.7,389.52 338.39,389.33 C340.08,389.14 341.76,388.89 343.44,388.62 C345.12,388.35 346.78,387.97 348.47,387.72 C350.15,387.48 351.85,387.14 353.54,387.15 C355.23,387.16 356.96,387.38 358.61,387.77 C360.25,388.16 361.78,389.01 363.41,389.49 C365.05,389.96 366.78,390.11 368.39,390.63 C370,391.16 372.3,392.3 373.08,392.64" fill="none" stroke="#a1a1a1" stroke-width="0.43" stroke-linejoin="round" />
<path d="M300.32,395.34 C301.17,395.27 303.74,395.18 305.43,394.93 C307.11,394.67 308.76,394.19 310.43,393.82 C312.09,393.44 313.74,392.94 315.42,392.66 C317.1,392.39 318.82,392.12 320.52,392.16 C322.21,392.19 323.94,392.45 325.59,392.86 C327.24,393.27 328.89,393.85 330.41,394.6 C331.93,395.35 333.28,396.47 334.73,397.36 C336.19,398.25 337.66,399.12 339.15,399.95 C340.64,400.78 342.13,401.63 343.68,402.34 C345.24,403.05 346.99,403.37 348.46,404.2 C349.93,405.03 351.08,406.42 352.51,407.33 C353.95,408.24 355.5,409.03 357.09,409.64 C358.68,410.24 360.37,410.63 362.04,410.96 C363.71,411.29 365.48,411.2 367.12,411.63 C368.76,412.06 371.08,413.23 371.87,413.54" fill="none" stroke="#9b9b9b" stroke-width="0.43" stroke-linejoin="round" />
<path d="M466.77,396.58 C467.62,396.67 470.16,396.99 471.86,397.1 C473.56,397.21 475.29,397.39 476.97,397.24 C478.66,397.09 480.3,396.35 481.98,396.21 C483.67,396.08 485.39,396.38 487.09,396.42 C488.8,396.46 490.5,396.49 492.21,396.44 C493.91,396.39 495.61,396.19 497.31,396.15 C499.01,396.1 500.73,396.27 502.42,396.14 C504.12,396.02 505.87,395.88 507.48,395.39 C509.1,394.91 510.6,394.01 512.12,393.24 C513.64,392.47 515.14,391.65 516.6,390.78 C518.07,389.91 519.63,389.12 520.9,388.01 C522.17,386.89 523.66,384.76 524.21,384.11" fill="none" stroke="#a3a3a3" stroke-width="0.41" stroke-linejoin="round" />
<path d="M347.92,386.65 C348.78,386.53 351.36,386.15 353.09,385.96 C354.82,385.77 356.56,385.62 358.29,385.51 C360.03,385.41 361.79,385.51 363.51,385.3 C365.23,385.09 366.98,384.8 368.62,384.25 C370.26,383.7 371.72,382.66 373.33,382.01 C374.95,381.37 376.6,380.75 378.29,380.38 C379.98,380.01 381.78,380.13 383.48,379.81 C385.18,379.49 387.68,378.67 388.52,378.45" fill="none" stroke="#aaaaaa" stroke-width="0.46" stroke-linejoin="round" />
<path d="M492,398 C500,385 512,365 522,345 C526,338 532,336 536,340 C540,350 535,365 528,378 C520,390 510,404 505,412 C500,414 494,408 492,398 Z" fill="#fdfdfd"/>
<path d="M505,412 C512,404 520,392 528,378" fill="none" stroke="#222" stroke-width="0.8"/>
<path d="M492,398 C488,393 484,392 478,391" fill="none" stroke="#333" stroke-width="0.6"/>
<path d="M361.5,383 C367,382 372,384 377,388.5" fill="none" stroke="#000" stroke-width="1.6"/>
<path d="M283,393 L288,384 L294,392 Z" fill="none" stroke="#222" stroke-width="0.9"/>
<path d="M398,350 C400,356 399,362 397,366" fill="none" stroke="#111" stroke-width="1.2"/>
<path d="M463,388 C468,391 473,392 480,391" fill="none" stroke="#000" stroke-width="1.5"/>
<path d="M523,373 L526,371 L529,374 L526,377 Z" fill="#000"/>
<path d="M455,345 C458,342 461,341 464,343" fill="none" stroke="#111" stroke-width="1"/>
<path d="M509,395 C513,392 517,393 521,391" fill="none" stroke="#111" stroke-width="1"/>
</g>
<rect x="277.5" y="255" width="57.8" height="58.5" fill="#363636"/>
<path d="M298,271 C300,269.5 303,270 305,271 C306,270 310,269.5 312,271 C314,273 312,275.5 308,276 C305,276.3 303,274 301,273.5 C299.5,273 298,272.5 298,271 Z" fill="#cfcfcf" filter="url(#blur05)"/>
<path d="M304.5,271.5 C306.5,270 310,270.2 311,272 C311.5,274 309,275.5 306.5,275 C305,274.5 304,273 304.5,271.5 Z" fill="#ffffff" filter="url(#blur05)"/>
<circle cx="296" cy="269" r="0.8" fill="#ccc"/><circle cx="313" cy="266" r="0.6" fill="#aaa"/>
<path d="M283,310 C290,309 296,310 300,312" fill="none" stroke="#1a1a1a" stroke-width="0.8"/>
<rect x="277.5" y="255" width="57.8" height="58.5" fill="none" stroke="#ff1010" stroke-width="1.7" stroke-dasharray="5.2,3.6"/>
<rect x="435.4" y="254.3" width="110.7" height="69.2" fill="#363636"/>
<ellipse cx="468" cy="280.5" rx="3.2" ry="1.4" fill="#f4f4f4" transform="rotate(0 468 280.5)" filter="url(#blur05)"/>
<ellipse cx="492.5" cy="284" rx="2.8" ry="1.5" fill="#f4f4f4" transform="rotate(20 492.5 284)" filter="url(#blur05)"/>
<ellipse cx="500.5" cy="293.2" rx="7" ry="1.5" fill="#f4f4f4" transform="rotate(-40 500.5 293.2)" filter="url(#blur05)"/>
<ellipse cx="502.5" cy="285" rx="2" ry="1.5" fill="#f4f4f4" transform="rotate(45 502.5 285)" filter="url(#blur05)"/>
<ellipse cx="510.7" cy="277.6" rx="3" ry="1.4" fill="#f4f4f4" transform="rotate(10 510.7 277.6)" filter="url(#blur05)"/>
<ellipse cx="515.5" cy="296.8" rx="2.2" ry="1.3" fill="#f4f4f4" transform="rotate(0 515.5 296.8)" filter="url(#blur05)"/>
<ellipse cx="525.6" cy="280.4" rx="4" ry="1.4" fill="#f4f4f4" transform="rotate(50 525.6 280.4)" filter="url(#blur05)"/>
<ellipse cx="531.2" cy="296.8" rx="3.8" ry="1.5" fill="#f4f4f4" transform="rotate(-30 531.2 296.8)" filter="url(#blur05)"/>
<ellipse cx="535.5" cy="287.6" rx="1.5" ry="4.5" fill="#f4f4f4" transform="rotate(0 535.5 287.6)" filter="url(#blur05)"/>
<ellipse cx="542.4" cy="279.5" rx="3.5" ry="1.5" fill="#f4f4f4" transform="rotate(15 542.4 279.5)" filter="url(#blur05)"/>
<ellipse cx="543.5" cy="290.5" rx="1.8" ry="1.3" fill="#f4f4f4" transform="rotate(30 543.5 290.5)" filter="url(#blur05)"/>
<ellipse cx="487" cy="289" rx="1" ry="0.8" fill="#f4f4f4" transform="rotate(0 487 289)" filter="url(#blur05)"/>
<ellipse cx="520" cy="290" rx="1.2" ry="0.9" fill="#f4f4f4" transform="rotate(0 520 290)" filter="url(#blur05)"/>
<line x1="369.1" y1="253.2" x2="369.1" y2="423.5" stroke="#ff1010" stroke-width="1.6" stroke-dasharray="5.2,3.6"/>
<rect x="343" y="306.4" width="74" height="82.1" fill="none" stroke="#ff1010" stroke-width="1.7" stroke-dasharray="5.2,3.6"/>
<line x1="306.5" y1="296" x2="306.5" y2="282.5" stroke="#ff1010" stroke-width="1.6" stroke-dasharray="3.2,2.4"/><path d="M306.5,276 L309.7,282.5 L303.3,282.5 Z" fill="#ff1010"/>
<line x1="348.8" y1="301.3" x2="341.77" y2="291.82" stroke="#ff1010" stroke-width="1.6" stroke-dasharray="3.8,2.6"/><path d="M338.2,287 L344.34,289.91 L339.2,293.73 Z" fill="#ff1010"/>
<line x1="317" y1="390" x2="339.95" y2="354.75" stroke="#ff1010" stroke-width="1.6" stroke-dasharray="3.8,2.6"/><path d="M343.5,349.3 L342.8,356.6 L337.1,352.89 Z" fill="#ff1010"/>
<line x1="470.6" y1="304.9" x2="484.28" y2="300.6" stroke="#ff1010" stroke-width="1.6" stroke-dasharray="3.2,2.4"/><path d="M490,298.8 L485.24,303.65 L483.32,297.55 Z" fill="#ff1010"/>
<g>
<rect x="276.3" y="237.4" width="269.9" height="15.8" fill="url(#grayv)"/>
<rect x="276.3" y="237.4" width="269.9" height="15.8" fill="#000" filter="url(#speck3)" opacity="0.32"/>
<rect x="0" y="0" width="1" height="1" fill="url(#partv)" mask="url(#fadeh)" transform="translate(388.5,237.4) scale(83.5,15.8) translate(0,0)"/>
<rect x="388.5" y="240.56" width="83.5" height="8.69" fill="#fff" filter="url(#wmottle)" opacity="0.8" mask="url(#fadeh)"/>
<rect x="388.5" y="237.4" width="83.5" height="15.8" fill="#000" filter="url(#speck3)" opacity="0.15"/>
<path d="M472,237.4 H526 C531,237.4 534,242.14 535,245.3 C534,248.46 531,253.2 526,253.2 H472 Z" fill="url(#trackv)"/>
<rect x="535" y="237.4" width="11.2" height="15.8" fill="#858b8c"/>
<rect x="535" y="237.4" width="11.2" height="15.8" fill="#000" filter="url(#speck3)" opacity="0.7"/>
<rect x="536.5" y="242.14" width="2.5" height="6.32" fill="#fff" opacity="0.35" filter="url(#blur05)"/>
<rect x="276.3" y="252.3" width="269.9" height="0.9" fill="#5a5f60"/>
</g>
<line x1="387.7" y1="237.4" x2="387.7" y2="253.2" stroke="#ff1010" stroke-width="1.6" stroke-dasharray="5.2,3.6"/>
<line x1="471" y1="237.4" x2="471" y2="253.2" stroke="#ff1010" stroke-width="1.6" stroke-dasharray="5.2,3.6"/>
<text x="278.6" y="251.6" font-size="14" fill="#ff1010" font-weight="normal" text-anchor="start" font-family="'Liberation Serif', serif" stroke="#ff1010" stroke-width="0.2">d</text>
<text x="359" y="251.5" font-size="13" fill="#ff1010" font-weight="normal" text-anchor="start" font-family="'Liberation Serif', serif" stroke="#ff1010" stroke-width="0.2">Lc2</text>
<text x="443" y="251.5" font-size="13" fill="#ff1010" font-weight="normal" text-anchor="start" font-family="'Liberation Serif', serif" stroke="#ff1010" stroke-width="0.2">Lc3</text>
<text x="374.4" y="275.3" font-size="13.4" fill="#ff1010" font-weight="normal" text-anchor="start" font-family="'Liberation Serif', serif" stroke="#ff1010" stroke-width="0.2">Lc2</text>
<text x="286.5" y="306" font-size="14" fill="#ff1010" font-weight="normal" text-anchor="start" font-family="'Liberation Serif', serif" stroke="#ff1010" stroke-width="0.2">Flaking</text>
<text x="275" y="406.8" font-size="13.6" fill="#ff1010" font-weight="normal" text-anchor="start" font-family="'Liberation Serif', serif" stroke="#ff1010" stroke-width="0.2">Spallation</text>
<text x="443.1" y="319.2" font-size="14" fill="#ff1010" font-weight="normal" text-anchor="start" font-family="'Liberation Serif', serif" stroke="#ff1010" stroke-width="0.2">Cracks</text>
<rect x="55.9" y="541.29" width="35.9" height="81.71" fill="#000"/>
<rect x="91.8" y="525.62" width="36.4" height="97.38" fill="#ff0000"/>
<rect x="175.5" y="451.81" width="35.1" height="171.19" fill="#000"/>
<rect x="210.6" y="451.11" width="37.2" height="171.89" fill="#ff0000"/>
<rect x="32.6" y="437.3" width="238.7" height="185.7" fill="none" stroke="#2a2a2a" stroke-width="1.15"/>
<line x1="32.6" y1="623" x2="35.4" y2="623" stroke="#222" stroke-width="0.8" />
<g transform="translate(29,625.5) scale(1,1.05)"><text x="0" y="0" font-size="7.3" fill="#000" font-weight="bold" text-anchor="end" font-family="'Liberation Serif', serif" >0</text></g>
<line x1="32.6" y1="611.39" x2="34.2" y2="611.39" stroke="#222" stroke-width="0.8" />
<line x1="32.6" y1="599.79" x2="35.4" y2="599.79" stroke="#222" stroke-width="0.8" />
<g transform="translate(29,602.29) scale(1,1.05)"><text x="0" y="0" font-size="7.3" fill="#000" font-weight="bold" text-anchor="end" font-family="'Liberation Serif', serif" >20</text></g>
<line x1="32.6" y1="588.18" x2="34.2" y2="588.18" stroke="#222" stroke-width="0.8" />
<line x1="32.6" y1="576.58" x2="35.4" y2="576.58" stroke="#222" stroke-width="0.8" />
<g transform="translate(29,579.08) scale(1,1.05)"><text x="0" y="0" font-size="7.3" fill="#000" font-weight="bold" text-anchor="end" font-family="'Liberation Serif', serif" >40</text></g>
<line x1="32.6" y1="564.97" x2="34.2" y2="564.97" stroke="#222" stroke-width="0.8" />
<line x1="32.6" y1="553.36" x2="35.4" y2="553.36" stroke="#222" stroke-width="0.8" />
<g transform="translate(29,555.86) scale(1,1.05)"><text x="0" y="0" font-size="7.3" fill="#000" font-weight="bold" text-anchor="end" font-family="'Liberation Serif', serif" >60</text></g>
<line x1="32.6" y1="541.76" x2="34.2" y2="541.76" stroke="#222" stroke-width="0.8" />
<line x1="32.6" y1="530.15" x2="35.4" y2="530.15" stroke="#222" stroke-width="0.8" />
<g transform="translate(29,532.65) scale(1,1.05)"><text x="0" y="0" font-size="7.3" fill="#000" font-weight="bold" text-anchor="end" font-family="'Liberation Serif', serif" >80</text></g>
<line x1="32.6" y1="518.54" x2="34.2" y2="518.54" stroke="#222" stroke-width="0.8" />
<line x1="32.6" y1="506.94" x2="35.4" y2="506.94" stroke="#222" stroke-width="0.8" />
<g transform="translate(29,509.44) scale(1,1.05)"><text x="0" y="0" font-size="7.3" fill="#000" font-weight="bold" text-anchor="end" font-family="'Liberation Serif', serif" >100</text></g>
<line x1="32.6" y1="495.33" x2="34.2" y2="495.33" stroke="#222" stroke-width="0.8" />
<line x1="32.6" y1="483.73" x2="35.4" y2="483.73" stroke="#222" stroke-width="0.8" />
<g transform="translate(29,486.23) scale(1,1.05)"><text x="0" y="0" font-size="7.3" fill="#000" font-weight="bold" text-anchor="end" font-family="'Liberation Serif', serif" >120</text></g>
<line x1="32.6" y1="472.12" x2="34.2" y2="472.12" stroke="#222" stroke-width="0.8" />
<line x1="32.6" y1="460.51" x2="35.4" y2="460.51" stroke="#222" stroke-width="0.8" />
<g transform="translate(29,463.01) scale(1,1.05)"><text x="0" y="0" font-size="7.3" fill="#000" font-weight="bold" text-anchor="end" font-family="'Liberation Serif', serif" >140</text></g>
<line x1="32.6" y1="448.91" x2="34.2" y2="448.91" stroke="#222" stroke-width="0.8" />
<line x1="32.6" y1="437.3" x2="35.4" y2="437.3" stroke="#222" stroke-width="0.8" />
<g transform="translate(29,439.8) scale(1,1.05)"><text x="0" y="0" font-size="7.3" fill="#000" font-weight="bold" text-anchor="end" font-family="'Liberation Serif', serif" >160</text></g>
<text x="91.9" y="633.8" font-size="8.9" fill="#000" font-weight="bold" text-anchor="middle" font-family="'Liberation Serif', serif" stroke="#000" stroke-width="0.2">Lc2</text>
<text x="211.2" y="633.8" font-size="8.9" fill="#000" font-weight="bold" text-anchor="middle" font-family="'Liberation Serif', serif" stroke="#000" stroke-width="0.2">Lc3</text>
<text x="37.8" y="455" font-size="15.5" fill="#000" font-weight="normal" text-anchor="start" font-family="'Liberation Serif', serif" >e</text>
<text x="73.6" y="536.8" font-size="13" fill="#000" font-weight="normal" text-anchor="middle" font-family="'Liberation Serif', serif" >70.4</text>
<text x="110" y="523" font-size="13" fill="#ff0000" font-weight="normal" text-anchor="middle" font-family="'Liberation Serif', serif" >83.9</text>
<text x="191" y="450.5" font-size="13" fill="#000" font-weight="normal" text-anchor="middle" font-family="'Liberation Serif', serif" >147.5</text>
<text x="226.5" y="450.5" font-size="13" fill="#ff0000" font-weight="normal" text-anchor="middle" font-family="'Liberation Serif', serif" >148.1</text>
<text x="11.9" y="529.5" font-size="9.2" fill="#000" font-weight="bold" text-anchor="middle" font-family="'Liberation Serif', serif" transform="rotate(-90 11.9 529.5)" dy="3.1">Adhension strength (N)</text>
<rect x="305.8" y="441.6" width="229.5" height="175.4" fill="none" stroke="#444" stroke-width="0.9"/>
<line x1="305.8" y1="617" x2="305.8" y2="614.4" stroke="#444" stroke-width="0.8" />
<g transform="translate(305.8,624.8) scale(1,1.2)"><text x="0" y="0" font-size="7" fill="#000" font-weight="bold" text-anchor="middle" font-family="'Liberation Serif', serif" >0.0</text></g>
<line x1="324.8" y1="617" x2="324.8" y2="615.4" stroke="#444" stroke-width="0.8" />
<line x1="343.8" y1="617" x2="343.8" y2="614.4" stroke="#444" stroke-width="0.8" />
<g transform="translate(343.8,624.8) scale(1,1.2)"><text x="0" y="0" font-size="7" fill="#000" font-weight="bold" text-anchor="middle" font-family="'Liberation Serif', serif" >0.5</text></g>
<line x1="362.8" y1="617" x2="362.8" y2="615.4" stroke="#444" stroke-width="0.8" />
<line x1="381.8" y1="617" x2="381.8" y2="614.4" stroke="#444" stroke-width="0.8" />
<g transform="translate(381.8,624.8) scale(1,1.2)"><text x="0" y="0" font-size="7" fill="#000" font-weight="bold" text-anchor="middle" font-family="'Liberation Serif', serif" >1.0</text></g>
<line x1="400.8" y1="617" x2="400.8" y2="615.4" stroke="#444" stroke-width="0.8" />
<line x1="419.8" y1="617" x2="419.8" y2="614.4" stroke="#444" stroke-width="0.8" />
<g transform="translate(419.8,624.8) scale(1,1.2)"><text x="0" y="0" font-size="7" fill="#000" font-weight="bold" text-anchor="middle" font-family="'Liberation Serif', serif" >1.5</text></g>
<line x1="438.8" y1="617" x2="438.8" y2="615.4" stroke="#444" stroke-width="0.8" />
<line x1="457.8" y1="617" x2="457.8" y2="614.4" stroke="#444" stroke-width="0.8" />
<g transform="translate(457.8,624.8) scale(1,1.2)"><text x="0" y="0" font-size="7" fill="#000" font-weight="bold" text-anchor="middle" font-family="'Liberation Serif', serif" >2.0</text></g>
<line x1="476.8" y1="617" x2="476.8" y2="615.4" stroke="#444" stroke-width="0.8" />
<line x1="495.8" y1="617" x2="495.8" y2="614.4" stroke="#444" stroke-width="0.8" />
<g transform="translate(495.8,624.8) scale(1,1.2)"><text x="0" y="0" font-size="7" fill="#000" font-weight="bold" text-anchor="middle" font-family="'Liberation Serif', serif" >2.5</text></g>
<line x1="514.8" y1="617" x2="514.8" y2="615.4" stroke="#444" stroke-width="0.8" />
<line x1="533.8" y1="617" x2="533.8" y2="614.4" stroke="#444" stroke-width="0.8" />
<g transform="translate(533.8,624.8) scale(1,1.2)"><text x="0" y="0" font-size="7" fill="#000" font-weight="bold" text-anchor="middle" font-family="'Liberation Serif', serif" >3.0</text></g>
<line x1="305.8" y1="617" x2="308.4" y2="617" stroke="#444" stroke-width="0.8" />
<g transform="translate(301.8,619.6) scale(1,1.25)"><text x="0" y="0" font-size="6.7" fill="#000" font-weight="bold" text-anchor="end" font-family="'Liberation Serif', serif" >0</text></g>
<line x1="305.8" y1="602.38" x2="307.4" y2="602.38" stroke="#444" stroke-width="0.8" />
<line x1="305.8" y1="587.77" x2="308.4" y2="587.77" stroke="#444" stroke-width="0.8" />
<g transform="translate(301.8,590.37) scale(1,1.25)"><text x="0" y="0" font-size="6.7" fill="#000" font-weight="bold" text-anchor="end" font-family="'Liberation Serif', serif" >5,000</text></g>
<line x1="305.8" y1="573.15" x2="307.4" y2="573.15" stroke="#444" stroke-width="0.8" />
<line x1="305.8" y1="558.53" x2="308.4" y2="558.53" stroke="#444" stroke-width="0.8" />
<g transform="translate(301.8,561.13) scale(1,1.25)"><text x="0" y="0" font-size="6.7" fill="#000" font-weight="bold" text-anchor="end" font-family="'Liberation Serif', serif" >10,000</text></g>
<line x1="305.8" y1="543.92" x2="307.4" y2="543.92" stroke="#444" stroke-width="0.8" />
<line x1="305.8" y1="529.3" x2="308.4" y2="529.3" stroke="#444" stroke-width="0.8" />
<g transform="translate(301.8,531.9) scale(1,1.25)"><text x="0" y="0" font-size="6.7" fill="#000" font-weight="bold" text-anchor="end" font-family="'Liberation Serif', serif" >15,000</text></g>
<line x1="305.8" y1="514.68" x2="307.4" y2="514.68" stroke="#444" stroke-width="0.8" />
<line x1="305.8" y1="500.07" x2="308.4" y2="500.07" stroke="#444" stroke-width="0.8" />
<g transform="translate(301.8,502.67) scale(1,1.25)"><text x="0" y="0" font-size="6.7" fill="#000" font-weight="bold" text-anchor="end" font-family="'Liberation Serif', serif" >20,000</text></g>
<line x1="305.8" y1="485.45" x2="307.4" y2="485.45" stroke="#444" stroke-width="0.8" />
<line x1="305.8" y1="470.83" x2="308.4" y2="470.83" stroke="#444" stroke-width="0.8" />
<g transform="translate(301.8,473.43) scale(1,1.25)"><text x="0" y="0" font-size="6.7" fill="#000" font-weight="bold" text-anchor="end" font-family="'Liberation Serif', serif" >25,000</text></g>
<line x1="305.8" y1="456.22" x2="307.4" y2="456.22" stroke="#444" stroke-width="0.8" />
<line x1="305.8" y1="441.6" x2="308.4" y2="441.6" stroke="#444" stroke-width="0.8" />
<g transform="translate(301.8,444.2) scale(1,1.25)"><text x="0" y="0" font-size="6.7" fill="#000" font-weight="bold" text-anchor="end" font-family="'Liberation Serif', serif" >30,000</text></g>
<text x="420.8" y="638.8" font-size="8.3" fill="#000" font-weight="bold" text-anchor="middle" font-family="'Liberation Serif', serif" stroke="#000" stroke-width="0.15">Distance (mm)</text>
<text x="277.3" y="530" font-size="8.1" fill="#000" font-weight="bold" text-anchor="middle" font-family="'Liberation Serif', serif" transform="rotate(-90 277.3 530)" dy="2.9">Residual depth (nm)</text>
<text x="315.6" y="453.8" font-size="14" fill="#000" font-weight="normal" text-anchor="start" font-family="'Liberation Serif', serif" >f</text>
<line x1="349.7" y1="441.6" x2="349.7" y2="617" stroke="#22dd22" stroke-width="1.1" stroke-dasharray="3,2.2"/>
<line x1="385.2" y1="441.6" x2="385.2" y2="617" stroke="#ff2222" stroke-width="1.1" />
<line x1="401.2" y1="441.6" x2="401.2" y2="617" stroke="#2222ff" stroke-width="1.1" />
<line x1="475.3" y1="441.6" x2="475.3" y2="617" stroke="#6a00b0" stroke-width="1.3" />
<polyline points="306,617 307.44,617 308.88,617 310.31,617 311.75,617 313.19,617 314.62,617 316.06,617 317.5,617 319,616.44 320.5,616.4 322,615.92 323.5,615.81 325,615.51 326.43,614.57 327.86,614.08 329.29,614.38 330.71,613.41 332.14,612.95 333.57,613.19 335,612.27 336.34,612.18 337.67,611.42 339.01,611.14 340.35,610.28 341.68,610.29 343.02,610.07 344.35,609.33 345.69,609.1 347.03,608.61 348.36,607.63 349.7,607.83 351.17,607.25 352.64,606.56 354.11,605.89 355.59,606.21 357.06,605.43 358.53,605.23 360,604.94 361.33,604.35 362.67,604.09 364,603.17 365.33,603.09 366.67,602.33 368,602.33 369.33,601.83 370.67,600.68 372,600.27 373.46,599.87 374.91,600.06 376.37,599.11 377.82,598.8 379.28,598.03 380.73,597.74 382.19,597.15 383.64,596.64 385.1,596.38 386.68,595.92 388.26,595.74 389.84,595.08 391.42,594.85 393,594.32 394.42,593.99 395.83,593.25 397.25,592.35 398.67,592.52 400.08,592.17 401.5,591.66 402.8,590.7 404.1,590.17 405.4,589.06 406.7,588.96 408,588.07 409.38,586.98 410.75,585.96 412.12,585.84 413.5,585.14 414.88,583.95 416.25,584.22 417.62,583.49 419,582.89 420.23,582.1 421.47,581.61 422.7,580.79 423.93,579.12 425.17,578.72 426.4,577.29 427.8,577.6 429.2,576.95 430.6,577.14 432,576.93 433.43,575.95 434.85,575.85 436.27,574.68 437.7,573.92 439.02,573.91 440.35,572.93 441.68,572.6 443,572.32 444.5,571.85 446,570.79 447.5,570.04 449,570.13 450.5,568.93 452,568.81 453.5,568.06 455,566.89 456.38,566.21 457.75,565.52 459.12,564.88 460.5,564.09 461.88,563.43 463.25,562.86 464.62,562.52 466,561.51 467.18,560.66 468.35,560.15 469.52,558.94 470.7,558.22 471.6,557.47 472.5,555.7 473.4,554.36 474.3,552.52 475.2,551.52 476.15,550.54 477.1,548.9 478.05,548.3 479,547.19 479.95,545.54 480.9,544.91 481.93,543.67 482.97,542.76 484,541.37 485.23,540.52 486.47,539.38 487.7,537.57 488.47,536.27 489.23,535.49 490,534.42 491.15,532.33 492.3,531.06 493.8,530.45 495.3,529.47 496.8,528.78 497.53,527.43 498.27,526.18 499,525.09 500.17,523.82 501.33,522.89 502.5,522.25 503.75,520.82 505,520.56 506.6,519.76 508.2,518.43 509.6,517.05 511,516.27 512,514.71 513,513.62 514,512.79 515,511.98 516.5,510.04 518,508.84 519.35,507.4 520.7,506.4 521.3,504.68 521.9,503.69 522.5,502 523.3,500.65 524.1,499.3 525.25,498.15 526.4,497 526.72,498.6 527.04,500.2 527.36,501.8 527.68,503.4 528,505 528.13,506.46 528.26,507.93 528.39,509.39 528.51,510.86 528.64,512.32 528.77,513.79 528.9,515.25 529.03,516.71 529.16,518.18 529.29,519.64 529.41,521.11 529.54,522.57 529.67,524.04 529.8,525.5 529.91,526.94 530.02,528.38 530.14,529.81 530.25,531.25 530.36,532.69 530.47,534.12 530.59,535.56 530.7,537 530.81,538.44 530.92,539.88 531.04,541.31 531.15,542.75 531.26,544.19 531.38,545.62 531.49,547.06 531.6,548.5 531.71,549.94 531.83,551.38 531.94,552.81 532.05,554.25 532.16,555.69 532.27,557.12 532.39,558.56 532.5,560 532.59,561.41 532.69,562.83 532.78,564.24 532.87,565.66 532.96,567.07 533.06,568.49 533.15,569.9 533.24,571.32 533.33,572.73 533.43,574.15 533.52,575.56 533.61,576.98 533.7,578.39 533.8,579.81 533.89,581.22 533.98,582.64 534.07,584.05 534.17,585.47 534.26,586.88 534.35,588.3 534.44,589.71 534.54,591.13 534.63,592.54 534.72,593.96 534.81,595.37 534.91,596.79 535,598.2" fill="none" stroke="#555" stroke-width="0.85" stroke-linejoin="round" />
<polyline points="306,614.8 308,616.5 310,616.75 312,617 313.45,617 314.9,617 316.35,617 317.8,617 319.25,617 320.7,617 322.15,617 323.6,617 325.05,617 326.5,617 327.95,617 329.4,617 330.85,617 332.3,617 333.75,617 335.2,617 336.65,617 338.1,617 339.55,617 341,617 342.45,617 343.9,617 345.35,617 346.8,617 348.25,617 349.7,617 351.47,616.53 353.23,616.2 355,615.87 356.4,615.4 357.8,615.05 359.2,614.3 360.6,613.98 362,612.48 363.6,612.46 365.2,612.49 366.8,611.66 368.4,611.44 370,610.07 371.4,610.09 372.8,609.46 374.2,609.41 375.6,609.06 377,608.06 378.6,607.87 380.2,607.52 381.8,607.8 383.4,607.21 385,606.13 386.4,606.43 387.8,605.3 389.2,605.43 390.6,604.49 392,603.95 393.4,604.33 394.8,603.01 396.2,602.44 397.6,602.7 399,601.99 400.4,600.77 400.77,599.71 401.13,597.44 401.5,595.8 403.25,594.73 405,594.99 406.33,593.98 407.67,593.55 409,592.73 410.5,591.38 412,590.75 413.5,589.83 416,588.61 417,587.09 418,585.91 419,584.81 420.4,582.95 421.8,582.5 424,583.32 425.75,583.14 427.5,583.55 428.75,581.58 430,579.8 432,578.88 433.43,578.28 434.85,576.71 436.27,576.87 437.7,574.98 439.47,575.27 441.23,574.88 443,573.47 444.5,574.12 446,573.45 447.5,573.49 449,572.66 450.5,572.28 452,572 453.5,572.43 455,571.17 456.38,571.36 457.75,571.12 459.12,570.71 460.5,569.63 462,568.87 463.5,568.29 465,567.8 466.12,566.19 467.25,566.02 468.38,565.2 469.5,564.4 470.93,562.67 472.35,562.84 473.77,561.08 475.2,560.52 476.47,560.09 477.73,559.69 479,558.32 480.4,558.17 481.8,556.95 483.2,555.89 484.1,554.78 485,553.51 485.9,552.28 486.8,551.23 487.7,550.71 488.47,549.55 489.23,547.13 490,545.5 490.77,545 491.53,542.97 492.3,541.3 492.87,539.48 493.43,538.24 494,536.86 494.57,535.05 495.13,533.61 495.7,531.81 497.5,534.26 499,531.99 499.34,530.99 499.69,529.87 500.03,527.59 500.37,526.75 500.71,525.49 501.06,523.64 501.4,522.32 502.3,520.45 503.2,519.69 504.1,518.25 505,517.9 505.9,516.17 507.05,515.2 508.2,514.65 509.35,513.34 510.5,512.32 511.62,510.62 512.75,509.54 513.88,508.68 515,507.28 516,505.92 517,504.89 517.5,503.25 518,502.14 518.5,501.46 519,500.07 519.5,498.34 520.5,497.1 521.5,495.82 523.6,494.8 525.5,496 526.25,497.5 527,499 527.27,500.38 527.53,501.77 527.8,503.15 528.07,504.53 528.33,505.92 528.6,507.3 528.71,508.7 528.82,510.11 528.93,511.51 529.04,512.92 529.15,514.32 529.26,515.73 529.37,517.13 529.48,518.54 529.59,519.94 529.7,521.35 529.8,522.75 529.91,524.16 530.02,525.56 530.13,526.97 530.24,528.37 530.35,529.78 530.46,531.18 530.57,532.59 530.68,533.99 530.79,535.4 530.9,536.8 530.99,538.24 531.08,539.69 531.17,541.13 531.27,542.57 531.36,544.02 531.45,545.46 531.54,546.9 531.63,548.35 531.72,549.79 531.81,551.23 531.9,552.68 532,554.12 532.09,555.57 532.18,557.01 532.27,558.45 532.36,559.9 532.45,561.34 532.54,562.78 532.63,564.23 532.73,565.67 532.82,567.11 532.91,568.56 533,570 533.1,571.41 533.2,572.82 533.3,574.23 533.4,575.64 533.5,577.05 533.6,578.46 533.7,579.87 533.8,581.28 533.9,582.69 534,584.1 534.1,585.51 534.2,586.92 534.3,588.33 534.4,589.74 534.5,591.15 534.6,592.56 534.7,593.97 534.8,595.38 534.9,596.79 535,598.2" fill="none" stroke="#e8a50a" stroke-width="1.1" stroke-linejoin="round" />
<text x="374.3" y="504.2" font-size="14" fill="#ff2020" font-weight="normal" text-anchor="middle" font-family="'Liberation Serif', serif" transform="rotate(-90 374.3 504.2)" dy="4.6">Lc2 (CrAlN)</text>
<text x="413.4" y="497.2" font-size="14" fill="#2a4cff" font-weight="normal" text-anchor="middle" font-family="'Liberation Serif', serif" transform="rotate(-90 413.4 497.2)" dy="4.6">Lc3 (CrAlBN)</text>
<text x="463.7" y="504.8" font-size="14" fill="#ff2020" font-weight="normal" text-anchor="middle" font-family="'Liberation Serif', serif" transform="rotate(-90 463.7 504.8)" dy="4.6">Lc2 (CrAlN)</text>
<text x="486" y="486.4" font-size="14" fill="#2a4cff" font-weight="normal" text-anchor="middle" font-family="'Liberation Serif', serif" transform="rotate(-90 486 486.4)" dy="4.6">Lc3 (CrAlBN)</text>
<text x="426.3" y="557.2" font-size="14.2" fill="#111" font-weight="normal" text-anchor="start" font-family="'Liberation Serif', serif" >CrAlN</text>
<text x="481" y="578.6" font-size="13.8" fill="#d9a020" font-weight="normal" text-anchor="start" font-family="'Liberation Serif', serif" >CrAlBN</text>
</svg>
</body></html>
